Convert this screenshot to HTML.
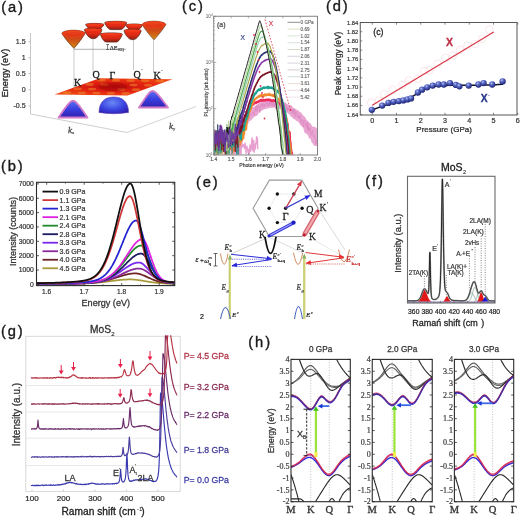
<!DOCTYPE html>
<html><head><meta charset="utf-8"><title>MoS2 figure</title>
<style>html,body{margin:0;padding:0;background:#fff;width:520px;height:519px;overflow:hidden}
svg{display:block}</style></head><body>
<svg width="520" height="519" viewBox="0 0 520 519"><defs>
<linearGradient id="coneG" x1="0" y1="0" x2="0" y2="1">
 <stop offset="0" stop-color="#e03818"/><stop offset="0.5" stop-color="#d04a18"/><stop offset="1" stop-color="#d08a10"/></linearGradient>
<linearGradient id="bowlG" x1="0" y1="0" x2="0" y2="1">
 <stop offset="0" stop-color="#f03418"/><stop offset="0.55" stop-color="#e02a14"/><stop offset="1" stop-color="#902014"/></linearGradient>
<radialGradient id="topG" cx="0.5" cy="0.5" r="0.6">
 <stop offset="0" stop-color="#f85a28"/><stop offset="1" stop-color="#e83414"/></radialGradient>
<radialGradient id="planeG" cx="0.5" cy="0.5" r="0.55">
 <stop offset="0" stop-color="#b0080c"/><stop offset="0.35" stop-color="#d81a10"/><stop offset="0.7" stop-color="#e82e12"/><stop offset="1" stop-color="#ee4a16"/></radialGradient>
<linearGradient id="domeG" x1="0" y1="0" x2="0" y2="1">
 <stop offset="0" stop-color="#5a70f0"/><stop offset="0.5" stop-color="#3a3ee0"/><stop offset="1" stop-color="#3020b0"/></linearGradient>
<radialGradient id="domeG2" cx="0.45" cy="0.35" r="0.7">
 <stop offset="0" stop-color="#6a88f4"/><stop offset="0.6" stop-color="#3a44e0"/><stop offset="1" stop-color="#3020b0"/></radialGradient>
<radialGradient id="ball" cx="0.38" cy="0.32" r="0.7">
<stop offset="0" stop-color="#b8c4f0"/><stop offset="0.35" stop-color="#5a6ac8"/><stop offset="1" stop-color="#1a2070"/></radialGradient><marker id="ahR" markerWidth="6" markerHeight="6" refX="5" refY="3" orient="auto" markerUnits="userSpaceOnUse">
<path d="M0,0.6 L5.5,3 L0,5.4 Z" fill="#d83a48"/></marker>
<marker id="ahB" markerWidth="6" markerHeight="6" refX="5" refY="3" orient="auto" markerUnits="userSpaceOnUse">
<path d="M0,0.6 L5.5,3 L0,5.4 Z" fill="#2828d8"/></marker>
<marker id="ahRr" markerWidth="6" markerHeight="6" refX="5" refY="3" orient="auto" markerUnits="userSpaceOnUse">
<path d="M0,0.6 L5.5,3 L0,5.4 Z" fill="#e83030"/></marker>
<marker id="ahG" markerWidth="6" markerHeight="6" refX="5" refY="3" orient="auto" markerUnits="userSpaceOnUse">
<path d="M0,0.8 L5,3 L0,5.2 Z" fill="#98c060"/></marker>
<linearGradient id="yel" x1="0" y1="0" x2="0" y2="1"><stop offset="0" stop-color="#c8d870"/><stop offset="1" stop-color="#e0d860"/></linearGradient></defs><text x="1.2" y="11.6" font-size="14.7" fill="#1a1a1a" text-anchor="start" font-family="'Liberation Sans', Arial, sans-serif" stroke="#1a1a1a" stroke-width="0.37" letter-spacing="1.9">(a)</text>
<text x="1" y="170.5" font-size="14.7" fill="#1a1a1a" text-anchor="start" font-family="'Liberation Sans', Arial, sans-serif" stroke="#1a1a1a" stroke-width="0.37" letter-spacing="1.9">(b)</text>
<text x="182" y="10.5" font-size="14.7" fill="#1a1a1a" text-anchor="start" font-family="'Liberation Sans', Arial, sans-serif" stroke="#1a1a1a" stroke-width="0.37" letter-spacing="1.9">(c)</text>
<text x="326" y="10.5" font-size="14.7" fill="#1a1a1a" text-anchor="start" font-family="'Liberation Sans', Arial, sans-serif" stroke="#1a1a1a" stroke-width="0.37" letter-spacing="1.9">(d)</text>
<text x="196" y="186.8" font-size="14.7" fill="#1a1a1a" text-anchor="start" font-family="'Liberation Sans', Arial, sans-serif" stroke="#1a1a1a" stroke-width="0.37" letter-spacing="1.9">(e)</text>
<text x="365.3" y="186.2" font-size="14.7" fill="#1a1a1a" text-anchor="start" font-family="'Liberation Sans', Arial, sans-serif" stroke="#1a1a1a" stroke-width="0.37" letter-spacing="1.9">(f)</text>
<text x="1" y="336.1" font-size="14.7" fill="#1a1a1a" text-anchor="start" font-family="'Liberation Sans', Arial, sans-serif" stroke="#1a1a1a" stroke-width="0.37" letter-spacing="1.9">(g)</text>
<text x="248.3" y="347.3" font-size="14.7" fill="#1a1a1a" text-anchor="start" font-family="'Liberation Sans', Arial, sans-serif" stroke="#1a1a1a" stroke-width="0.37" letter-spacing="1.9">(h)</text>
<line x1="30.5" y1="33" x2="30.5" y2="114" stroke="#c8c8c8" stroke-width="1"/>
<line x1="30.5" y1="114" x2="127" y2="132.5" stroke="#cfcfcf" stroke-width="1"/>
<line x1="127" y1="132.5" x2="196" y2="106.5" stroke="#d4d4d4" stroke-width="1"/>
<line x1="28.5" y1="41.8" x2="31" y2="41.8" stroke="#b0b0b0" stroke-width="0.8"/>
<text x="25.6" y="44.1" font-size="7" fill="#333" text-anchor="end" font-family="'Liberation Sans', Arial, sans-serif" stroke="#333" stroke-width="0.21">1.5</text>
<line x1="28.5" y1="57.8" x2="31" y2="57.8" stroke="#b0b0b0" stroke-width="0.8"/>
<text x="25.6" y="60.1" font-size="7" fill="#333" text-anchor="end" font-family="'Liberation Sans', Arial, sans-serif" stroke="#333" stroke-width="0.21">1</text>
<line x1="28.5" y1="73.7" x2="31" y2="73.7" stroke="#b0b0b0" stroke-width="0.8"/>
<text x="25.6" y="76" font-size="7" fill="#333" text-anchor="end" font-family="'Liberation Sans', Arial, sans-serif" stroke="#333" stroke-width="0.21">0.5</text>
<line x1="28.5" y1="89.8" x2="31" y2="89.8" stroke="#b0b0b0" stroke-width="0.8"/>
<text x="25.6" y="92.1" font-size="7" fill="#333" text-anchor="end" font-family="'Liberation Sans', Arial, sans-serif" stroke="#333" stroke-width="0.21">0</text>
<line x1="28.5" y1="106" x2="31" y2="106" stroke="#b0b0b0" stroke-width="0.8"/>
<text x="25.6" y="108.3" font-size="7" fill="#333" text-anchor="end" font-family="'Liberation Sans', Arial, sans-serif" stroke="#333" stroke-width="0.21">-0.5</text>
<text x="7.6" y="73" font-size="9.1" fill="#222" text-anchor="middle" font-family="'Liberation Sans', Arial, sans-serif" stroke="#222" stroke-width="0.27" transform="rotate(-90 7.6 73)">Energy (eV)</text>
<line x1="74" y1="48" x2="74" y2="88" stroke="#bdbdbd" stroke-width="0.8"/>
<line x1="93" y1="39" x2="93" y2="73" stroke="#bdbdbd" stroke-width="0.8"/>
<line x1="133.5" y1="40" x2="133.5" y2="70" stroke="#bdbdbd" stroke-width="0.8"/>
<line x1="153.5" y1="40" x2="153.5" y2="72" stroke="#bdbdbd" stroke-width="0.8"/>
<line x1="74" y1="49.3" x2="126" y2="49.3" stroke="#9a9a9a" stroke-width="0.8"/>
<line x1="107.6" y1="44.5" x2="107.6" y2="49.5" stroke="#444" stroke-width="0.7"/>
<line x1="106.2" y1="44.5" x2="109" y2="44.5" stroke="#444" stroke-width="0.7"/>
<line x1="106.2" y1="49.5" x2="109" y2="49.5" stroke="#444" stroke-width="0.7"/>
<text x="109.8" y="49.5" font-size="6.3" fill="#333" text-anchor="start" font-family="'Liberation Serif', 'Times New Roman', serif" stroke="#333" stroke-width="0.19">ΔE</text>
<text x="118.2" y="51" font-size="4" fill="#333" text-anchor="start" font-family="'Liberation Serif', 'Times New Roman', serif" stroke="#333" stroke-width="0.12">KQ</text>
<path d="M104.7,22.6 C106.35,26.45 108.33,29.6 111.08,29.6 L120.32,29.6 C123.07,29.6 125.05,26.45 126.7,22.6 A11,1.3 0 0 0 104.7,22.6 Z" fill="url(#bowlG)" stroke="#5a2010" stroke-width="0.8"/>
<ellipse cx="115.7" cy="22.6" rx="11" ry="1.3" fill="#f03c1c"/>
<path d="M85.6,24.6 C86.98,27.35 89.74,29.6 92.04,29.6 L97.56,29.6 C99.86,29.6 102.62,27.35 104,24.6 A9.2,1.2 0 0 0 85.6,24.6 Z" fill="url(#bowlG)" stroke="#5a2010" stroke-width="0.8"/>
<ellipse cx="94.8" cy="24.6" rx="9.2" ry="1.2" fill="#f03c1c"/>
<path d="M125.9,25.2 C127.13,27.95 129.59,30.2 131.64,30.2 L136.56,30.2 C138.61,30.2 141.07,27.95 142.3,25.2 A8.2,1.2 0 0 0 125.9,25.2 Z" fill="url(#bowlG)" stroke="#5a2010" stroke-width="0.8"/>
<ellipse cx="134.1" cy="25.2" rx="8.2" ry="1.2" fill="#f03c1c"/>
<path d="M84.4,29.6 C85.72,34.55 89.94,38.6 92.14,38.6 L94.26,38.6 C96.46,38.6 100.68,34.55 102,29.6 A8.8,1.3 0 0 0 84.4,29.6 Z" fill="url(#bowlG)" stroke="#5a2010" stroke-width="0.8"/>
<ellipse cx="93.2" cy="29.6" rx="8.8" ry="1.3" fill="#f03c1c"/>
<path d="M124,30.6 C125.29,35.55 129.42,39.6 131.57,39.6 L133.63,39.6 C135.78,39.6 139.91,35.55 141.2,30.6 A8.6,1.3 0 0 0 124,30.6 Z" fill="url(#bowlG)" stroke="#5a2010" stroke-width="0.8"/>
<ellipse cx="132.6" cy="30.6" rx="8.6" ry="1.3" fill="#f03c1c"/>
<path d="M100.3,34.2 C101.95,38.49 103.93,42 106.68,42 L115.92,42 C118.67,42 120.65,38.49 122.3,34.2 A11,1.3 0 0 0 100.3,34.2 Z" fill="url(#bowlG)" stroke="#5a2010" stroke-width="0.8"/>
<ellipse cx="111.3" cy="34.2" rx="11" ry="1.3" fill="#f03c1c"/>
<path d="M61.9,33.4 C65.15,39.06 72.16,46.51 73.9,48.3 C75.64,46.51 81.85,39.06 85.1,33.4 A11.6,3.2 0 0 0 61.9,33.4 Z" fill="url(#coneG)" stroke="#6a3010" stroke-width="0.7"/>
<ellipse cx="73.5" cy="33.4" rx="11.6" ry="3.2" fill="url(#topG)"/>
<ellipse cx="73.5" cy="34.04" rx="8.7" ry="1.92" fill="#d82a10" opacity="0.55"/>
<path d="M142.2,24.6 C145.5,30.38 152.23,37.98 154,39.8 C155.77,37.98 162.5,30.38 165.8,24.6 A11.8,3.4 0 0 0 142.2,24.6 Z" fill="url(#coneG)" stroke="#6a3010" stroke-width="0.7"/>
<ellipse cx="154" cy="24.6" rx="11.8" ry="3.4" fill="url(#topG)"/>
<ellipse cx="154" cy="25.28" rx="8.85" ry="2.04" fill="#d82a10" opacity="0.55"/>
<polygon points="54.5,94.5 99.5,78.2 172.5,79.2 127.5,95.5" fill="url(#planeG)" stroke="none" stroke-width="0"/>
<ellipse cx="67.2" cy="92.64" rx="4.2" ry="1.4" fill="#f0a030" opacity="0.45"/>
<ellipse cx="81.8" cy="92.84" rx="4.2" ry="1.4" fill="#f0a030" opacity="0.45"/>
<ellipse cx="96.4" cy="93.04" rx="4.2" ry="1.4" fill="#f0a030" opacity="0.45"/>
<ellipse cx="111" cy="93.24" rx="4.2" ry="1.4" fill="#f0a030" opacity="0.45"/>
<ellipse cx="125.6" cy="93.44" rx="4.2" ry="1.4" fill="#f0a030" opacity="0.45"/>
<ellipse cx="77.55" cy="88.89" rx="4.2" ry="1.4" fill="#f0a030" opacity="0.45"/>
<ellipse cx="92.15" cy="89.09" rx="4.2" ry="1.4" fill="#f0a030" opacity="0.45"/>
<ellipse cx="121.35" cy="89.5" rx="4.2" ry="1.4" fill="#f0a030" opacity="0.45"/>
<ellipse cx="135.95" cy="89.7" rx="4.2" ry="1.4" fill="#f0a030" opacity="0.45"/>
<ellipse cx="89.7" cy="84.49" rx="4.2" ry="1.4" fill="#f0a030" opacity="0.45"/>
<ellipse cx="104.3" cy="84.69" rx="4.2" ry="1.4" fill="#f0a030" opacity="0.45"/>
<ellipse cx="133.5" cy="85.09" rx="4.2" ry="1.4" fill="#f0a030" opacity="0.45"/>
<ellipse cx="148.1" cy="85.29" rx="4.2" ry="1.4" fill="#f0a030" opacity="0.45"/>
<ellipse cx="101.4" cy="80.26" rx="4.2" ry="1.4" fill="#f0a030" opacity="0.45"/>
<ellipse cx="116" cy="80.46" rx="4.2" ry="1.4" fill="#f0a030" opacity="0.45"/>
<ellipse cx="130.6" cy="80.66" rx="4.2" ry="1.4" fill="#f0a030" opacity="0.45"/>
<ellipse cx="145.2" cy="80.86" rx="4.2" ry="1.4" fill="#f0a030" opacity="0.45"/>
<ellipse cx="159.8" cy="81.06" rx="4.2" ry="1.4" fill="#f0a030" opacity="0.45"/>
<ellipse cx="113" cy="86.8" rx="14" ry="4.5" fill="#a80808" opacity="0.5"/>
<polygon points="58.5,117.5 59.09,116.64 59.68,115.77 60.28,114.92 60.87,114.06 61.46,113.21 62.05,112.37 62.64,111.53 63.23,110.69 63.83,109.87 64.42,109.05 65.01,108.24 65.6,107.45 66.19,106.67 66.79,105.91 67.38,105.17 67.97,104.45 68.56,103.77 69.15,103.13 69.74,102.54 70.34,102.01 70.93,101.56 71.52,101.2 72.11,100.95 72.7,100.82 73.3,100.82 73.89,100.95 74.48,101.2 75.07,101.56 75.66,102.01 76.26,102.54 76.85,103.13 77.44,103.77 78.03,104.45 78.62,105.17 79.21,105.91 79.81,106.67 80.4,107.45 80.99,108.24 81.58,109.05 82.17,109.87 82.77,110.69 83.36,111.53 83.95,112.37 84.54,113.21 85.13,114.06 85.72,114.92 86.32,115.77 86.91,116.64 87.5,117.5" fill="url(#domeG)" stroke="#d27ac6" stroke-width="1.8" stroke-linejoin="round"/>
<polygon points="139,107.5 139.59,106.58 140.18,105.67 140.78,104.76 141.37,103.85 141.96,102.95 142.55,102.06 143.14,101.17 143.73,100.29 144.33,99.42 144.92,98.56 145.51,97.71 146.1,96.88 146.69,96.07 147.29,95.29 147.88,94.53 148.47,93.81 149.06,93.14 149.65,92.53 150.24,92 150.84,91.56 151.43,91.24 152.02,91.05 152.61,91 153.2,91.08 153.8,91.27 154.39,91.55 154.98,91.92 155.57,92.37 156.16,92.88 156.76,93.44 157.35,94.04 157.94,94.67 158.53,95.34 159.12,96.02 159.71,96.73 160.31,97.44 160.9,98.18 161.49,98.92 162.08,99.67 162.67,100.43 163.27,101.2 163.86,101.97 164.45,102.75 165.04,103.53 165.63,104.32 166.22,105.11 166.82,105.9 167.41,106.7 168,107.5" fill="url(#domeG)" stroke="#d27ac6" stroke-width="1.8" stroke-linejoin="round"/>
<path d="M99,112.5 C99,101 106,97 113.7,97 C121.5,97 128.5,101 128.5,112.5 Q113.7,115 99,112.5 Z" fill="url(#domeG2)" stroke="#5a3ab0" stroke-width="0.6"/>
<text x="77.5" y="86.3" font-size="10" fill="#1a1a1a" text-anchor="middle" font-family="'Liberation Serif', 'Times New Roman', serif" stroke="#1a1a1a" stroke-width="0.3">K</text>
<text x="96" y="78.3" font-size="10" fill="#1a1a1a" text-anchor="middle" font-family="'Liberation Serif', 'Times New Roman', serif" stroke="#1a1a1a" stroke-width="0.3">Q</text>
<text x="112.5" y="79.3" font-size="10" fill="#1a1a1a" text-anchor="middle" font-family="'Liberation Serif', 'Times New Roman', serif" stroke="#1a1a1a" stroke-width="0.3">Γ</text>
<text x="137" y="78.3" font-size="10" fill="#1a1a1a" text-anchor="middle" font-family="'Liberation Serif', 'Times New Roman', serif" stroke="#1a1a1a" stroke-width="0.3">Q</text>
<text x="141.5" y="72" font-size="5" fill="#1a1a1a" text-anchor="start" font-family="'Liberation Serif', 'Times New Roman', serif" stroke="#1a1a1a" stroke-width="0.15">'</text>
<text x="157" y="79.3" font-size="10" fill="#1a1a1a" text-anchor="middle" font-family="'Liberation Serif', 'Times New Roman', serif" stroke="#1a1a1a" stroke-width="0.3">K</text>
<text x="161.5" y="73" font-size="5" fill="#1a1a1a" text-anchor="start" font-family="'Liberation Serif', 'Times New Roman', serif" stroke="#1a1a1a" stroke-width="0.15">'</text>
<text x="68" y="132.5" font-size="9" fill="#444" text-anchor="start" font-family="'Liberation Serif', 'Times New Roman', serif" font-style="italic" stroke="#444" stroke-width="0.27">k</text>
<text x="72" y="134" font-size="4.5" fill="#444" text-anchor="start" font-family="'Liberation Serif', 'Times New Roman', serif" stroke="#444" stroke-width="0.14">x</text>
<text x="169" y="128.5" font-size="9" fill="#444" text-anchor="start" font-family="'Liberation Serif', 'Times New Roman', serif" font-style="italic" stroke="#444" stroke-width="0.27">k</text>
<text x="173" y="130" font-size="4.5" fill="#444" text-anchor="start" font-family="'Liberation Serif', 'Times New Roman', serif" stroke="#444" stroke-width="0.14">y</text>
<polyline points="36.2,283.96 36.73,283.96 37.27,283.96 37.8,283.96 38.34,283.96 38.87,283.95 39.41,283.95 39.94,283.95 40.47,283.95 41.01,283.95 41.54,283.95 42.08,283.95 42.61,283.95 43.15,283.95 43.68,283.95 44.21,283.94 44.75,283.94 45.28,283.94 45.82,283.94 46.35,283.94 46.89,283.94 47.42,283.94 47.95,283.94 48.49,283.93 49.02,283.93 49.56,283.93 50.09,283.93 50.63,283.93 51.16,283.93 51.69,283.92 52.23,283.92 52.76,283.92 53.3,283.92 53.83,283.92 54.37,283.92 54.9,283.91 55.43,283.91 55.97,283.91 56.5,283.91 57.04,283.9 57.57,283.9 58.1,283.9 58.64,283.9 59.17,283.89 59.71,283.89 60.24,283.89 60.78,283.89 61.31,283.88 61.84,283.88 62.38,283.88 62.91,283.87 63.45,283.87 63.98,283.87 64.52,283.86 65.05,283.86 65.58,283.85 66.12,283.85 66.65,283.84 67.19,283.84 67.72,283.83 68.26,283.83 68.79,283.82 69.32,283.82 69.86,283.81 70.39,283.8 70.93,283.8 71.46,283.79 72,283.78 72.53,283.77 73.06,283.77 73.6,283.76 74.13,283.75 74.67,283.74 75.2,283.73 75.74,283.72 76.27,283.71 76.8,283.69 77.34,283.68 77.87,283.67 78.41,283.66 78.94,283.64 79.48,283.63 80.01,283.61 80.54,283.6 81.08,283.58 81.61,283.56 82.15,283.55 82.68,283.53 83.22,283.51 83.75,283.49 84.28,283.47 84.82,283.44 85.35,283.42 85.89,283.4 86.42,283.37 86.96,283.35 87.49,283.32 88.02,283.29 88.56,283.26 89.09,283.23 89.63,283.2 90.16,283.17 90.7,283.13 91.23,283.1 91.76,283.06 92.3,283.03 92.83,282.99 93.37,282.95 93.9,282.91 94.44,282.87 94.97,282.83 95.5,282.78 96.04,282.74 96.57,282.69 97.11,282.64 97.64,282.6 98.17,282.55 98.71,282.49 99.24,282.44 99.78,282.39 100.31,282.33 100.85,282.28 101.38,282.22 101.91,282.16 102.45,282.11 102.98,282.05 103.52,281.99 104.05,281.92 104.59,281.86 105.12,281.8 105.65,281.73 106.19,281.67 106.72,281.6 107.26,281.54 107.79,281.47 108.33,281.4 108.86,281.34 109.39,281.27 109.93,281.2 110.46,281.13 111,281.06 111.53,280.99 112.07,280.93 112.6,280.86 113.13,280.79 113.67,280.72 114.2,280.66 114.74,280.59 115.27,280.52 115.81,280.46 116.34,280.39 116.87,280.33 117.41,280.27 117.94,280.21 118.48,280.15 119.01,280.09 119.55,280.04 120.08,279.98 120.61,279.93 121.15,279.88 121.68,279.83 122.22,279.79 122.75,279.74 123.29,279.7 123.82,279.66 124.35,279.63 124.89,279.6 125.42,279.57 125.96,279.54 126.49,279.52 127.03,279.5 127.56,279.48 128.09,279.47 128.63,279.46 129.16,279.45 129.7,279.45 130.23,279.45 130.77,279.45 131.3,279.46 131.83,279.48 132.37,279.5 132.9,279.53 133.44,279.57 133.97,279.61 134.51,279.65 135.04,279.7 135.57,279.75 136.11,279.81 136.64,279.87 137.18,279.94 137.71,280 138.24,280.08 138.78,280.15 139.31,280.23 139.85,280.31 140.38,280.39 140.92,280.47 141.45,280.56 141.98,280.64 142.52,280.73 143.05,280.82 143.59,280.91 144.12,281 144.66,281.08 145.19,281.17 145.72,281.26 146.26,281.35 146.79,281.44 147.33,281.52 147.86,281.61 148.4,281.7 148.93,281.78 149.46,281.86 150,281.94 150.53,282.02 151.07,282.1 151.6,282.18 152.14,282.25 152.67,282.32 153.2,282.39 153.74,282.46 154.27,282.53 154.81,282.6 155.34,282.66 155.88,282.72 156.41,282.78 156.94,282.84 157.48,282.89 158.01,282.94 158.55,282.99 159.08,283.04 159.62,283.09 160.15,283.14 160.68,283.18 161.22,283.22 161.75,283.26 162.29,283.3 162.82,283.33 163.36,283.37 163.89,283.4 164.42,283.43 164.96,283.46 165.49,283.49 166.03,283.51 166.56,283.54 167.1,283.56 167.63,283.58 168.16,283.61 168.7,283.63 169.23,283.64 169.77,283.66 170.3,283.68 170.84,283.69 171.37,283.71 171.9,283.72 172.44,283.74 172.97,283.75 173.51,283.76 174.04,283.77 174.57,283.78" fill="none" stroke="#a89a38" stroke-width="1.75" stroke-linejoin="round"/>
<polyline points="36.2,283.89 36.73,283.89 37.27,283.89 37.8,283.89 38.34,283.89 38.87,283.89 39.41,283.89 39.94,283.88 40.47,283.88 41.01,283.88 41.54,283.88 42.08,283.88 42.61,283.88 43.15,283.87 43.68,283.87 44.21,283.87 44.75,283.87 45.28,283.87 45.82,283.86 46.35,283.86 46.89,283.86 47.42,283.86 47.95,283.86 48.49,283.85 49.02,283.85 49.56,283.85 50.09,283.85 50.63,283.84 51.16,283.84 51.69,283.84 52.23,283.84 52.76,283.83 53.3,283.83 53.83,283.83 54.37,283.83 54.9,283.82 55.43,283.82 55.97,283.82 56.5,283.81 57.04,283.81 57.57,283.81 58.1,283.81 58.64,283.8 59.17,283.8 59.71,283.8 60.24,283.79 60.78,283.79 61.31,283.78 61.84,283.78 62.38,283.78 62.91,283.77 63.45,283.77 63.98,283.76 64.52,283.76 65.05,283.75 65.58,283.75 66.12,283.74 66.65,283.74 67.19,283.73 67.72,283.73 68.26,283.72 68.79,283.72 69.32,283.71 69.86,283.7 70.39,283.7 70.93,283.69 71.46,283.68 72,283.67 72.53,283.67 73.06,283.66 73.6,283.65 74.13,283.64 74.67,283.63 75.2,283.62 75.74,283.61 76.27,283.6 76.8,283.58 77.34,283.57 77.87,283.56 78.41,283.54 78.94,283.53 79.48,283.51 80.01,283.5 80.54,283.48 81.08,283.46 81.61,283.45 82.15,283.43 82.68,283.4 83.22,283.38 83.75,283.36 84.28,283.34 84.82,283.31 85.35,283.28 85.89,283.25 86.42,283.22 86.96,283.19 87.49,283.16 88.02,283.13 88.56,283.09 89.09,283.05 89.63,283.01 90.16,282.97 90.7,282.93 91.23,282.88 91.76,282.83 92.3,282.78 92.83,282.73 93.37,282.68 93.9,282.62 94.44,282.56 94.97,282.5 95.5,282.43 96.04,282.37 96.57,282.3 97.11,282.22 97.64,282.15 98.17,282.07 98.71,281.99 99.24,281.9 99.78,281.81 100.31,281.72 100.85,281.63 101.38,281.53 101.91,281.43 102.45,281.33 102.98,281.22 103.52,281.11 104.05,280.99 104.59,280.88 105.12,280.76 105.65,280.63 106.19,280.51 106.72,280.38 107.26,280.24 107.79,280.11 108.33,279.97 108.86,279.83 109.39,279.68 109.93,279.53 110.46,279.38 111,279.23 111.53,279.08 112.07,278.92 112.6,278.76 113.13,278.6 113.67,278.43 114.2,278.27 114.74,278.1 115.27,277.93 115.81,277.76 116.34,277.59 116.87,277.42 117.41,277.25 117.94,277.08 118.48,276.91 119.01,276.74 119.55,276.57 120.08,276.4 120.61,276.23 121.15,276.06 121.68,275.9 122.22,275.73 122.75,275.57 123.29,275.42 123.82,275.26 124.35,275.11 124.89,274.97 125.42,274.83 125.96,274.69 126.49,274.56 127.03,274.43 127.56,274.31 128.09,274.2 128.63,274.09 129.16,273.99 129.7,273.89 130.23,273.81 130.77,273.73 131.3,273.66 131.83,273.6 132.37,273.54 132.9,273.5 133.44,273.47 133.97,273.44 134.51,273.42 135.04,273.42 135.57,273.42 136.11,273.44 136.64,273.48 137.18,273.54 137.71,273.62 138.24,273.72 138.78,273.83 139.31,273.96 139.85,274.1 140.38,274.26 140.92,274.43 141.45,274.61 141.98,274.8 142.52,275.01 143.05,275.22 143.59,275.44 144.12,275.66 144.66,275.89 145.19,276.13 145.72,276.37 146.26,276.61 146.79,276.86 147.33,277.1 147.86,277.35 148.4,277.59 148.93,277.83 149.46,278.07 150,278.31 150.53,278.55 151.07,278.78 151.6,279.01 152.14,279.23 152.67,279.45 153.2,279.66 153.74,279.87 154.27,280.07 154.81,280.26 155.34,280.45 155.88,280.63 156.41,280.81 156.94,280.98 157.48,281.14 158.01,281.29 158.55,281.44 159.08,281.58 159.62,281.72 160.15,281.85 160.68,281.97 161.22,282.09 161.75,282.2 162.29,282.3 162.82,282.4 163.36,282.5 163.89,282.58 164.42,282.67 164.96,282.75 165.49,282.82 166.03,282.89 166.56,282.95 167.1,283.01 167.63,283.07 168.16,283.12 168.7,283.17 169.23,283.22 169.77,283.26 170.3,283.3 170.84,283.33 171.37,283.37 171.9,283.4 172.44,283.43 172.97,283.46 173.51,283.48 174.04,283.51 174.57,283.53" fill="none" stroke="#6e2424" stroke-width="1.75" stroke-linejoin="round"/>
<polyline points="36.2,283.85 36.73,283.85 37.27,283.85 37.8,283.85 38.34,283.85 38.87,283.85 39.41,283.84 39.94,283.84 40.47,283.84 41.01,283.84 41.54,283.83 42.08,283.83 42.61,283.83 43.15,283.83 43.68,283.83 44.21,283.82 44.75,283.82 45.28,283.82 45.82,283.82 46.35,283.81 46.89,283.81 47.42,283.81 47.95,283.81 48.49,283.8 49.02,283.8 49.56,283.8 50.09,283.8 50.63,283.79 51.16,283.79 51.69,283.79 52.23,283.78 52.76,283.78 53.3,283.78 53.83,283.77 54.37,283.77 54.9,283.77 55.43,283.76 55.97,283.76 56.5,283.76 57.04,283.75 57.57,283.75 58.1,283.75 58.64,283.74 59.17,283.74 59.71,283.74 60.24,283.73 60.78,283.73 61.31,283.72 61.84,283.72 62.38,283.71 62.91,283.71 63.45,283.71 63.98,283.7 64.52,283.7 65.05,283.69 65.58,283.69 66.12,283.68 66.65,283.68 67.19,283.67 67.72,283.66 68.26,283.66 68.79,283.65 69.32,283.65 69.86,283.64 70.39,283.63 70.93,283.63 71.46,283.62 72,283.61 72.53,283.6 73.06,283.59 73.6,283.59 74.13,283.58 74.67,283.57 75.2,283.56 75.74,283.55 76.27,283.54 76.8,283.53 77.34,283.52 77.87,283.51 78.41,283.49 78.94,283.48 79.48,283.47 80.01,283.45 80.54,283.44 81.08,283.42 81.61,283.4 82.15,283.39 82.68,283.37 83.22,283.35 83.75,283.33 84.28,283.31 84.82,283.28 85.35,283.26 85.89,283.24 86.42,283.21 86.96,283.18 87.49,283.15 88.02,283.12 88.56,283.09 89.09,283.05 89.63,283.02 90.16,282.98 90.7,282.94 91.23,282.9 91.76,282.85 92.3,282.81 92.83,282.76 93.37,282.7 93.9,282.65 94.44,282.59 94.97,282.53 95.5,282.47 96.04,282.4 96.57,282.33 97.11,282.26 97.64,282.18 98.17,282.1 98.71,282.02 99.24,281.93 99.78,281.84 100.31,281.74 100.85,281.64 101.38,281.54 101.91,281.43 102.45,281.32 102.98,281.2 103.52,281.08 104.05,280.95 104.59,280.82 105.12,280.68 105.65,280.54 106.19,280.4 106.72,280.24 107.26,280.09 107.79,279.93 108.33,279.76 108.86,279.59 109.39,279.41 109.93,279.23 110.46,279.04 111,278.85 111.53,278.65 112.07,278.45 112.6,278.24 113.13,278.03 113.67,277.82 114.2,277.6 114.74,277.37 115.27,277.14 115.81,276.91 116.34,276.67 116.87,276.43 117.41,276.19 117.94,275.95 118.48,275.7 119.01,275.45 119.55,275.19 120.08,274.94 120.61,274.68 121.15,274.42 121.68,274.16 122.22,273.9 122.75,273.65 123.29,273.39 123.82,273.13 124.35,272.87 124.89,272.62 125.42,272.37 125.96,272.12 126.49,271.88 127.03,271.64 127.56,271.4 128.09,271.17 128.63,270.94 129.16,270.73 129.7,270.51 130.23,270.31 130.77,270.11 131.3,269.93 131.83,269.75 132.37,269.58 132.9,269.43 133.44,269.28 133.97,269.15 134.51,269.02 135.04,268.92 135.57,268.82 136.11,268.74 136.64,268.67 137.18,268.61 137.71,268.57 138.24,268.54 138.78,268.53 139.31,268.54 139.85,268.58 140.38,268.65 140.92,268.76 141.45,268.9 141.98,269.07 142.52,269.26 143.05,269.49 143.59,269.74 144.12,270.01 144.66,270.31 145.19,270.62 145.72,270.95 146.26,271.3 146.79,271.66 147.33,272.03 147.86,272.4 148.4,272.79 148.93,273.18 149.46,273.57 150,273.97 150.53,274.36 151.07,274.76 151.6,275.15 152.14,275.53 152.67,275.91 153.2,276.29 153.74,276.66 154.27,277.02 154.81,277.37 155.34,277.71 155.88,278.04 156.41,278.36 156.94,278.67 157.48,278.97 158.01,279.25 158.55,279.53 159.08,279.79 159.62,280.04 160.15,280.28 160.68,280.51 161.22,280.72 161.75,280.93 162.29,281.12 162.82,281.3 163.36,281.48 163.89,281.64 164.42,281.79 164.96,281.93 165.49,282.06 166.03,282.18 166.56,282.3 167.1,282.41 167.63,282.51 168.16,282.6 168.7,282.69 169.23,282.77 169.77,282.84 170.3,282.91 170.84,282.97 171.37,283.03 171.9,283.08 172.44,283.13 172.97,283.18 173.51,283.22 174.04,283.26 174.57,283.3" fill="none" stroke="#8a2a9a" stroke-width="1.75" stroke-linejoin="round"/>
<polyline points="36.2,283.8 36.73,283.8 37.27,283.79 37.8,283.79 38.34,283.79 38.87,283.79 39.41,283.78 39.94,283.78 40.47,283.78 41.01,283.78 41.54,283.77 42.08,283.77 42.61,283.77 43.15,283.76 43.68,283.76 44.21,283.76 44.75,283.76 45.28,283.75 45.82,283.75 46.35,283.75 46.89,283.74 47.42,283.74 47.95,283.74 48.49,283.73 49.02,283.73 49.56,283.73 50.09,283.72 50.63,283.72 51.16,283.71 51.69,283.71 52.23,283.71 52.76,283.7 53.3,283.7 53.83,283.69 54.37,283.69 54.9,283.69 55.43,283.68 55.97,283.68 56.5,283.67 57.04,283.67 57.57,283.66 58.1,283.66 58.64,283.65 59.17,283.65 59.71,283.64 60.24,283.64 60.78,283.63 61.31,283.63 61.84,283.62 62.38,283.62 62.91,283.61 63.45,283.61 63.98,283.6 64.52,283.59 65.05,283.59 65.58,283.58 66.12,283.57 66.65,283.57 67.19,283.56 67.72,283.55 68.26,283.55 68.79,283.54 69.32,283.53 69.86,283.52 70.39,283.51 70.93,283.51 71.46,283.5 72,283.49 72.53,283.48 73.06,283.47 73.6,283.46 74.13,283.45 74.67,283.44 75.2,283.42 75.74,283.41 76.27,283.4 76.8,283.39 77.34,283.37 77.87,283.36 78.41,283.34 78.94,283.33 79.48,283.31 80.01,283.3 80.54,283.28 81.08,283.26 81.61,283.24 82.15,283.22 82.68,283.2 83.22,283.17 83.75,283.15 84.28,283.12 84.82,283.1 85.35,283.07 85.89,283.04 86.42,283.01 86.96,282.97 87.49,282.94 88.02,282.9 88.56,282.86 89.09,282.82 89.63,282.78 90.16,282.73 90.7,282.68 91.23,282.63 91.76,282.58 92.3,282.52 92.83,282.46 93.37,282.39 93.9,282.33 94.44,282.25 94.97,282.18 95.5,282.1 96.04,282.02 96.57,281.93 97.11,281.84 97.64,281.74 98.17,281.64 98.71,281.53 99.24,281.42 99.78,281.3 100.31,281.18 100.85,281.05 101.38,280.92 101.91,280.78 102.45,280.63 102.98,280.48 103.52,280.32 104.05,280.15 104.59,279.98 105.12,279.8 105.65,279.61 106.19,279.41 106.72,279.21 107.26,279 107.79,278.79 108.33,278.56 108.86,278.33 109.39,278.09 109.93,277.84 110.46,277.59 111,277.32 111.53,277.05 112.07,276.78 112.6,276.49 113.13,276.2 113.67,275.9 114.2,275.59 114.74,275.28 115.27,274.96 115.81,274.64 116.34,274.3 116.87,273.97 117.41,273.62 117.94,273.28 118.48,272.92 119.01,272.57 119.55,272.21 120.08,271.84 120.61,271.48 121.15,271.11 121.68,270.74 122.22,270.36 122.75,269.99 123.29,269.62 123.82,269.25 124.35,268.88 124.89,268.51 125.42,268.15 125.96,267.79 126.49,267.43 127.03,267.08 127.56,266.73 128.09,266.4 128.63,266.07 129.16,265.75 129.7,265.43 130.23,265.13 130.77,264.85 131.3,264.57 131.83,264.31 132.37,264.06 132.9,263.83 133.44,263.61 133.97,263.41 134.51,263.23 135.04,263.07 135.57,262.93 136.11,262.81 136.64,262.7 137.18,262.62 137.71,262.56 138.24,262.52 138.78,262.5 139.31,262.51 139.85,262.58 140.38,262.71 140.92,262.89 141.45,263.13 141.98,263.42 142.52,263.76 143.05,264.14 143.59,264.56 144.12,265.02 144.66,265.52 145.19,266.04 145.72,266.59 146.26,267.15 146.79,267.73 147.33,268.33 147.86,268.94 148.4,269.55 148.93,270.16 149.46,270.77 150,271.38 150.53,271.98 151.07,272.58 151.6,273.16 152.14,273.74 152.67,274.3 153.2,274.84 153.74,275.37 154.27,275.87 154.81,276.36 155.34,276.84 155.88,277.29 156.41,277.72 156.94,278.13 157.48,278.51 158.01,278.88 158.55,279.23 159.08,279.56 159.62,279.87 160.15,280.16 160.68,280.43 161.22,280.68 161.75,280.92 162.29,281.13 162.82,281.34 163.36,281.52 163.89,281.7 164.42,281.86 164.96,282.01 165.49,282.14 166.03,282.27 166.56,282.38 167.1,282.48 167.63,282.58 168.16,282.67 168.7,282.75 169.23,282.82 169.77,282.89 170.3,282.95 170.84,283.01 171.37,283.06 171.9,283.1 172.44,283.15 172.97,283.19 173.51,283.22 174.04,283.26 174.57,283.29" fill="none" stroke="#7a28f0" stroke-width="1.75" stroke-linejoin="round"/>
<polyline points="36.2,283.74 36.73,283.73 37.27,283.73 37.8,283.73 38.34,283.72 38.87,283.72 39.41,283.72 39.94,283.71 40.47,283.71 41.01,283.71 41.54,283.7 42.08,283.7 42.61,283.7 43.15,283.69 43.68,283.69 44.21,283.68 44.75,283.68 45.28,283.68 45.82,283.67 46.35,283.67 46.89,283.67 47.42,283.66 47.95,283.66 48.49,283.65 49.02,283.65 49.56,283.64 50.09,283.64 50.63,283.64 51.16,283.63 51.69,283.63 52.23,283.62 52.76,283.62 53.3,283.61 53.83,283.61 54.37,283.6 54.9,283.6 55.43,283.59 55.97,283.59 56.5,283.58 57.04,283.57 57.57,283.57 58.1,283.56 58.64,283.56 59.17,283.55 59.71,283.54 60.24,283.54 60.78,283.53 61.31,283.53 61.84,283.52 62.38,283.51 62.91,283.51 63.45,283.5 63.98,283.49 64.52,283.48 65.05,283.48 65.58,283.47 66.12,283.46 66.65,283.45 67.19,283.45 67.72,283.44 68.26,283.43 68.79,283.42 69.32,283.41 69.86,283.4 70.39,283.39 70.93,283.38 71.46,283.37 72,283.36 72.53,283.35 73.06,283.34 73.6,283.33 74.13,283.32 74.67,283.31 75.2,283.29 75.74,283.28 76.27,283.27 76.8,283.25 77.34,283.24 77.87,283.23 78.41,283.21 78.94,283.19 79.48,283.18 80.01,283.16 80.54,283.14 81.08,283.12 81.61,283.1 82.15,283.08 82.68,283.06 83.22,283.04 83.75,283.02 84.28,282.99 84.82,282.97 85.35,282.94 85.89,282.91 86.42,282.88 86.96,282.85 87.49,282.81 88.02,282.78 88.56,282.74 89.09,282.7 89.63,282.66 90.16,282.61 90.7,282.57 91.23,282.52 91.76,282.46 92.3,282.41 92.83,282.35 93.37,282.29 93.9,282.22 94.44,282.15 94.97,282.08 95.5,282 96.04,281.92 96.57,281.83 97.11,281.74 97.64,281.64 98.17,281.54 98.71,281.43 99.24,281.31 99.78,281.19 100.31,281.06 100.85,280.93 101.38,280.79 101.91,280.64 102.45,280.48 102.98,280.32 103.52,280.14 104.05,279.96 104.59,279.77 105.12,279.57 105.65,279.36 106.19,279.14 106.72,278.92 107.26,278.68 107.79,278.43 108.33,278.17 108.86,277.9 109.39,277.62 109.93,277.33 110.46,277.02 111,276.71 111.53,276.38 112.07,276.04 112.6,275.69 113.13,275.33 113.67,274.96 114.2,274.58 114.74,274.18 115.27,273.78 115.81,273.36 116.34,272.93 116.87,272.49 117.41,272.04 117.94,271.58 118.48,271.11 119.01,270.63 119.55,270.14 120.08,269.65 120.61,269.14 121.15,268.63 121.68,268.11 122.22,267.58 122.75,267.05 123.29,266.52 123.82,265.98 124.35,265.44 124.89,264.89 125.42,264.35 125.96,263.8 126.49,263.26 127.03,262.71 127.56,262.17 128.09,261.64 128.63,261.11 129.16,260.59 129.7,260.07 130.23,259.57 130.77,259.07 131.3,258.59 131.83,258.12 132.37,257.67 132.9,257.23 133.44,256.81 133.97,256.41 134.51,256.04 135.04,255.68 135.57,255.35 136.11,255.04 136.64,254.77 137.18,254.51 137.71,254.29 138.24,254.1 138.78,253.93 139.31,253.8 139.85,253.7 140.38,253.64 140.92,253.6 141.45,253.61 141.98,253.71 142.52,253.92 143.05,254.23 143.59,254.64 144.12,255.14 144.66,255.72 145.19,256.38 145.72,257.11 146.26,257.9 146.79,258.74 147.33,259.62 147.86,260.54 148.4,261.49 148.93,262.45 149.46,263.43 150,264.41 150.53,265.39 151.07,266.36 151.6,267.33 152.14,268.27 152.67,269.2 153.2,270.1 153.74,270.97 154.27,271.82 154.81,272.63 155.34,273.41 155.88,274.15 156.41,274.85 156.94,275.52 157.48,276.15 158.01,276.74 158.55,277.3 159.08,277.82 159.62,278.3 160.15,278.75 160.68,279.17 161.22,279.55 161.75,279.91 162.29,280.23 162.82,280.53 163.36,280.8 163.89,281.05 164.42,281.28 164.96,281.48 165.49,281.67 166.03,281.84 166.56,281.99 167.1,282.13 167.63,282.26 168.16,282.37 168.7,282.47 169.23,282.56 169.77,282.65 170.3,282.72 170.84,282.79 171.37,282.85 171.9,282.91 172.44,282.96 172.97,283 173.51,283.05 174.04,283.09 174.57,283.12" fill="none" stroke="#1a1a60" stroke-width="1.75" stroke-linejoin="round"/>
<polyline points="36.2,283.68 36.73,283.68 37.27,283.67 37.8,283.67 38.34,283.67 38.87,283.66 39.41,283.66 39.94,283.66 40.47,283.65 41.01,283.65 41.54,283.64 42.08,283.64 42.61,283.64 43.15,283.63 43.68,283.63 44.21,283.62 44.75,283.62 45.28,283.61 45.82,283.61 46.35,283.6 46.89,283.6 47.42,283.59 47.95,283.59 48.49,283.58 49.02,283.58 49.56,283.57 50.09,283.57 50.63,283.56 51.16,283.56 51.69,283.55 52.23,283.55 52.76,283.54 53.3,283.54 53.83,283.53 54.37,283.52 54.9,283.52 55.43,283.51 55.97,283.5 56.5,283.5 57.04,283.49 57.57,283.49 58.1,283.48 58.64,283.47 59.17,283.46 59.71,283.46 60.24,283.45 60.78,283.44 61.31,283.43 61.84,283.43 62.38,283.42 62.91,283.41 63.45,283.4 63.98,283.39 64.52,283.39 65.05,283.38 65.58,283.37 66.12,283.36 66.65,283.35 67.19,283.34 67.72,283.33 68.26,283.32 68.79,283.31 69.32,283.3 69.86,283.29 70.39,283.28 70.93,283.27 71.46,283.26 72,283.24 72.53,283.23 73.06,283.22 73.6,283.21 74.13,283.19 74.67,283.18 75.2,283.17 75.74,283.15 76.27,283.14 76.8,283.12 77.34,283.11 77.87,283.09 78.41,283.07 78.94,283.05 79.48,283.04 80.01,283.02 80.54,283 81.08,282.98 81.61,282.96 82.15,282.93 82.68,282.91 83.22,282.89 83.75,282.86 84.28,282.83 84.82,282.81 85.35,282.78 85.89,282.74 86.42,282.71 86.96,282.68 87.49,282.64 88.02,282.6 88.56,282.56 89.09,282.52 89.63,282.48 90.16,282.43 90.7,282.38 91.23,282.32 91.76,282.27 92.3,282.21 92.83,282.14 93.37,282.08 93.9,282.01 94.44,281.93 94.97,281.85 95.5,281.77 96.04,281.67 96.57,281.58 97.11,281.48 97.64,281.37 98.17,281.26 98.71,281.14 99.24,281.01 99.78,280.87 100.31,280.73 100.85,280.58 101.38,280.42 101.91,280.25 102.45,280.07 102.98,279.88 103.52,279.68 104.05,279.47 104.59,279.25 105.12,279.02 105.65,278.78 106.19,278.52 106.72,278.26 107.26,277.97 107.79,277.68 108.33,277.37 108.86,277.05 109.39,276.71 109.93,276.36 110.46,276 111,275.62 111.53,275.22 112.07,274.81 112.6,274.38 113.13,273.94 113.67,273.48 114.2,273.01 114.74,272.52 115.27,272.01 115.81,271.49 116.34,270.95 116.87,270.4 117.41,269.84 117.94,269.26 118.48,268.66 119.01,268.05 119.55,267.43 120.08,266.79 120.61,266.15 121.15,265.49 121.68,264.82 122.22,264.14 122.75,263.46 123.29,262.76 123.82,262.06 124.35,261.35 124.89,260.64 125.42,259.93 125.96,259.21 126.49,258.49 127.03,257.78 127.56,257.07 128.09,256.36 128.63,255.66 129.16,254.96 129.7,254.28 130.23,253.6 130.77,252.94 131.3,252.3 131.83,251.67 132.37,251.06 132.9,250.48 133.44,249.91 133.97,249.38 134.51,248.87 135.04,248.39 135.57,247.94 136.11,247.52 136.64,247.14 137.18,246.8 137.71,246.5 138.24,246.24 138.78,246.01 139.31,245.84 139.85,245.7 140.38,245.61 140.92,245.56 141.45,245.57 141.98,245.72 142.52,246.03 143.05,246.47 143.59,247.06 144.12,247.78 144.66,248.61 145.19,249.56 145.72,250.59 146.26,251.7 146.79,252.89 147.33,254.12 147.86,255.4 148.4,256.7 148.93,258.02 149.46,259.35 150,260.68 150.53,262 151.07,263.29 151.6,264.57 152.14,265.81 152.67,267.01 153.2,268.17 153.74,269.29 154.27,270.35 154.81,271.37 155.34,272.33 155.88,273.24 156.41,274.09 156.94,274.89 157.48,275.64 158.01,276.33 158.55,276.97 159.08,277.57 159.62,278.11 160.15,278.61 160.68,279.07 161.22,279.49 161.75,279.86 162.29,280.21 162.82,280.52 163.36,280.8 163.89,281.05 164.42,281.28 164.96,281.48 165.49,281.67 166.03,281.83 166.56,281.98 167.1,282.11 167.63,282.23 168.16,282.34 168.7,282.43 169.23,282.52 169.77,282.59 170.3,282.66 170.84,282.73 171.37,282.79 171.9,282.84 172.44,282.89 172.97,282.93 173.51,282.97 174.04,283.01 174.57,283.05" fill="none" stroke="#1e8a2a" stroke-width="1.75" stroke-linejoin="round"/>
<polyline points="36.2,283.63 36.73,283.63 37.27,283.62 37.8,283.62 38.34,283.61 38.87,283.61 39.41,283.61 39.94,283.6 40.47,283.6 41.01,283.59 41.54,283.59 42.08,283.58 42.61,283.58 43.15,283.57 43.68,283.57 44.21,283.56 44.75,283.56 45.28,283.55 45.82,283.55 46.35,283.54 46.89,283.54 47.42,283.53 47.95,283.53 48.49,283.52 49.02,283.52 49.56,283.51 50.09,283.5 50.63,283.5 51.16,283.49 51.69,283.49 52.23,283.48 52.76,283.47 53.3,283.47 53.83,283.46 54.37,283.45 54.9,283.45 55.43,283.44 55.97,283.43 56.5,283.43 57.04,283.42 57.57,283.41 58.1,283.4 58.64,283.39 59.17,283.39 59.71,283.38 60.24,283.37 60.78,283.36 61.31,283.35 61.84,283.35 62.38,283.34 62.91,283.33 63.45,283.32 63.98,283.31 64.52,283.3 65.05,283.29 65.58,283.28 66.12,283.27 66.65,283.26 67.19,283.25 67.72,283.24 68.26,283.23 68.79,283.22 69.32,283.2 69.86,283.19 70.39,283.18 70.93,283.17 71.46,283.15 72,283.14 72.53,283.13 73.06,283.11 73.6,283.1 74.13,283.09 74.67,283.07 75.2,283.06 75.74,283.04 76.27,283.02 76.8,283.01 77.34,282.99 77.87,282.97 78.41,282.95 78.94,282.94 79.48,282.92 80.01,282.89 80.54,282.87 81.08,282.85 81.61,282.83 82.15,282.81 82.68,282.78 83.22,282.75 83.75,282.73 84.28,282.7 84.82,282.67 85.35,282.64 85.89,282.61 86.42,282.57 86.96,282.54 87.49,282.5 88.02,282.46 88.56,282.42 89.09,282.37 89.63,282.33 90.16,282.28 90.7,282.22 91.23,282.17 91.76,282.11 92.3,282.05 92.83,281.98 93.37,281.91 93.9,281.84 94.44,281.76 94.97,281.68 95.5,281.59 96.04,281.5 96.57,281.4 97.11,281.3 97.64,281.19 98.17,281.07 98.71,280.95 99.24,280.81 99.78,280.67 100.31,280.53 100.85,280.37 101.38,280.2 101.91,280.03 102.45,279.84 102.98,279.65 103.52,279.44 104.05,279.22 104.59,278.99 105.12,278.75 105.65,278.5 106.19,278.23 106.72,277.95 107.26,277.65 107.79,277.34 108.33,277.01 108.86,276.67 109.39,276.32 109.93,275.94 110.46,275.55 111,275.15 111.53,274.72 112.07,274.28 112.6,273.82 113.13,273.35 113.67,272.85 114.2,272.34 114.74,271.81 115.27,271.26 115.81,270.69 116.34,270.1 116.87,269.5 117.41,268.87 117.94,268.23 118.48,267.57 119.01,266.9 119.55,266.21 120.08,265.5 120.61,264.78 121.15,264.04 121.68,263.29 122.22,262.52 122.75,261.75 123.29,260.96 123.82,260.16 124.35,259.35 124.89,258.54 125.42,257.71 125.96,256.89 126.49,256.06 127.03,255.22 127.56,254.39 128.09,253.56 128.63,252.73 129.16,251.9 129.7,251.08 130.23,250.27 130.77,249.47 131.3,248.69 131.83,247.92 132.37,247.17 132.9,246.43 133.44,245.72 133.97,245.04 134.51,244.38 135.04,243.75 135.57,243.15 136.11,242.59 136.64,242.06 137.18,241.58 137.71,241.13 138.24,240.73 138.78,240.37 139.31,240.06 139.85,239.8 140.38,239.58 140.92,239.42 141.45,239.31 141.98,239.25 142.52,239.25 143.05,239.42 143.59,239.78 144.12,240.32 144.66,241.03 145.19,241.91 145.72,242.93 146.26,244.09 146.79,245.36 147.33,246.72 147.86,248.16 148.4,249.67 148.93,251.22 149.46,252.81 150,254.41 150.53,256.02 151.07,257.61 151.6,259.19 152.14,260.74 152.67,262.26 153.2,263.73 153.74,265.15 154.27,266.51 154.81,267.81 155.34,269.05 155.88,270.23 156.41,271.33 156.94,272.37 157.48,273.34 158.01,274.24 158.55,275.08 159.08,275.85 159.62,276.56 160.15,277.22 160.68,277.81 161.22,278.35 161.75,278.85 162.29,279.29 162.82,279.7 163.36,280.06 163.89,280.38 164.42,280.68 164.96,280.94 165.49,281.17 166.03,281.38 166.56,281.57 167.1,281.74 167.63,281.88 168.16,282.02 168.7,282.14 169.23,282.24 169.77,282.34 170.3,282.43 170.84,282.5 171.37,282.57 171.9,282.64 172.44,282.7 172.97,282.75 173.51,282.8 174.04,282.84 174.57,282.89" fill="none" stroke="#e020e0" stroke-width="1.75" stroke-linejoin="round"/>
<polyline points="36.2,283.52 36.73,283.52 37.27,283.51 37.8,283.51 38.34,283.5 38.87,283.5 39.41,283.49 39.94,283.49 40.47,283.48 41.01,283.47 41.54,283.47 42.08,283.46 42.61,283.45 43.15,283.45 43.68,283.44 44.21,283.43 44.75,283.43 45.28,283.42 45.82,283.41 46.35,283.41 46.89,283.4 47.42,283.39 47.95,283.38 48.49,283.38 49.02,283.37 49.56,283.36 50.09,283.35 50.63,283.34 51.16,283.33 51.69,283.33 52.23,283.32 52.76,283.31 53.3,283.3 53.83,283.29 54.37,283.28 54.9,283.27 55.43,283.26 55.97,283.25 56.5,283.24 57.04,283.23 57.57,283.22 58.1,283.21 58.64,283.2 59.17,283.19 59.71,283.18 60.24,283.16 60.78,283.15 61.31,283.14 61.84,283.13 62.38,283.11 62.91,283.1 63.45,283.09 63.98,283.08 64.52,283.06 65.05,283.05 65.58,283.03 66.12,283.02 66.65,283 67.19,282.99 67.72,282.97 68.26,282.96 68.79,282.94 69.32,282.92 69.86,282.91 70.39,282.89 70.93,282.87 71.46,282.85 72,282.83 72.53,282.81 73.06,282.79 73.6,282.77 74.13,282.75 74.67,282.73 75.2,282.71 75.74,282.68 76.27,282.66 76.8,282.63 77.34,282.61 77.87,282.58 78.41,282.56 78.94,282.53 79.48,282.5 80.01,282.47 80.54,282.43 81.08,282.4 81.61,282.37 82.15,282.33 82.68,282.29 83.22,282.25 83.75,282.21 84.28,282.17 84.82,282.12 85.35,282.07 85.89,282.02 86.42,281.97 86.96,281.91 87.49,281.85 88.02,281.79 88.56,281.72 89.09,281.65 89.63,281.57 90.16,281.49 90.7,281.4 91.23,281.31 91.76,281.21 92.3,281.1 92.83,280.99 93.37,280.87 93.9,280.74 94.44,280.6 94.97,280.45 95.5,280.29 96.04,280.13 96.57,279.95 97.11,279.75 97.64,279.55 98.17,279.33 98.71,279.09 99.24,278.85 99.78,278.58 100.31,278.3 100.85,277.99 101.38,277.67 101.91,277.33 102.45,276.97 102.98,276.59 103.52,276.18 104.05,275.75 104.59,275.29 105.12,274.81 105.65,274.3 106.19,273.77 106.72,273.2 107.26,272.61 107.79,271.98 108.33,271.33 108.86,270.64 109.39,269.93 109.93,269.18 110.46,268.39 111,267.58 111.53,266.73 112.07,265.85 112.6,264.93 113.13,263.98 113.67,263 114.2,261.99 114.74,260.95 115.27,259.87 115.81,258.76 116.34,257.63 116.87,256.47 117.41,255.28 117.94,254.06 118.48,252.83 119.01,251.57 119.55,250.29 120.08,249 120.61,247.69 121.15,246.37 121.68,245.04 122.22,243.71 122.75,242.38 123.29,241.04 123.82,239.71 124.35,238.39 124.89,237.08 125.42,235.79 125.96,234.52 126.49,233.28 127.03,232.06 127.56,230.88 128.09,229.74 128.63,228.65 129.16,227.6 129.7,226.61 130.23,225.68 130.77,224.82 131.3,224.02 131.83,223.3 132.37,222.65 132.9,222.09 133.44,221.61 133.97,221.22 134.51,220.92 135.04,220.71 135.57,220.59 136.11,220.58 136.64,220.76 137.18,221.15 137.71,221.76 138.24,222.58 138.78,223.59 139.31,224.77 139.85,226.12 140.38,227.62 140.92,229.24 141.45,230.98 141.98,232.8 142.52,234.71 143.05,236.67 143.59,238.67 144.12,240.71 144.66,242.75 145.19,244.8 145.72,246.83 146.26,248.85 146.79,250.83 147.33,252.76 147.86,254.65 148.4,256.48 148.93,258.26 149.46,259.96 150,261.59 150.53,263.15 151.07,264.63 151.6,266.04 152.14,267.37 152.67,268.62 153.2,269.79 153.74,270.89 154.27,271.91 154.81,272.86 155.34,273.74 155.88,274.55 156.41,275.3 156.94,275.99 157.48,276.62 158.01,277.2 158.55,277.72 159.08,278.2 159.62,278.64 160.15,279.03 160.68,279.39 161.22,279.72 161.75,280.01 162.29,280.28 162.82,280.51 163.36,280.73 163.89,280.93 164.42,281.1 164.96,281.26 165.49,281.41 166.03,281.54 166.56,281.66 167.1,281.76 167.63,281.86 168.16,281.95 168.7,282.04 169.23,282.11 169.77,282.18 170.3,282.25 170.84,282.31 171.37,282.36 171.9,282.42 172.44,282.47 172.97,282.51 173.51,282.56 174.04,282.6 174.57,282.64" fill="none" stroke="#2424d0" stroke-width="1.75" stroke-linejoin="round"/>
<polyline points="36.2,283.3 36.73,283.29 37.27,283.29 37.8,283.28 38.34,283.27 38.87,283.26 39.41,283.25 39.94,283.24 40.47,283.23 41.01,283.22 41.54,283.21 42.08,283.2 42.61,283.19 43.15,283.18 43.68,283.17 44.21,283.16 44.75,283.15 45.28,283.14 45.82,283.13 46.35,283.12 46.89,283.11 47.42,283.1 47.95,283.08 48.49,283.07 49.02,283.06 49.56,283.05 50.09,283.03 50.63,283.02 51.16,283.01 51.69,282.99 52.23,282.98 52.76,282.97 53.3,282.95 53.83,282.94 54.37,282.92 54.9,282.91 55.43,282.89 55.97,282.87 56.5,282.86 57.04,282.84 57.57,282.83 58.1,282.81 58.64,282.79 59.17,282.77 59.71,282.75 60.24,282.74 60.78,282.72 61.31,282.7 61.84,282.68 62.38,282.66 62.91,282.63 63.45,282.61 63.98,282.59 64.52,282.57 65.05,282.55 65.58,282.52 66.12,282.5 66.65,282.47 67.19,282.45 67.72,282.42 68.26,282.39 68.79,282.37 69.32,282.34 69.86,282.31 70.39,282.28 70.93,282.25 71.46,282.22 72,282.18 72.53,282.15 73.06,282.11 73.6,282.08 74.13,282.04 74.67,282 75.2,281.96 75.74,281.92 76.27,281.88 76.8,281.83 77.34,281.78 77.87,281.73 78.41,281.68 78.94,281.63 79.48,281.57 80.01,281.51 80.54,281.45 81.08,281.38 81.61,281.31 82.15,281.23 82.68,281.15 83.22,281.07 83.75,280.98 84.28,280.89 84.82,280.79 85.35,280.68 85.89,280.56 86.42,280.44 86.96,280.31 87.49,280.17 88.02,280.02 88.56,279.86 89.09,279.69 89.63,279.5 90.16,279.31 90.7,279.09 91.23,278.87 91.76,278.62 92.3,278.36 92.83,278.08 93.37,277.79 93.9,277.47 94.44,277.12 94.97,276.76 95.5,276.36 96.04,275.95 96.57,275.5 97.11,275.02 97.64,274.51 98.17,273.97 98.71,273.4 99.24,272.79 99.78,272.14 100.31,271.46 100.85,270.73 101.38,269.97 101.91,269.16 102.45,268.3 102.98,267.4 103.52,266.46 104.05,265.46 104.59,264.42 105.12,263.33 105.65,262.19 106.19,261.01 106.72,259.77 107.26,258.48 107.79,257.14 108.33,255.75 108.86,254.31 109.39,252.82 109.93,251.28 110.46,249.7 111,248.08 111.53,246.41 112.07,244.7 112.6,242.95 113.13,241.17 113.67,239.35 114.2,237.51 114.74,235.64 115.27,233.75 115.81,231.84 116.34,229.91 116.87,227.98 117.41,226.05 117.94,224.12 118.48,222.2 119.01,220.29 119.55,218.4 120.08,216.54 120.61,214.72 121.15,212.94 121.68,211.2 122.22,209.53 122.75,207.91 123.29,206.38 123.82,204.92 124.35,203.55 124.89,202.27 125.42,201.1 125.96,200.04 126.49,199.09 127.03,198.27 127.56,197.58 128.09,197.02 128.63,196.6 129.16,196.31 129.7,196.17 130.23,196.2 130.77,196.49 131.3,197.07 131.83,197.93 132.37,199.05 132.9,200.41 133.44,202.01 133.97,203.82 134.51,205.82 135.04,207.99 135.57,210.3 136.11,212.73 136.64,215.27 137.18,217.88 137.71,220.56 138.24,223.28 138.78,226.01 139.31,228.76 139.85,231.49 140.38,234.2 140.92,236.87 141.45,239.5 141.98,242.06 142.52,244.56 143.05,246.97 143.59,249.31 144.12,251.56 144.66,253.71 145.19,255.77 145.72,257.72 146.26,259.58 146.79,261.33 147.33,262.99 147.86,264.54 148.4,266 148.93,267.36 149.46,268.62 150,269.8 150.53,270.89 151.07,271.89 151.6,272.82 152.14,273.67 152.67,274.45 153.2,275.17 153.74,275.82 154.27,276.42 154.81,276.96 155.34,277.46 155.88,277.91 156.41,278.32 156.94,278.68 157.48,279.02 158.01,279.32 158.55,279.6 159.08,279.85 159.62,280.07 160.15,280.28 160.68,280.46 161.22,280.63 161.75,280.79 162.29,280.93 162.82,281.06 163.36,281.18 163.89,281.29 164.42,281.39 164.96,281.48 165.49,281.57 166.03,281.65 166.56,281.72 167.1,281.79 167.63,281.86 168.16,281.92 168.7,281.98 169.23,282.04 169.77,282.09 170.3,282.14 170.84,282.19 171.37,282.23 171.9,282.28 172.44,282.32 172.97,282.36 173.51,282.4 174.04,282.44 174.57,282.47" fill="none" stroke="#d03838" stroke-width="1.75" stroke-linejoin="round"/>
<polyline points="36.2,283.2 36.73,283.19 37.27,283.18 37.8,283.17 38.34,283.16 38.87,283.15 39.41,283.14 39.94,283.13 40.47,283.12 41.01,283.11 41.54,283.1 42.08,283.09 42.61,283.08 43.15,283.07 43.68,283.06 44.21,283.04 44.75,283.03 45.28,283.02 45.82,283.01 46.35,282.99 46.89,282.98 47.42,282.97 47.95,282.96 48.49,282.94 49.02,282.93 49.56,282.91 50.09,282.9 50.63,282.88 51.16,282.87 51.69,282.85 52.23,282.84 52.76,282.82 53.3,282.81 53.83,282.79 54.37,282.77 54.9,282.76 55.43,282.74 55.97,282.72 56.5,282.7 57.04,282.68 57.57,282.66 58.1,282.64 58.64,282.62 59.17,282.6 59.71,282.58 60.24,282.56 60.78,282.54 61.31,282.52 61.84,282.5 62.38,282.47 62.91,282.45 63.45,282.43 63.98,282.4 64.52,282.38 65.05,282.35 65.58,282.32 66.12,282.3 66.65,282.27 67.19,282.24 67.72,282.21 68.26,282.18 68.79,282.15 69.32,282.12 69.86,282.08 70.39,282.05 70.93,282.02 71.46,281.98 72,281.94 72.53,281.91 73.06,281.87 73.6,281.83 74.13,281.78 74.67,281.74 75.2,281.69 75.74,281.65 76.27,281.6 76.8,281.55 77.34,281.5 77.87,281.44 78.41,281.38 78.94,281.32 79.48,281.26 80.01,281.19 80.54,281.12 81.08,281.05 81.61,280.97 82.15,280.89 82.68,280.8 83.22,280.71 83.75,280.61 84.28,280.51 84.82,280.4 85.35,280.28 85.89,280.16 86.42,280.02 86.96,279.88 87.49,279.73 88.02,279.56 88.56,279.39 89.09,279.2 89.63,279 90.16,278.79 90.7,278.56 91.23,278.31 91.76,278.04 92.3,277.76 92.83,277.45 93.37,277.13 93.9,276.78 94.44,276.41 94.97,276.01 95.5,275.58 96.04,275.12 96.57,274.63 97.11,274.11 97.64,273.56 98.17,272.96 98.71,272.34 99.24,271.67 99.78,270.96 100.31,270.2 100.85,269.41 101.38,268.56 101.91,267.67 102.45,266.73 102.98,265.74 103.52,264.69 104.05,263.6 104.59,262.44 105.12,261.24 105.65,259.97 106.19,258.65 106.72,257.28 107.26,255.84 107.79,254.35 108.33,252.8 108.86,251.19 109.39,249.53 109.93,247.81 110.46,246.04 111,244.22 111.53,242.34 112.07,240.42 112.6,238.45 113.13,236.44 113.67,234.39 114.2,232.3 114.74,230.18 115.27,228.03 115.81,225.86 116.34,223.67 116.87,221.47 117.41,219.26 117.94,217.05 118.48,214.84 119.01,212.65 119.55,210.47 120.08,208.33 120.61,206.21 121.15,204.14 121.68,202.11 122.22,200.15 122.75,198.25 123.29,196.43 123.82,194.7 124.35,193.06 124.89,191.52 125.42,190.1 125.96,188.8 126.49,187.62 127.03,186.58 127.56,185.69 128.09,184.94 128.63,184.34 129.16,183.91 129.7,183.63 130.23,183.52 130.77,183.64 131.3,184.11 131.83,184.91 132.37,186.06 132.9,187.51 133.44,189.26 133.97,191.28 134.51,193.54 135.04,196.02 135.57,198.69 136.11,201.52 136.64,204.48 137.18,207.54 137.71,210.69 138.24,213.89 138.78,217.12 139.31,220.37 139.85,223.6 140.38,226.8 140.92,229.97 141.45,233.07 141.98,236.1 142.52,239.04 143.05,241.89 143.59,244.64 144.12,247.28 144.66,249.81 145.19,252.21 145.72,254.5 146.26,256.66 146.79,258.7 147.33,260.61 147.86,262.4 148.4,264.08 148.93,265.63 149.46,267.08 150,268.42 150.53,269.65 151.07,270.78 151.6,271.83 152.14,272.78 152.67,273.65 153.2,274.44 153.74,275.17 154.27,275.82 154.81,276.42 155.34,276.96 155.88,277.44 156.41,277.88 156.94,278.28 157.48,278.64 158.01,278.97 158.55,279.26 159.08,279.52 159.62,279.76 160.15,279.98 160.68,280.18 161.22,280.36 161.75,280.52 162.29,280.67 162.82,280.81 163.36,280.93 163.89,281.05 164.42,281.15 164.96,281.25 165.49,281.35 166.03,281.43 166.56,281.51 167.1,281.59 167.63,281.66 168.16,281.73 168.7,281.79 169.23,281.85 169.77,281.91 170.3,281.96 170.84,282.02 171.37,282.07 171.9,282.12 172.44,282.16 172.97,282.21 173.51,282.25 174.04,282.29 174.57,282.33" fill="none" stroke="#101010" stroke-width="1.75" stroke-linejoin="round"/>
<rect x="36.5" y="182.3" width="138.25" height="103.3" fill="none" stroke="#2a2a2a" stroke-width="1.1"/>
<line x1="36.5" y1="284.4" x2="39" y2="284.4" stroke="#333" stroke-width="0.8"/>
<line x1="174.75" y1="284.4" x2="172.25" y2="284.4" stroke="#333" stroke-width="0.8"/>
<text x="33.9" y="286.8" font-size="6.8" fill="#333" text-anchor="end" font-family="'Liberation Sans', Arial, sans-serif" stroke="#333" stroke-width="0.2">0</text>
<line x1="36.5" y1="270.04" x2="39" y2="270.04" stroke="#333" stroke-width="0.8"/>
<line x1="174.75" y1="270.04" x2="172.25" y2="270.04" stroke="#333" stroke-width="0.8"/>
<text x="33.9" y="272.44" font-size="6.8" fill="#333" text-anchor="end" font-family="'Liberation Sans', Arial, sans-serif" stroke="#333" stroke-width="0.2">1000</text>
<line x1="36.5" y1="255.68" x2="39" y2="255.68" stroke="#333" stroke-width="0.8"/>
<line x1="174.75" y1="255.68" x2="172.25" y2="255.68" stroke="#333" stroke-width="0.8"/>
<text x="33.9" y="258.08" font-size="6.8" fill="#333" text-anchor="end" font-family="'Liberation Sans', Arial, sans-serif" stroke="#333" stroke-width="0.2">2000</text>
<line x1="36.5" y1="241.32" x2="39" y2="241.32" stroke="#333" stroke-width="0.8"/>
<line x1="174.75" y1="241.32" x2="172.25" y2="241.32" stroke="#333" stroke-width="0.8"/>
<text x="33.9" y="243.72" font-size="6.8" fill="#333" text-anchor="end" font-family="'Liberation Sans', Arial, sans-serif" stroke="#333" stroke-width="0.2">3000</text>
<line x1="36.5" y1="226.96" x2="39" y2="226.96" stroke="#333" stroke-width="0.8"/>
<line x1="174.75" y1="226.96" x2="172.25" y2="226.96" stroke="#333" stroke-width="0.8"/>
<text x="33.9" y="229.36" font-size="6.8" fill="#333" text-anchor="end" font-family="'Liberation Sans', Arial, sans-serif" stroke="#333" stroke-width="0.2">4000</text>
<line x1="36.5" y1="212.6" x2="39" y2="212.6" stroke="#333" stroke-width="0.8"/>
<line x1="174.75" y1="212.6" x2="172.25" y2="212.6" stroke="#333" stroke-width="0.8"/>
<text x="33.9" y="215" font-size="6.8" fill="#333" text-anchor="end" font-family="'Liberation Sans', Arial, sans-serif" stroke="#333" stroke-width="0.2">5000</text>
<line x1="36.5" y1="198.24" x2="39" y2="198.24" stroke="#333" stroke-width="0.8"/>
<line x1="174.75" y1="198.24" x2="172.25" y2="198.24" stroke="#333" stroke-width="0.8"/>
<text x="33.9" y="200.64" font-size="6.8" fill="#333" text-anchor="end" font-family="'Liberation Sans', Arial, sans-serif" stroke="#333" stroke-width="0.2">6000</text>
<line x1="36.5" y1="183.88" x2="39" y2="183.88" stroke="#333" stroke-width="0.8"/>
<line x1="174.75" y1="183.88" x2="172.25" y2="183.88" stroke="#333" stroke-width="0.8"/>
<text x="33.9" y="186.28" font-size="6.8" fill="#333" text-anchor="end" font-family="'Liberation Sans', Arial, sans-serif" stroke="#333" stroke-width="0.2">7000</text>
<line x1="46.7" y1="285.6" x2="46.7" y2="283.1" stroke="#333" stroke-width="0.8"/>
<line x1="46.7" y1="182.3" x2="46.7" y2="184.8" stroke="#333" stroke-width="0.8"/>
<text x="46.7" y="293.8" font-size="6.6" fill="#333" text-anchor="middle" font-family="'Liberation Sans', Arial, sans-serif" stroke="#333" stroke-width="0.2">1.6</text>
<line x1="84.2" y1="285.6" x2="84.2" y2="283.1" stroke="#333" stroke-width="0.8"/>
<line x1="84.2" y1="182.3" x2="84.2" y2="184.8" stroke="#333" stroke-width="0.8"/>
<text x="84.2" y="293.8" font-size="6.6" fill="#333" text-anchor="middle" font-family="'Liberation Sans', Arial, sans-serif" stroke="#333" stroke-width="0.2">1.7</text>
<line x1="121.7" y1="285.6" x2="121.7" y2="283.1" stroke="#333" stroke-width="0.8"/>
<line x1="121.7" y1="182.3" x2="121.7" y2="184.8" stroke="#333" stroke-width="0.8"/>
<text x="121.7" y="293.8" font-size="6.6" fill="#333" text-anchor="middle" font-family="'Liberation Sans', Arial, sans-serif" stroke="#333" stroke-width="0.2">1.8</text>
<line x1="159.2" y1="285.6" x2="159.2" y2="283.1" stroke="#333" stroke-width="0.8"/>
<line x1="159.2" y1="182.3" x2="159.2" y2="184.8" stroke="#333" stroke-width="0.8"/>
<text x="159.2" y="293.8" font-size="6.6" fill="#333" text-anchor="middle" font-family="'Liberation Sans', Arial, sans-serif" stroke="#333" stroke-width="0.2">1.9</text>
<line x1="65.45" y1="285.6" x2="65.45" y2="284.1" stroke="#333" stroke-width="0.6"/>
<line x1="65.45" y1="182.3" x2="65.45" y2="183.8" stroke="#333" stroke-width="0.6"/>
<line x1="102.95" y1="285.6" x2="102.95" y2="284.1" stroke="#333" stroke-width="0.6"/>
<line x1="102.95" y1="182.3" x2="102.95" y2="183.8" stroke="#333" stroke-width="0.6"/>
<line x1="140.45" y1="285.6" x2="140.45" y2="284.1" stroke="#333" stroke-width="0.6"/>
<line x1="140.45" y1="182.3" x2="140.45" y2="183.8" stroke="#333" stroke-width="0.6"/>
<text x="105.8" y="306.2" font-size="9.1" fill="#333" text-anchor="middle" font-family="'Liberation Sans', Arial, sans-serif" stroke="#333" stroke-width="0.27">Energy (eV)</text>
<text x="16" y="231.5" font-size="9.05" fill="#333" text-anchor="middle" font-family="'Liberation Sans', Arial, sans-serif" stroke="#333" stroke-width="0.27" transform="rotate(-90 16 231.5)">Intensity (counts)</text>
<line x1="42.5" y1="191.6" x2="58" y2="191.6" stroke="#101010" stroke-width="1.8"/>
<text x="59.5" y="194.1" font-size="7.1" fill="#333" text-anchor="start" font-family="'Liberation Sans', Arial, sans-serif" stroke="#333" stroke-width="0.21">0.9 GPa</text>
<line x1="42.5" y1="200.12" x2="58" y2="200.12" stroke="#d03838" stroke-width="1.8"/>
<text x="59.5" y="202.62" font-size="7.1" fill="#333" text-anchor="start" font-family="'Liberation Sans', Arial, sans-serif" stroke="#333" stroke-width="0.21">1.1 GPa</text>
<line x1="42.5" y1="208.64" x2="58" y2="208.64" stroke="#2424d0" stroke-width="1.8"/>
<text x="59.5" y="211.14" font-size="7.1" fill="#333" text-anchor="start" font-family="'Liberation Sans', Arial, sans-serif" stroke="#333" stroke-width="0.21">1.3 GPa</text>
<line x1="42.5" y1="217.16" x2="58" y2="217.16" stroke="#e020e0" stroke-width="1.8"/>
<text x="59.5" y="219.66" font-size="7.1" fill="#333" text-anchor="start" font-family="'Liberation Sans', Arial, sans-serif" stroke="#333" stroke-width="0.21">2.1 GPa</text>
<line x1="42.5" y1="225.68" x2="58" y2="225.68" stroke="#1e8a2a" stroke-width="1.8"/>
<text x="59.5" y="228.18" font-size="7.1" fill="#333" text-anchor="start" font-family="'Liberation Sans', Arial, sans-serif" stroke="#333" stroke-width="0.21">2.4 GPa</text>
<line x1="42.5" y1="234.2" x2="58" y2="234.2" stroke="#1a1a60" stroke-width="1.8"/>
<text x="59.5" y="236.7" font-size="7.1" fill="#333" text-anchor="start" font-family="'Liberation Sans', Arial, sans-serif" stroke="#333" stroke-width="0.21">2.8 GPa</text>
<line x1="42.5" y1="242.72" x2="58" y2="242.72" stroke="#7a28f0" stroke-width="1.8"/>
<text x="59.5" y="245.22" font-size="7.1" fill="#333" text-anchor="start" font-family="'Liberation Sans', Arial, sans-serif" stroke="#333" stroke-width="0.21">3.3 GPa</text>
<line x1="42.5" y1="251.24" x2="58" y2="251.24" stroke="#8a2a9a" stroke-width="1.8"/>
<text x="59.5" y="253.74" font-size="7.1" fill="#333" text-anchor="start" font-family="'Liberation Sans', Arial, sans-serif" stroke="#333" stroke-width="0.21">3.6 GPa</text>
<line x1="42.5" y1="259.76" x2="58" y2="259.76" stroke="#6e2424" stroke-width="1.8"/>
<text x="59.5" y="262.26" font-size="7.1" fill="#333" text-anchor="start" font-family="'Liberation Sans', Arial, sans-serif" stroke="#333" stroke-width="0.21">4.0 GPa</text>
<line x1="42.5" y1="268.28" x2="58" y2="268.28" stroke="#a89a38" stroke-width="1.8"/>
<text x="59.5" y="270.78" font-size="7.1" fill="#333" text-anchor="start" font-family="'Liberation Sans', Arial, sans-serif" stroke="#333" stroke-width="0.21">4.5 GPa</text>
<clipPath id="clipC"><rect x="214.25" y="16.75" width="102.75" height="137.75"/></clipPath>
<g clip-path="url(#clipC)"><polyline points="213.75,152.56 214.15,152.91 214.55,151 214.95,149.01 215.35,149.72 215.75,147.95 216.15,150.19 216.55,152.95 216.95,147.98 217.35,147.25 217.75,149.55 218.15,148.8 218.55,147.77 218.95,144.88 219.35,146.61 219.75,147.89 220.15,142.72 220.55,144.37 220.95,140.66 221.35,141.66 221.75,140.02 222.15,143.23 222.55,140.53 222.95,143.51 223.35,142.84 223.75,141.68 224.15,136.27 224.55,140.1 224.95,140.72 225.35,140.65 225.75,136.83 226.15,138.6 226.55,137.17 226.95,137.12 227.35,140.44 227.75,136.32 228.15,137.43 228.55,138.79 228.95,135.54 229.35,136.03 229.75,136.04 230.15,135.54 230.55,132.74 230.95,134.73 231.35,136.63 231.75,130.99 232.15,134.87 232.55,133.14 232.95,131.4 233.35,135.54 233.75,132.99 234.15,129.26 234.55,130.99 234.95,131.4 235.35,129.74 235.75,130.73 236.15,129.12 236.55,129.86 236.95,130.64 237.35,126.95 237.75,127.89 238.15,126.48 238.55,126.95 238.95,124.62 239.35,125.11 239.75,125.26 240.15,126.4 240.55,126.33 240.95,122.51 241.35,122.84 241.75,124.38 242.15,120.48 242.55,122.11 242.95,122.19 243.35,123.5 243.75,122.37 244.15,120.71 244.55,120.27 244.95,120.02 245.35,121.72 245.75,119.03 246.15,118.79 246.55,119.14 246.95,118.22 247.35,117.75 247.75,116.38 248.15,117.18 248.55,116.35 248.95,117.62 249.35,116.7 249.75,115.64 250.15,115.94 250.55,114.59 250.95,115.54 251.35,114.17 251.75,114.34 252.15,112.3 252.55,113.4 252.95,111.28 253.35,110.66 253.75,111.78 254.15,110.96 254.55,111.48 254.95,112.78 255.35,110.05 255.75,109.89 256.15,110.2 256.55,110.09 256.95,109.3 257.35,108.98 257.75,109.32 258.15,108.9 258.55,107.58 258.95,107.95 259.35,107.76 259.75,106.82 260.15,107.4 260.55,106.48 260.95,107.35 261.35,106.67 261.75,106.4 262.15,105.81 262.55,105.88 262.95,104.66 263.35,104.98 263.75,105.62 264.15,104.14 264.55,105.56 264.95,104.07 265.35,105.23 265.75,104.29 266.15,104.99 266.55,104.55 266.95,103.62 267.35,104.88 267.75,104.87 268.15,104.05 268.55,103.86 268.95,103.84 269.35,103.39 269.75,104.29 270.15,103.47 270.55,103.66 270.95,103.28 271.35,103.33 271.75,103.01 272.15,104.15 272.55,103.5 272.95,104.02 273.35,103.59 273.75,103.28 274.15,103.48 274.55,103.4 274.95,103.7 275.35,103.57 275.75,103.66 276.15,103.22 276.55,103.55 276.95,104.79 277.35,103.77 277.75,103.67 278.15,104.44 278.55,105.07 278.95,103.76 279.35,104.49 279.75,104.4 280.15,103.94 280.55,105.36 280.95,105.11 281.35,105.31 281.75,105.02 282.15,105.83 282.55,105.45 282.95,105.84 283.35,105.47 283.75,105.58 284.15,107.25 284.55,106.37 284.95,107.05 285.35,107.06 285.75,107.02 286.15,107.19 286.55,108.14 286.95,107.77 287.35,108.11 287.75,108.47 288.15,109.51 288.55,109.43 288.95,109.49 289.35,109.08 289.75,108.75 290.15,110.74 290.55,111.05 290.95,110.5 291.35,111.33 291.75,111.83 292.15,112.19 292.55,112.59 292.95,111.77 293.35,113.76 293.75,111.72 294.15,113.9 294.55,113.92 294.95,114.62 295.35,115.92 295.75,115.93 296.15,113.81 296.55,113.63 296.95,116.45 297.35,115 297.75,116.4 298.15,117.68 298.55,115.46 298.95,115.33 299.35,118.3 299.75,118.48 300.15,118.57 300.55,119.32 300.95,118.7 301.35,118.34 301.75,120.38 302.15,119.84 302.55,119.44 302.95,122.59 303.35,122.33 303.75,123.41 304.15,122.04 304.55,122.95 304.95,122.95 305.35,123.58 305.75,125.59 306.15,124.69 306.55,126.85 306.95,127.35 307.35,130.42 307.75,125.75 308.15,129.8 308.55,128.81 308.95,129.47 309.35,127.69 309.75,129.84 310.15,132.4 310.55,131.58 310.95,132.43 311.35,132.36 311.75,135.5 312.15,133.99 312.55,130.6 312.95,133.94 313.35,132.12 313.75,130.22 314.15,136.02 314.55,140.28 314.95,138.38 315.35,136.55 315.75,137.63 316.15,142.54 316.55,141.17 316.95,141.6 317.35,142.04" fill="none" stroke="#eaa6d2" stroke-width="7" stroke-linejoin="round"/><polyline points="213.75,152.64 214.15,153.9 214.55,152.93 214.95,151.77 215.35,148.58 215.75,151.58 216.15,148.53 216.55,152.02 216.95,146.4 217.35,148.47 217.75,148.34 218.15,145.02 218.55,151.31 218.95,150.31 219.35,145.66 219.75,147.96 220.15,146.68 220.55,139.67 220.95,145.56 221.35,144.45 221.75,144.35 222.15,141.38 222.55,142.74 222.95,142.52 223.35,145.11 223.75,142.81 224.15,141.65 224.55,144.61 224.95,139.61 225.35,139.55 225.75,136 226.15,143.03 226.55,141.28 226.95,140.76 227.35,139.8 227.75,138.15 228.15,137.97 228.55,136.52 228.95,136.21 229.35,136.37 229.75,139.16 230.15,136.64 230.55,134.87 230.95,133.31 231.35,132.78 231.75,137.28 232.15,134.46 232.55,133.08 232.95,131.76 233.35,129.66 233.75,131.54 234.15,133.2 234.55,130 234.95,129.95 235.35,129.56 235.75,129.87 236.15,125.72 236.55,128.29 236.95,126.52 237.35,129.94 237.75,125.89 238.15,128.44 238.55,130.12 238.95,125.67 239.35,124.63 239.75,125.96 240.15,125.13 240.55,122.55 240.95,125.34 241.35,128.36 241.75,122.95 242.15,122.67 242.55,120.41 242.95,123.01 243.35,119.17 243.75,119.08 244.15,123.93 244.55,118.72 244.95,122.7 245.35,123.28 245.75,120.1 246.15,120.35 246.55,123.04 246.95,117.92 247.35,116.66 247.75,114.6 248.15,117.28 248.55,120.06 248.95,118.54 249.35,113.97 249.75,113.79 250.15,114.18 250.55,115.56 250.95,114.1 251.35,114.65 251.75,114.47 252.15,112.79 252.55,113 252.95,113.19 253.35,112.2 253.75,113.14 254.15,115.81 254.55,112.65 254.95,111.14 255.35,106.98 255.75,111.22 256.15,105.76 256.55,106.63 256.95,111.31 257.35,110.68 257.75,108.5 258.15,104.78 258.55,107.45 258.95,106.5 259.35,109.14 259.75,112.45 260.15,107.71 260.55,105.29 260.95,104.2 261.35,106.43 261.75,105.96 262.15,103.61 262.55,106.21 262.95,103.24 263.35,108.04 263.75,107.77 264.15,107.66 264.55,104.08 264.95,106.11 265.35,104.55 265.75,103.86 266.15,103.85 266.55,101.62 266.95,101.2 267.35,106.02 267.75,103.75 268.15,104.56 268.55,106.2 268.95,100.1 269.35,102.12 269.75,104.17 270.15,104.59 270.55,102.85 270.95,105.91 271.35,104.07 271.75,100.92 272.15,101.53 272.55,105.34 272.95,104.59 273.35,99.41 273.75,106.57 274.15,104.94 274.55,106.62 274.95,102.86 275.35,103.1 275.75,101.32 276.15,109.44 276.55,103.54 276.95,107.5 277.35,102.66 277.75,104.54 278.15,100.59 278.55,103.53 278.95,106.65 279.35,101.84 279.75,107.08 280.15,105.59 280.55,102.68 280.95,104.02 281.35,104.26 281.75,105.31 282.15,104.4 282.55,103.93 282.95,105.25 283.35,103.84 283.75,103.44 284.15,106.37 284.55,108.61 284.95,103.51 285.35,107.09 285.75,105.86 286.15,105.36 286.55,109.62 286.95,106.83 287.35,111.5 287.75,106.74 288.15,109.55 288.55,108.46 288.95,107.56 289.35,110.78 289.75,109.42 290.15,111.36 290.55,110.22 290.95,108.22 291.35,110.68 291.75,111.32 292.15,113.62 292.55,109.83 292.95,112.06 293.35,108.68 293.75,114.24 294.15,110.76 294.55,109.51 294.95,113.7 295.35,116.61 295.75,111.18 296.15,112.51 296.55,113.64 296.95,113.16 297.35,116.86 297.75,114.64 298.15,115.22 298.55,118.49 298.95,115.94 299.35,118.97 299.75,116.29 300.15,116.18 300.55,115.24 300.95,123.8 301.35,119.44 301.75,121.12 302.15,120.97 302.55,121.84 302.95,122.06 303.35,126.61 303.75,120.6 304.15,119.93 304.55,121.61 304.95,121.39 305.35,126.46 305.75,127.12 306.15,123.7 306.55,123.27 306.95,126.06 307.35,130.42 307.75,121.68 308.15,129.58 308.55,126.59 308.95,131.79 309.35,127.67 309.75,129.97 310.15,127.84 310.55,129.57 310.95,135.34 311.35,134.67 311.75,132.56 312.15,132.12 312.55,130.46 312.95,134.35 313.35,135.76 313.75,136.25 314.15,136.84 314.55,135.2 314.95,138.14 315.35,138.83 315.75,142.39 316.15,144.3 316.55,140.54 316.95,139.81 317.35,142.01" fill="none" stroke="#dc88c0" stroke-width="0.8" stroke-linejoin="round" opacity="0.8"/><polyline points="213.75,142 214.15,150.38 214.55,143.43 214.95,149.67 215.35,147.65 215.75,152.47 216.15,146.92 216.55,152.12 216.95,142.39 217.35,150.05 217.75,145.88 218.15,147.97 218.55,147.36 218.95,151.68 219.35,136.9 219.75,148.62 220.15,139.53 220.55,153.03 220.95,137.14 221.35,141.98 221.75,138.63 222.15,155.2 222.55,140.56 222.95,147.57 223.35,144.32 223.75,138 224.15,145.31 224.55,150.31 224.95,146.08 225.35,151.71 225.75,145.19 226.15,147.03 226.55,145.08 226.95,148.72 227.35,156.49 227.75,148.81 228.15,147.97 228.55,143.91 228.95,143.22 229.35,154.32 229.75,141.44 230.15,142.43 230.55,146.51 230.95,144.87 231.35,156.78 231.75,135.17 232.15,148.81 232.55,150.56 232.95,141.4 233.35,143.78 233.75,149.16 234.15,155.15 234.55,142.4 234.95,139.1 235.35,151.86 235.75,154.62 236.15,145.32 236.55,135.93 236.95,154.26 237.35,146.01 237.75,152.62 238.15,146.78 238.55,145.12 238.95,144.74 239.35,154.37 239.75,154.17 240.15,136.31 240.55,142.32 240.95,155.89 241.35,145.16 241.75,140.2 242.15,147.02 242.55,146.46 242.95,146.51 243.35,144.6 243.75,145.45 244.15,144.72 244.55,148.67 244.95,142.94 245.35,145.55 245.75,146.28 246.15,153.53 246.55,148.87 246.95,146.45 247.35,149.68 247.75,149.03 248.15,152.44 248.55,149.53 248.95,155.97 249.35,153.72 249.75,146.79 250.15,144.93 250.55,151.41 250.95,149.58 251.35,146.53 251.75,139.62 252.15,137.84 252.55,148.74 252.95,150.85 253.35,151.02 253.75,140.56 254.15,152.19 254.55,144.33 254.95,148.94 255.35,149.08 255.75,142.99 256.15,144.04 256.55,136.63 256.95,142.42 257.35,137.99 257.75,149.19" fill="none" stroke="#e8a0d0" stroke-width="1.4" stroke-linejoin="round"/><polyline points="213.75,137.62 214.15,151.12 214.55,155.33 214.95,138.97 215.35,142.86 215.75,151.15 216.15,146.74 216.55,156.95 216.95,141.16 217.35,147.98 217.75,136.96 218.15,157.5 218.55,140.13 218.95,131.05 219.35,143.82 219.75,143.72 220.15,156.32 220.55,142.46 220.95,144.44 221.35,148.15 221.75,154.22 222.15,144.07 222.55,150.81 222.95,147.58 223.35,142.55 223.75,144.81 224.15,144.47 224.55,138.62 224.95,151.65 225.35,135.63 225.75,151.26 226.15,149.85 226.55,143.33 226.95,139.1 227.35,142.28 227.75,146.42 228.15,147.89 228.55,144.86 228.95,148.9 229.35,139.03 229.75,143.44 230.15,131.81 230.55,145.46 230.95,140.91 231.35,136.52 231.75,145.2 232.15,141.03" fill="none" stroke="#b0a848" stroke-width="0.75" stroke-linejoin="round"/><polyline points="213.75,149.41 214.15,149.58 214.55,138.09 214.95,143.64 215.35,146.48 215.75,150.53 216.15,141.61 216.55,138.4 216.95,151.72 217.35,152.34 217.75,147.79 218.15,141.74 218.55,147.97 218.95,146.12 219.35,150.57 219.75,137.69 220.15,146.07 220.55,144.33 220.95,138.44 221.35,146.55 221.75,145.38 222.15,142.58 222.55,147.47 222.95,136.22 223.35,144.52 223.75,147.4 224.15,146.35 224.55,151.06 224.95,136.83 225.35,134.68 225.75,145.11 226.15,146.04 226.55,155.78 226.95,145.91 227.35,135.99 227.75,145.48 228.15,134.34 228.55,129.35 228.95,152.99" fill="none" stroke="#50a850" stroke-width="0.75" stroke-linejoin="round"/><polyline points="213.75,141.88 214.15,141.01 214.55,145.42 214.95,139.06 215.35,149.71 215.75,145.12 216.15,147.4 216.55,144.6 216.95,141.08 217.35,139.66 217.75,144.24 218.15,142.22 218.55,147.27 218.95,145.73 219.35,136.96 219.75,146.18 220.15,137.07 220.55,141.76 220.95,143.83 221.35,132.33 221.75,146.31 222.15,146.68 222.55,144.68 222.95,142.96 223.35,143.28 223.75,139.38 224.15,143.93 224.55,142.09 224.95,146.24 225.35,137.87 225.75,147.15 226.15,146.54 226.55,144.69 226.95,142.76 227.35,149.14 227.75,134.82 228.15,148.52 228.55,147.1 228.95,147.34 229.35,147.97 229.75,141.25 230.15,143.77 230.55,149.53 230.95,148.17 231.35,146.7 231.75,135.55 232.15,148.76 232.55,152.8 232.95,151.72 233.35,146.65 233.75,135.03 234.15,151.1 234.55,143.98 234.95,128.49 235.35,147.16 235.75,134.96 236.15,136.06 236.55,140.14 236.95,152.21 237.35,141.31 237.75,145.09 238.15,154.17 238.55,152.63 238.95,141.03 239.35,139.37 239.75,131.94 240.15,134.65 240.55,140.86 240.95,139.49" fill="none" stroke="#ec2a5c" stroke-width="0.75" stroke-linejoin="round"/><polyline points="213.75,152.65 214.15,145.91 214.55,143.5 214.95,151.28 215.35,141.85 215.75,134.38 216.15,145.4 216.55,138.11 216.95,143.59 217.35,150.17 217.75,149.78 218.15,158.01 218.55,146.47 218.95,137.86 219.35,142.87 219.75,141.81 220.15,139.88 220.55,150.54 220.95,143.56 221.35,134.96 221.75,152.21 222.15,146.99 222.55,150 222.95,148.38 223.35,151.76 223.75,147.92 224.15,155.65 224.55,150.4 224.95,150.18 225.35,150.28 225.75,138.22 226.15,146.55 226.55,145.93 226.95,148.93 227.35,138.81 227.75,158.11 228.15,148.22 228.55,139.71 228.95,136.48 229.35,145.67 229.75,146.89 230.15,142.8 230.55,148.01 230.95,143.25 231.35,150.91 231.75,142.64 232.15,147.03 232.55,153.55 232.95,163.79 233.35,140.63 233.75,144.07 234.15,141.57 234.55,151.97 234.95,139.4 235.35,143.56 235.75,146.36 236.15,140.07 236.55,140 236.95,142.86 237.35,132.06 237.75,135.9 238.15,142.09 238.55,145.14 238.95,142.3 239.35,131.26 239.75,138.84 240.15,146.02 240.55,143.42" fill="none" stroke="#f08a2c" stroke-width="0.75" stroke-linejoin="round"/><polyline points="213.75,152.14 214.15,146.51 214.55,157.97 214.95,134.06 215.35,144.88 215.75,152.44 216.15,144.52 216.55,141.69 216.95,145.06 217.35,137.9 217.75,147.52 218.15,162.42 218.55,154.1 218.95,139.62 219.35,141.13 219.75,144.13 220.15,153.17 220.55,141.45 220.95,142.28 221.35,152.39 221.75,152.25 222.15,144.29 222.55,139.51 222.95,136.73 223.35,142.18 223.75,132.34 224.15,151.46 224.55,142.59 224.95,149.71 225.35,158.61 225.75,154.13 226.15,139.2 226.55,152.15 226.95,153.99 227.35,141.75 227.75,140.4 228.15,145.8 228.55,136.2 228.95,155.9 229.35,130.99 229.75,139.3 230.15,144.65 230.55,144.89 230.95,147.38 231.35,148.01 231.75,144.85 232.15,153.47 232.55,132.38 232.95,146.05 233.35,141.39 233.75,146.74 234.15,147.2 234.55,139.81 234.95,141.4 235.35,150.43 235.75,147.37 236.15,140.5 236.55,157.63 236.95,158.96 237.35,134.25 237.75,144.98 238.15,158.44 238.55,146.55 238.95,142.04 239.35,138.3 239.75,135.11" fill="none" stroke="#18a090" stroke-width="0.75" stroke-linejoin="round"/><polyline points="213.75,141.34 214.15,141.89 214.55,137.53 214.95,140.6 215.35,150.73 215.75,130.28 216.15,142.38 216.55,135.18 216.95,141.94 217.35,145.96 217.75,140.42 218.15,145.54 218.55,130.95 218.95,147.59 219.35,137.03 219.75,144.59 220.15,141.87 220.55,124.77 220.95,136.06 221.35,142.08 221.75,150.31 222.15,142.48 222.55,142.29 222.95,131.97 223.35,149.52 223.75,151.83 224.15,140.84 224.55,139.3 224.95,130.65 225.35,146.09 225.75,157.31 226.15,145.04 226.55,148.4 226.95,143.93 227.35,134.49 227.75,148.81 228.15,132.91 228.55,139.21 228.95,142.22 229.35,145.92 229.75,143.01 230.15,142.81 230.55,135.69 230.95,132.39 231.35,140.7 231.75,135.89 232.15,132.16 232.55,132.36 232.95,137.09 233.35,128.61 233.75,131.65 234.15,129.78 234.55,140.9 234.95,142.16 235.35,151.88 235.75,130.05 236.15,134.86 236.55,144.41 236.95,137.07 237.35,135.94 237.75,147.67 238.15,134.77 238.55,129.47 238.95,128 239.35,135.81 239.75,134.52" fill="none" stroke="#7c1424" stroke-width="0.75" stroke-linejoin="round"/><polyline points="213.75,139.86 214.15,129.23 214.55,142.03 214.95,142.46 215.35,132.59 215.75,132.28 216.15,136.74 216.55,135.83 216.95,130.33 217.35,138.89 217.75,124.44 218.15,133.34 218.55,133.49 218.95,134.21 219.35,137.41 219.75,128.92 220.15,138.94 220.55,134.69 220.95,132.09 221.35,128.13 221.75,129.14 222.15,137.63 222.55,130.33 222.95,135.98 223.35,141.45 223.75,141.27 224.15,144.16 224.55,133.94 224.95,129.6 225.35,141.13 225.75,137.21 226.15,141.64 226.55,135.53 226.95,141.97 227.35,140.03 227.75,139.29 228.15,138.09 228.55,137.47 228.95,136.54 229.35,136.45 229.75,140.51 230.15,132.37 230.55,144.33 230.95,134.4 231.35,140.1 231.75,134.29 232.15,133.34 232.55,145.02 232.95,132.68 233.35,127.55 233.75,130.16 234.15,131.79 234.55,143.16 234.95,133.24 235.35,135.74 235.75,126.53 236.15,131.26 236.55,131.35 236.95,134.04" fill="none" stroke="#283070" stroke-width="0.75" stroke-linejoin="round"/><polyline points="213.75,137.49 214.15,146.02 214.55,138.73 214.95,131.51 215.35,136.39 215.75,144.13 216.15,142.4 216.55,136.77 216.95,137.06 217.35,136.09 217.75,133.3 218.15,148.29 218.55,136.79 218.95,129.98 219.35,133.88 219.75,141.06 220.15,140.54 220.55,135.89 220.95,132.72 221.35,136.84 221.75,126.72 222.15,128.93 222.55,141.42 222.95,133.81 223.35,138.88 223.75,143.88 224.15,140.49 224.55,136.74 224.95,149.23 225.35,140.55 225.75,134.47 226.15,140.89 226.55,138.95 226.95,131.46 227.35,136.93 227.75,135.5 228.15,124.87 228.55,135.41 228.95,134.73 229.35,133.79 229.75,126.7 230.15,134.21 230.55,136.01 230.95,136.78 231.35,129.55 231.75,139.72 232.15,128.99 232.55,134.61 232.95,143.23 233.35,131.74 233.75,132.64 234.15,141.3 234.55,132.98 234.95,133.19 235.35,135.63 235.75,139.47 236.15,122.3 236.55,128.74 236.95,127.29 237.35,126.29 237.75,126.54 238.15,125.77" fill="none" stroke="#8a34aa" stroke-width="0.75" stroke-linejoin="round"/><polyline points="240.95,139.49 241.35,136.58 241.75,140.32 242.15,129.54 242.55,132.12 242.95,134.58 243.35,132.49 243.75,133.03 244.15,128.95 244.55,125.15 244.95,126.1 245.35,120.81 245.75,118.16 246.15,122.53 246.55,119.79 246.95,119.21 247.35,114.61 247.75,115.6 248.15,114.14 248.55,112.74 248.95,110.46 249.35,110.97 249.75,110.58 250.15,109.12 250.55,107.62 250.95,106.96 251.35,106.53 251.75,104.28 252.15,104.96 252.55,104.83 252.95,104.53 253.35,104.67 253.75,104.12 254.15,103.48 254.55,103.23 254.95,103.22 255.35,102.4 255.75,102.42 256.15,102.66 256.55,102.95 256.95,101.81 257.35,101.69 257.75,101.64 258.15,102 258.55,101.23 258.95,101.77 259.35,100.52 259.75,100.75 260.15,100.62 260.55,100.95 260.95,100.96 261.35,99.69 261.75,99.87 262.15,100.69 262.55,100.16 262.95,99.68 263.35,100.77 263.75,100.46 264.15,100.4 264.55,99.9 264.95,100.53 265.35,99.91 265.75,100.48 266.15,99.54 266.55,99.54 266.95,100 267.35,99.57 267.75,100.19 268.15,100 268.55,99.46 268.95,99.93 269.35,99.75 269.75,100.35 270.15,99.67 270.55,99.8 270.95,100.59 271.35,101.11 271.75,101.06 272.15,100.24 272.55,100.39 272.95,101.06 273.35,100.4 273.75,100.11 274.15,100.71 274.55,100.99 274.95,100.53 275.35,100.3 275.75,100.56 276.15,101.68 276.55,101.22 276.95,101.71 277.35,102.09 277.75,102.52 278.15,102.36 278.55,103.03 278.95,102.72 279.35,103.31 279.75,103.39 280.15,104.79 280.55,104.72 280.95,104.9 281.35,105.62 281.75,106.27 282.15,107.34 282.55,107 282.95,108.01 283.35,109.14 283.75,111.5 284.15,111.71 284.55,112.2 284.95,113.85 285.35,116.04 285.75,115.83 286.15,117.15 286.55,120.1 286.95,121.19 287.35,123.25 287.75,123.83 288.15,129.19 288.55,131.42 288.95,132.17 289.35,135.09 289.75,132.22 290.15,140.93 290.55,142.21 290.95,146.99 291.35,151.14 291.75,152.65 292.15,153.68 292.55,162.64 292.95,164.74 293.35,170.55 293.75,175.11 294.15,181.2 294.55,182.59" fill="none" stroke="#ec2a5c" stroke-width="2.1" stroke-linejoin="round"/><polyline points="240.55,143.42 240.95,138.24 241.35,131.99 241.75,140.27 242.15,131.97 242.55,127.77 242.95,128.78 243.35,138.49 243.75,131.34 244.15,133.9 244.55,126.02 244.95,129.9 245.35,123.38 245.75,123.59 246.15,129.45 246.55,123.36 246.95,119.14 247.35,118.79 247.75,118.22 248.15,118.17 248.55,114.51 248.95,112 249.35,112.33 249.75,111.33 250.15,110.14 250.55,109.49 250.95,107.76 251.35,106.79 251.75,104.76 252.15,104.56 252.55,104.1 252.95,102.58 253.35,101.56 253.75,100.85 254.15,101.03 254.55,99.31 254.95,99.26 255.35,99.14 255.75,98.92 256.15,98.06 256.55,98.1 256.95,97.55 257.35,97.47 257.75,97.1 258.15,96.41 258.55,96.69 258.95,96.89 259.35,95.85 259.75,95.98 260.15,96.22 260.55,95.26 260.95,95.66 261.35,94.95 261.75,95.81 262.15,96.51 262.55,96.26 262.95,95.13 263.35,95.46 263.75,95.08 264.15,94.99 264.55,95.57 264.95,94.2 265.35,95.22 265.75,94.67 266.15,95.3 266.55,94.71 266.95,94.3 267.35,94.72 267.75,94.93 268.15,94.62 268.55,94.84 268.95,94.41 269.35,93.71 269.75,95.13 270.15,95.09 270.55,94.91 270.95,94.94 271.35,95.46 271.75,94.88 272.15,94.87 272.55,95.22 272.95,95.97 273.35,94.94 273.75,96.26 274.15,95.59 274.55,95.56 274.95,96.83 275.35,96.43 275.75,96.11 276.15,96.8 276.55,97.66 276.95,98.08 277.35,97.67 277.75,98.4 278.15,98.93 278.55,98.73 278.95,99.64 279.35,99.96 279.75,100.27 280.15,100.87 280.55,101.76 280.95,102.44 281.35,102.92 281.75,103.79 282.15,105.37 282.55,105.92 282.95,107.26 283.35,108.52 283.75,109.46 284.15,111.65 284.55,111.44 284.95,113.92 285.35,114.83 285.75,118.26 286.15,120.21 286.55,118.8 286.95,121.84 287.35,126.14 287.75,128.96 288.15,131.72 288.55,133.25 288.95,137.44 289.35,141.24 289.75,143.11 290.15,149.36 290.55,145.95 290.95,156.73 291.35,157.5 291.75,166.82 292.15,169.26 292.55,173.21 292.95,181.83" fill="none" stroke="#f08a2c" stroke-width="2.1" stroke-linejoin="round"/><polyline points="239.75,135.11 240.15,136.16 240.55,133.07 240.95,139.39 241.35,131.87 241.75,130.57 242.15,125.91 242.55,130.1 242.95,125.42 243.35,127.13 243.75,130.18 244.15,126.45 244.55,125.48 244.95,123.68 245.35,121.6 245.75,119.91 246.15,118.32 246.55,118.86 246.95,114.79 247.35,116.66 247.75,113.79 248.15,111.85 248.55,110.86 248.95,109.54 249.35,108.71 249.75,107.06 250.15,106.58 250.55,104.51 250.95,102.63 251.35,102.04 251.75,100.29 252.15,99.93 252.55,99.24 252.95,97.97 253.35,96.12 253.75,95.43 254.15,95.68 254.55,94.36 254.95,93.61 255.35,93.51 255.75,93.61 256.15,92.68 256.55,91.79 256.95,91.5 257.35,91.26 257.75,90.42 258.15,89.92 258.55,90.1 258.95,89.41 259.35,89.52 259.75,89.35 260.15,90.06 260.55,88.51 260.95,88.62 261.35,88.42 261.75,88.51 262.15,88.88 262.55,88.09 262.95,87.82 263.35,87.36 263.75,87.56 264.15,88.09 264.55,87.81 264.95,87.3 265.35,87.52 265.75,87.66 266.15,87.83 266.55,87.36 266.95,87.51 267.35,86.85 267.75,87.15 268.15,88.33 268.55,86.76 268.95,87.57 269.35,87.84 269.75,87.64 270.15,87.52 270.55,87.89 270.95,87.99 271.35,88.04 271.75,87.37 272.15,88.2 272.55,88.01 272.95,88.27 273.35,88.73 273.75,89.05 274.15,89.33 274.55,88.93 274.95,89.74 275.35,90.08 275.75,90.32 276.15,90.71 276.55,90.38 276.95,90.71 277.35,91.52 277.75,91.02 278.15,92.16 278.55,92.37 278.95,93.01 279.35,93.06 279.75,94.11 280.15,95.24 280.55,96.46 280.95,97.43 281.35,97.98 281.75,99.04 282.15,99.98 282.55,101.81 282.95,102.96 283.35,104.88 283.75,107.05 284.15,108.14 284.55,109.45 284.95,111.84 285.35,113.7 285.75,116.24 286.15,121.05 286.55,123.03 286.95,123.97 287.35,130.32 287.75,135.24 288.15,136.09 288.55,139.53 288.95,144.76 289.35,150.92 289.75,156.82 290.15,163.48 290.55,169.37 290.95,175.5 291.35,182.49" fill="none" stroke="#18a090" stroke-width="2.1" stroke-linejoin="round"/><polyline points="239.75,134.52 240.15,125.7 240.55,126.59 240.95,131.71 241.35,130.5 241.75,124.98 242.15,127.82 242.55,126.24 242.95,118.86 243.35,121.39 243.75,121.65 244.15,118.53 244.55,115.02 244.95,116.61 245.35,116.49 245.75,115.77 246.15,111.63 246.55,113.19 246.95,110.16 247.35,109.54 247.75,108.25 248.15,106.95 248.55,105.55 248.95,104.07 249.35,103.14 249.75,101.68 250.15,100.14 250.55,99.87 250.95,98.3 251.35,97.31 251.75,95.66 252.15,94.92 252.55,93.81 252.95,92.68 253.35,91.31 253.75,90.03 254.15,89.16 254.55,87.78 254.95,86.88 255.35,86.23 255.75,85.11 256.15,84.36 256.55,83.51 256.95,83.04 257.35,82.15 257.75,81.17 258.15,80.69 258.55,79.68 258.95,79.13 259.35,78.77 259.75,77.85 260.15,77.51 260.55,76.86 260.95,76.67 261.35,76.53 261.75,75.74 262.15,75.8 262.55,75.28 262.95,74.94 263.35,74.64 263.75,74.85 264.15,74.77 264.55,74.22 264.95,73.8 265.35,73.85 265.75,73.49 266.15,73.52 266.55,73.27 266.95,73.12 267.35,73.03 267.75,72.7 268.15,72.6 268.55,72.26 268.95,72.37 269.35,72.09 269.75,72.22 270.15,71.98 270.55,72.08 270.95,72.06 271.35,71.75 271.75,71.96 272.15,72.12 272.55,72.68 272.95,73.2 273.35,73.48 273.75,73.78 274.15,74.69 274.55,74.84 274.95,76.13 275.35,76.59 275.75,77.14 276.15,79.09 276.55,79.99 276.95,80.7 277.35,82.16 277.75,83.43 278.15,84.9 278.55,86.11 278.95,87.83 279.35,89.69 279.75,91.39 280.15,93.39 280.55,95.1 280.95,97.48 281.35,99.01 281.75,101.33 282.15,103.18 282.55,105.61 282.95,108.46 283.35,110.48 283.75,113.44 284.15,115.87 284.55,118 284.95,121.16 285.35,123.82 285.75,126.71 286.15,131.34 286.55,134.48 286.95,135.57 287.35,138.14 287.75,143.86 288.15,146.55 288.55,152.31 288.95,159.13 289.35,159.24 289.75,161.28 290.15,164.86 290.55,167.44 290.95,171.36 291.35,175.26 291.75,180.63 292.15,184.83" fill="none" stroke="#7c1424" stroke-width="1.7" stroke-linejoin="round"/><polyline points="238.15,125.77 238.55,129.02 238.95,123.78 239.35,125.92 239.75,125.43 240.15,121.23 240.55,122.07 240.95,123.71 241.35,119.75 241.75,116.96 242.15,116.5 242.55,114.35 242.95,114.17 243.35,113.16 243.75,110.95 244.15,109.92 244.55,108.87 244.95,107.25 245.35,106.04 245.75,104.52 246.15,103.23 246.55,101.96 246.95,101.07 247.35,99.34 247.75,98.01 248.15,96.7 248.55,95.45 248.95,94.28 249.35,92.91 249.75,91.92 250.15,90.34 250.55,89.26 250.95,87.81 251.35,86.6 251.75,85.03 252.15,84 252.55,82.78 252.95,81.54 253.35,80.04 253.75,79.34 254.15,77.98 254.55,76.83 254.95,75.74 255.35,74.65 255.75,73.69 256.15,72.39 256.55,71.45 256.95,70.68 257.35,69.74 257.75,68.78 258.15,67.92 258.55,67.09 258.95,66.48 259.35,65.99 259.75,64.99 260.15,64.81 260.55,64.16 260.95,63.45 261.35,63.19 261.75,62.41 262.15,62.2 262.55,61.92 262.95,61.73 263.35,61.45 263.75,61.16 264.15,61.01 264.55,60.43 264.95,60.64 265.35,60.15 265.75,60.09 266.15,59.97 266.55,59.7 266.95,59.53 267.35,59.46 267.75,59.49 268.15,59.48 268.55,59.37 268.95,59.03 269.35,58.97 269.75,58.86 270.15,59 270.55,58.56 270.95,59.29 271.35,59.33 271.75,59.69 272.15,60.38 272.55,61.09 272.95,61.69 273.35,62.6 273.75,63.36 274.15,64.53 274.55,65.63 274.95,66.62 275.35,68.16 275.75,69.35 276.15,70.83 276.55,72.26 276.95,74.05 277.35,76.01 277.75,77.57 278.15,79.86 278.55,81.9 278.95,84.06 279.35,85.95 279.75,88.66 280.15,91.25 280.55,93.6 280.95,96.4 281.35,98.78 281.75,102.13 282.15,104.88 282.55,108.18 282.95,110.76 283.35,114.7 283.75,117.67 284.15,121.83 284.55,123.9 284.95,127.68 285.35,135.5 285.75,134.51 286.15,138.55 286.55,143.41 286.95,146.08 287.35,154.63 287.75,159.99 288.15,159.65 288.55,162.16 288.95,172.44 289.35,177.02 289.75,181.26" fill="none" stroke="#8a34aa" stroke-width="1.6" stroke-linejoin="round"/><polyline points="236.95,134.04 237.35,124.35 237.75,127.19 238.15,124.99 238.55,120.46 238.95,121.62 239.35,119.87 239.75,115.25 240.15,118.6 240.55,117.08 240.95,114.7 241.35,112.78 241.75,113.31 242.15,111.23 242.55,110.06 242.95,108.69 243.35,107.02 243.75,105.89 244.15,104.38 244.55,103.06 244.95,101.72 245.35,100.39 245.75,99.22 246.15,97.73 246.55,96.34 246.95,94.99 247.35,93.75 247.75,92.22 248.15,90.95 248.55,89.69 248.95,88.29 249.35,87.04 249.75,85.65 250.15,84.75 250.55,83.33 250.95,81.9 251.35,80.52 251.75,79.59 252.15,78.02 252.55,76.69 252.95,75.49 253.35,74.25 253.75,73.19 254.15,71.75 254.55,70.88 254.95,69.23 255.35,68.31 255.75,66.91 256.15,66.25 256.55,64.83 256.95,63.82 257.35,62.97 257.75,62.05 258.15,60.76 258.55,60 258.95,59.01 259.35,58.48 259.75,57.72 260.15,57.01 260.55,56.35 260.95,55.83 261.35,55.27 261.75,55 262.15,54.93 262.55,54.01 262.95,53.95 263.35,53.59 263.75,53.46 264.15,52.97 264.55,52.87 264.95,52.52 265.35,52.6 265.75,52.33 266.15,52.13 266.55,52.07 266.95,51.83 267.35,51.5 267.75,51.73 268.15,51.57 268.55,51.4 268.95,51.49 269.35,51.44 269.75,51 270.15,51.11 270.55,51.83 270.95,52.28 271.35,52.51 271.75,53.11 272.15,53.98 272.55,54.89 272.95,55.71 273.35,57.06 273.75,58.06 274.15,59.38 274.55,61.13 274.95,62.4 275.35,64.12 275.75,65.96 276.15,67.83 276.55,69.59 276.95,71.69 277.35,73.71 277.75,76.37 278.15,78.55 278.55,80.74 278.95,83.48 279.35,86.27 279.75,89.01 280.15,92.1 280.55,95.01 280.95,97.8 281.35,101.06 281.75,104.16 282.15,107.8 282.55,111.3 282.95,115.91 283.35,118.63 283.75,120.71 284.15,125.59 284.55,130.47 284.95,132.35 285.35,136.97 285.75,142.28 286.15,148.09 286.55,151.63 286.95,154.85 287.35,162.87 287.75,165.11 288.15,170.14 288.55,173.46 288.95,179.77" fill="none" stroke="#283070" stroke-width="1.6" stroke-linejoin="round"/><polyline points="232.15,141.03 232.55,120.23 232.95,134.86 233.35,126.29 233.75,137.04 234.15,141.45 234.55,127.55 234.95,128.55 235.35,126.13 235.75,126.67 236.15,126.02 236.55,126.04 236.95,119.5 237.35,123.16 237.75,117.41 238.15,117.9 238.55,117.46 238.95,115.45 239.35,112.8 239.75,111.72 240.15,110.55 240.55,109.33 240.95,108.14 241.35,106.43 241.75,105.3 242.15,103.95 242.55,102.58 242.95,101.19 243.35,99.97 243.75,98.46 244.15,97.14 244.55,95.73 244.95,94.53 245.35,92.65 245.75,91.73 246.15,90.15 246.55,88.78 246.95,87.32 247.35,85.83 247.75,84.68 248.15,83.28 248.55,82.09 248.95,80.46 249.35,79.52 249.75,78.01 250.15,76.59 250.55,75.19 250.95,73.84 251.35,72.46 251.75,71.21 252.15,69.97 252.55,68.63 252.95,67.15 253.35,66.01 253.75,64.64 254.15,63.51 254.55,62.49 254.95,61.06 255.35,59.7 255.75,58.31 256.15,57.15 256.55,55.95 256.95,55.16 257.35,53.87 257.75,52.93 258.15,51.84 258.55,50.99 258.95,50.29 259.35,49.18 259.75,48.48 260.15,47.73 260.55,47.35 260.95,46.54 261.35,46.04 261.75,45.58 262.15,45.36 262.55,45.29 262.95,45.3 263.35,44.54 263.75,44.59 264.15,44.29 264.55,43.92 264.95,43.88 265.35,43.75 265.75,43.55 266.15,43.81 266.55,43.17 266.95,43.39 267.35,43.3 267.75,43.09 268.15,43.33 268.55,43.97 268.95,44.5 269.35,45.27 269.75,46.13 270.15,46.66 270.55,48.15 270.95,49.36 271.35,50.36 271.75,51.64 272.15,52.66 272.55,54.3 272.95,55.75 273.35,57.41 273.75,59.35 274.15,60.91 274.55,62.91 274.95,64.65 275.35,66.97 275.75,69.17 276.15,71.31 276.55,73.65 276.95,76.44 277.35,78.52 277.75,81.15 278.15,83.87 278.55,86.93 278.95,89.92 279.35,92.63 279.75,95.52 280.15,98.69 280.55,102.11 280.95,105.14 281.35,108.87 281.75,112.49 282.15,115.72 282.55,119.73 282.95,123.7 283.35,128.58 283.75,129.37 284.15,136.79 284.55,138.16 284.95,141.57 285.35,147.52 285.75,151.25 286.15,154.18 286.55,157.51 286.95,163.38 287.35,172.72 287.75,178.49 288.15,180.8" fill="none" stroke="#b0a848" stroke-width="1.2" stroke-linejoin="round"/><polyline points="229.35,140.15 229.75,143.31 230.15,136.48 230.55,142.81 230.95,137.74 231.35,133.51 231.75,133.21 232.15,130.39 232.55,134.61 232.95,128.69 233.35,129.49 233.75,125.76 234.15,121.24 234.55,126.79 234.95,120.43 235.35,123.05 235.75,121.01 236.15,116.23 236.55,116.22 236.95,115.54 237.35,114 237.75,112.55 238.15,112.33 238.55,110.5 238.95,109.28 239.35,107.76 239.75,106.47 240.15,104.94 240.55,103.66 240.95,102.36 241.35,100.89 241.75,99.44 242.15,97.96 242.55,96.75 242.95,95.39 243.35,93.91 243.75,92.45 244.15,91.25 244.55,90.13 244.95,88.36 245.35,87.06 245.75,85.67 246.15,83.88 246.55,82.86 246.95,81.36 247.35,80.27 247.75,78.65 248.15,77.19 248.55,75.88 248.95,74.55 249.35,73.07 249.75,71.75 250.15,70.19 250.55,68.96 250.95,67.72 251.35,66.51 251.75,64.96 252.15,63.52 252.55,62.27 252.95,60.88 253.35,59.6 253.75,58.16 254.15,56.63 254.55,55.32 254.95,53.96 255.35,52.63 255.75,51.29 256.15,49.82 256.55,48.33 256.95,47.24 257.35,45.79 257.75,44.85 258.15,43.65 258.55,42.28 258.95,41.56 259.35,40.63 259.75,39.69 260.15,39.22 260.55,38.7 260.95,37.83 261.35,37.81 261.75,37.47 262.15,37.4 262.55,37.31 262.95,36.95 263.35,36.86 263.75,36.74 264.15,36.97 264.55,37.83 264.95,38.48 265.35,39.46 265.75,40.68 266.15,41.66 266.55,42.86 266.95,43.75 267.35,45.18 267.75,46.56 268.15,48.05 268.55,49.44 268.95,51.19 269.35,52.66 269.75,54.35 270.15,56.09 270.55,57.99 270.95,59.69 271.35,61.85 271.75,63.75 272.15,65.77 272.55,67.89 272.95,70.15 273.35,72.47 273.75,74.79 274.15,77.09 274.55,79.61 274.95,82.02 275.35,84.76 275.75,87.22 276.15,89.64 276.55,92.89 276.95,95.56 277.35,98.28 277.75,101.38 278.15,104.31 278.55,107.82 278.95,110.79 279.35,113.4 279.75,117.46 280.15,120.28 280.55,125.65 280.95,126.26 281.35,127.88 281.75,134.69 282.15,137.58 282.55,141.18 282.95,141.63 283.35,150.48 283.75,156.82 284.15,153.86 284.55,163.89 284.95,164.63 285.35,174.48 285.75,175.01 286.15,178.11 286.55,185" fill="none" stroke="#98d0b0" stroke-width="1.2" stroke-linejoin="round"/><polyline points="228.95,152.99 229.35,138.04 229.75,138.79 230.15,136.55 230.55,140.91 230.95,132.39 231.35,134.73 231.75,124.74 232.15,122.5 232.55,130.21 232.95,128.56 233.35,124.4 233.75,122.27 234.15,120.73 234.55,117.92 234.95,119.82 235.35,117.07 235.75,115.4 236.15,113.83 236.55,112.74 236.95,110.99 237.35,109.6 237.75,107.85 238.15,106.73 238.55,105.61 238.95,103.8 239.35,102.47 239.75,101.25 240.15,99.87 240.55,98.43 240.95,96.69 241.35,95.63 241.75,93.98 242.15,92.64 242.55,91.47 242.95,89.95 243.35,88.73 243.75,87.71 244.15,85.94 244.55,84.54 244.95,82.9 245.35,81.55 245.75,80.09 246.15,78.78 246.55,77.3 246.95,75.98 247.35,74.66 247.75,73.14 248.15,71.69 248.55,70.3 248.95,69.2 249.35,67.75 249.75,66.51 250.15,65.12 250.55,63.52 250.95,62.29 251.35,60.57 251.75,59.76 252.15,58.21 252.55,56.6 252.95,55.07 253.35,53.93 253.75,52.19 254.15,50.98 254.55,49.85 254.95,48.37 255.35,46.91 255.75,45.77 256.15,44.1 256.55,42.96 256.95,41.5 257.35,40.12 257.75,39.03 258.15,37.52 258.55,36.75 258.95,35.2 259.35,34.55 259.75,33.16 260.15,32.71 260.55,31.89 260.95,31.49 261.35,31.46 261.75,31.36 262.15,31.05 262.55,31.45 262.95,31.97 263.35,33.04 263.75,34.09 264.15,35.21 264.55,35.98 264.95,37.73 265.35,38.84 265.75,40.02 266.15,41.32 266.55,42.68 266.95,44.25 267.35,46.13 267.75,47.62 268.15,49.19 268.55,51.04 268.95,53.19 269.35,54.76 269.75,56.65 270.15,58.94 270.55,60.85 270.95,62.88 271.35,64.94 271.75,67.01 272.15,69.35 272.55,71.79 272.95,74.23 273.35,76.77 273.75,79.31 274.15,81.82 274.55,84.45 274.95,86.93 275.35,89.49 275.75,92.55 276.15,95.33 276.55,98.29 276.95,101.32 277.35,104.2 277.75,107.31 278.15,110.6 278.55,113.86 278.95,116.76 279.35,120.74 279.75,123.58 280.15,126.06 280.55,130.75 280.95,137.35 281.35,136.53 281.75,143.79 282.15,147.93 282.55,151.94 282.95,151.23 283.35,160.68 283.75,160.91 284.15,164.2 284.55,168.31 284.95,174.06 285.35,177.16 285.75,180.96" fill="none" stroke="#50a850" stroke-width="1.2" stroke-linejoin="round"/><polyline points="226.15,151.33 226.55,124.01 226.95,135.18 227.35,142.41 227.75,127.28 228.15,149.89 228.55,121.03 228.95,139.88 229.35,138.6 229.75,134.1 230.15,128.15 230.55,128.87 230.95,123.46 231.35,127.2 231.75,120.71 232.15,121.56 232.55,122.75 232.95,117.54 233.35,117.52 233.75,116.87 234.15,113.99 234.55,114.79 234.95,112.72 235.35,110.54 235.75,109.74 236.15,108.25 236.55,106.89 236.95,105.6 237.35,104.1 237.75,102.95 238.15,101.33 238.55,100.17 238.95,98.64 239.35,97.37 239.75,95.79 240.15,94.4 240.55,92.92 240.95,91.77 241.35,90.42 241.75,89.19 242.15,87.69 242.55,86.15 242.95,84.69 243.35,83.38 243.75,81.93 244.15,80.74 244.55,79.27 244.95,77.63 245.35,76.26 245.75,75.15 246.15,73.6 246.55,72.13 246.95,70.94 247.35,69.32 247.75,67.94 248.15,66.52 248.55,64.92 248.95,63.92 249.35,62.23 249.75,60.93 250.15,59.51 250.55,58.32 250.95,56.81 251.35,55.43 251.75,53.8 252.15,52.63 252.55,51.04 252.95,49.9 253.35,48.51 253.75,47.07 254.15,45.97 254.55,44.36 254.95,42.98 255.35,41.53 255.75,40.1 256.15,38.88 256.55,37.52 256.95,35.8 257.35,34.76 257.75,33.33 258.15,32.04 258.55,30.65 258.95,29.13 259.35,27.93 259.75,27.29 260.15,26.27 260.55,25.55 260.95,25.53 261.35,26.14 261.75,26.92 262.15,28.08 262.55,29.34 262.95,30.82 263.35,32.05 263.75,33.36 264.15,34.81 264.55,36.29 264.95,37.39 265.35,39.18 265.75,40.68 266.15,42.25 266.55,44.03 266.95,45.81 267.35,47.57 267.75,49.22 268.15,51.23 268.55,53.5 268.95,55.04 269.35,56.97 269.75,59.31 270.15,61.46 270.55,63.61 270.95,65.59 271.35,68.15 271.75,70.2 272.15,72.5 272.55,74.98 272.95,77.5 273.35,80.11 273.75,82.64 274.15,85.15 274.55,87.92 274.95,90.49 275.35,93.34 275.75,95.81 276.15,98.62 276.55,101.83 276.95,104.45 277.35,107.58 277.75,110.63 278.15,113.57 278.55,116.63 278.95,120.91 279.35,121.11 279.75,127.43 280.15,132.78 280.55,133.21 280.95,136.55 281.35,141.45 281.75,147.09 282.15,144.79 282.55,150.87 282.95,153.99 283.35,159.13 283.75,162.1 284.15,166.87 284.55,168.61 284.95,173.41 285.35,175.96 285.75,179.95" fill="none" stroke="#b8dca0" stroke-width="1.2" stroke-linejoin="round"/><polyline points="223.75,146.3 224.15,143.32 224.55,140.39 224.95,144.04 225.35,145.02 225.75,138.47 226.15,139.39 226.55,133.71 226.95,127 227.35,128.08 227.75,134.77 228.15,131.87 228.55,134.57 228.95,127.54 229.35,128.61 229.75,128.22 230.15,125.66 230.55,120.56 230.95,120.14 231.35,119.31 231.75,116.4 232.15,116.87 232.55,115.86 232.95,113.25 233.35,113.15 233.75,110.71 234.15,109.37 234.55,108 234.95,106.56 235.35,105.29 235.75,103.86 236.15,102.64 236.55,101.14 236.95,99.74 237.35,98.26 237.75,96.75 238.15,95.49 238.55,94.02 238.95,92.81 239.35,91.32 239.75,90.1 240.15,88.61 240.55,87.23 240.95,85.77 241.35,84.37 241.75,83.02 242.15,81.65 242.55,80.09 242.95,78.82 243.35,77.64 243.75,75.96 244.15,74.55 244.55,73.11 244.95,71.63 245.35,70.51 245.75,69 246.15,67.63 246.55,66.39 246.95,65.06 247.35,63.31 247.75,62.12 248.15,60.68 248.55,59.26 248.95,57.87 249.35,56.42 249.75,55.19 250.15,53.69 250.55,52.26 250.95,50.96 251.35,49.53 251.75,48.08 252.15,46.67 252.55,45.42 252.95,43.9 253.35,42.44 253.75,40.96 254.15,39.62 254.55,38.14 254.95,36.87 255.35,35.49 255.75,33.85 256.15,32.67 256.55,31.34 256.95,29.89 257.35,28.38 257.75,27.22 258.15,25.63 258.55,24.19 258.95,22.82 259.35,21.58 259.75,20.73 260.15,21.46 260.55,22.55 260.95,23.67 261.35,25.05 261.75,26.39 262.15,28.01 262.55,29.3 262.95,31 263.35,32.6 263.75,34.1 264.15,35.79 264.55,37.31 264.95,38.97 265.35,40.8 265.75,42.79 266.15,44.61 266.55,46.33 266.95,48.42 267.35,50.22 267.75,52.41 268.15,54.35 268.55,56.34 268.95,58.59 269.35,60.6 269.75,62.79 270.15,64.99 270.55,67.46 270.95,69.76 271.35,72.14 271.75,74.52 272.15,77.17 272.55,79.48 272.95,81.99 273.35,84.78 273.75,87.42 274.15,89.98 274.55,92.47 274.95,95.34 275.35,98.26 275.75,101.03 276.15,104.07 276.55,106.68 276.95,109.87 277.35,112.63 277.75,116.32 278.15,118.86 278.55,122.78 278.95,124.59 279.35,126.78 279.75,130.11 280.15,133.94 280.55,136.33 280.95,143.94 281.35,147.62 281.75,149.05 282.15,150.06 282.55,155.34 282.95,157.85 283.35,165.55 283.75,167.04 284.15,171.08 284.55,173.14 284.95,173.86 285.35,180.05 285.75,183.27" fill="none" stroke="#101010" stroke-width="0.95" stroke-linejoin="round"/><polyline points="213.75,140.2 214.15,145.73 214.55,142.11 214.95,135.66 215.35,142.03 215.75,137.24 216.15,143.73 216.55,141.82 216.95,133.34 217.35,139.77 217.75,140.11 218.15,137.75 218.55,145.56 218.95,150.87 219.35,137.34 219.75,137.44 220.15,125.1 220.55,138.87 220.95,136.87 221.35,125.65 221.75,141.56 222.15,143.52 222.55,134.9 222.95,137.24 223.35,133.37 223.75,144.59 224.15,129.76 224.55,137.58 224.95,152.28 225.35,139.92 225.75,142.61 226.15,138.6 226.55,131.9 226.95,139.3 227.35,142.13 227.75,132.82 228.15,141.66 228.55,147.51 228.95,146.34 229.35,129.06 229.75,132.97 230.15,128.78 230.55,146.19 230.95,143.14 231.35,143.68 231.75,133.33 232.15,131.37 232.55,139.35 232.95,139.4 233.35,133.05 233.75,139.35 234.15,142.41 234.55,139.44 234.95,130.99 235.35,123.95 235.75,135.14 236.15,137.09 236.55,133.87 236.95,132.13 237.35,129.89 237.75,136.08 238.15,131.12 238.55,130.74 238.95,124.96 239.35,125.34 239.75,127.02 240.15,121.89 240.55,120.12 240.95,121.63 241.35,124.05 241.75,120.24 242.15,121.22 242.55,116.91 242.95,115.33 243.35,112.74 243.75,112.46 244.15,112.83 244.55,110.5 244.95,109.31 245.35,107.88 245.75,106.15 246.15,104.67 246.55,103.45 246.95,102.34 247.35,100.85" fill="none" stroke="#6a3aa0" stroke-width="1" stroke-linejoin="round"/></g>
<line x1="265" y1="19.5" x2="290.5" y2="110" stroke="#e04858" stroke-width="0.9" stroke-dasharray="1.6,1.6"/>
<circle cx="254" cy="35" r="0.9" fill="#e83050"/>
<circle cx="256" cy="44" r="0.9" fill="#e83050"/>
<circle cx="257.5" cy="52" r="0.9" fill="#e83050"/>
<circle cx="258.5" cy="60" r="0.9" fill="#e83050"/>
<circle cx="259.5" cy="72" r="0.9" fill="#e83050"/>
<circle cx="260.5" cy="86" r="0.9" fill="#e83050"/>
<circle cx="262" cy="93" r="0.9" fill="#e83050"/>
<circle cx="263" cy="97" r="0.9" fill="#e83050"/>
<circle cx="264.5" cy="118.5" r="0.9" fill="#e83050"/>
<circle cx="290.5" cy="110" r="0.9" fill="#e83050"/>
<rect x="213.75" y="16.25" width="103.75" height="138.75" fill="none" stroke="#777" stroke-width="0.9"/>
<line x1="213.75" y1="155" x2="213.75" y2="153" stroke="#777" stroke-width="0.6"/>
<line x1="213.75" y1="16.25" x2="213.75" y2="18.25" stroke="#777" stroke-width="0.6"/>
<text x="213.75" y="161" font-size="4.9" fill="#555" text-anchor="middle" font-family="'Liberation Sans', Arial, sans-serif" stroke="#555" stroke-width="0.15">1.4</text>
<line x1="231.04" y1="155" x2="231.04" y2="153" stroke="#777" stroke-width="0.6"/>
<line x1="231.04" y1="16.25" x2="231.04" y2="18.25" stroke="#777" stroke-width="0.6"/>
<text x="231.04" y="161" font-size="4.9" fill="#555" text-anchor="middle" font-family="'Liberation Sans', Arial, sans-serif" stroke="#555" stroke-width="0.15">1.5</text>
<line x1="248.33" y1="155" x2="248.33" y2="153" stroke="#777" stroke-width="0.6"/>
<line x1="248.33" y1="16.25" x2="248.33" y2="18.25" stroke="#777" stroke-width="0.6"/>
<text x="248.33" y="161" font-size="4.9" fill="#555" text-anchor="middle" font-family="'Liberation Sans', Arial, sans-serif" stroke="#555" stroke-width="0.15">1.6</text>
<line x1="265.62" y1="155" x2="265.62" y2="153" stroke="#777" stroke-width="0.6"/>
<line x1="265.62" y1="16.25" x2="265.62" y2="18.25" stroke="#777" stroke-width="0.6"/>
<text x="265.62" y="161" font-size="4.9" fill="#555" text-anchor="middle" font-family="'Liberation Sans', Arial, sans-serif" stroke="#555" stroke-width="0.15">1.7</text>
<line x1="282.91" y1="155" x2="282.91" y2="153" stroke="#777" stroke-width="0.6"/>
<line x1="282.91" y1="16.25" x2="282.91" y2="18.25" stroke="#777" stroke-width="0.6"/>
<text x="282.91" y="161" font-size="4.9" fill="#555" text-anchor="middle" font-family="'Liberation Sans', Arial, sans-serif" stroke="#555" stroke-width="0.15">1.8</text>
<line x1="300.2" y1="155" x2="300.2" y2="153" stroke="#777" stroke-width="0.6"/>
<line x1="300.2" y1="16.25" x2="300.2" y2="18.25" stroke="#777" stroke-width="0.6"/>
<text x="300.2" y="161" font-size="4.9" fill="#555" text-anchor="middle" font-family="'Liberation Sans', Arial, sans-serif" stroke="#555" stroke-width="0.15">1.9</text>
<line x1="317.49" y1="155" x2="317.49" y2="153" stroke="#777" stroke-width="0.6"/>
<line x1="317.49" y1="16.25" x2="317.49" y2="18.25" stroke="#777" stroke-width="0.6"/>
<text x="317.49" y="161" font-size="4.9" fill="#555" text-anchor="middle" font-family="'Liberation Sans', Arial, sans-serif" stroke="#555" stroke-width="0.15">2.0</text>
<line x1="213.75" y1="16.25" x2="216.25" y2="16.25" stroke="#777" stroke-width="0.6"/>
<text x="212.55" y="18.05" font-size="4.6" fill="#555" text-anchor="end" font-family="'Liberation Sans', Arial, sans-serif">10<tspan dy="-1.8" font-size="3">4</tspan></text>
<line x1="213.75" y1="48.58" x2="215.05" y2="48.58" stroke="#888" stroke-width="0.5"/>
<line x1="213.75" y1="40.43" x2="215.05" y2="40.43" stroke="#888" stroke-width="0.5"/>
<line x1="213.75" y1="34.65" x2="215.05" y2="34.65" stroke="#888" stroke-width="0.5"/>
<line x1="213.75" y1="30.17" x2="215.05" y2="30.17" stroke="#888" stroke-width="0.5"/>
<line x1="213.75" y1="26.51" x2="215.05" y2="26.51" stroke="#888" stroke-width="0.5"/>
<line x1="213.75" y1="23.41" x2="215.05" y2="23.41" stroke="#888" stroke-width="0.5"/>
<line x1="213.75" y1="20.73" x2="215.05" y2="20.73" stroke="#888" stroke-width="0.5"/>
<line x1="213.75" y1="18.37" x2="215.05" y2="18.37" stroke="#888" stroke-width="0.5"/>
<line x1="213.75" y1="62.5" x2="216.25" y2="62.5" stroke="#777" stroke-width="0.6"/>
<text x="212.55" y="64.3" font-size="4.6" fill="#555" text-anchor="end" font-family="'Liberation Sans', Arial, sans-serif">10<tspan dy="-1.8" font-size="3">3</tspan></text>
<line x1="213.75" y1="94.83" x2="215.05" y2="94.83" stroke="#888" stroke-width="0.5"/>
<line x1="213.75" y1="86.68" x2="215.05" y2="86.68" stroke="#888" stroke-width="0.5"/>
<line x1="213.75" y1="80.9" x2="215.05" y2="80.9" stroke="#888" stroke-width="0.5"/>
<line x1="213.75" y1="76.42" x2="215.05" y2="76.42" stroke="#888" stroke-width="0.5"/>
<line x1="213.75" y1="72.76" x2="215.05" y2="72.76" stroke="#888" stroke-width="0.5"/>
<line x1="213.75" y1="69.66" x2="215.05" y2="69.66" stroke="#888" stroke-width="0.5"/>
<line x1="213.75" y1="66.98" x2="215.05" y2="66.98" stroke="#888" stroke-width="0.5"/>
<line x1="213.75" y1="64.62" x2="215.05" y2="64.62" stroke="#888" stroke-width="0.5"/>
<line x1="213.75" y1="108.7" x2="216.25" y2="108.7" stroke="#777" stroke-width="0.6"/>
<text x="212.55" y="110.5" font-size="4.6" fill="#555" text-anchor="end" font-family="'Liberation Sans', Arial, sans-serif">10<tspan dy="-1.8" font-size="3">2</tspan></text>
<line x1="213.75" y1="141.03" x2="215.05" y2="141.03" stroke="#888" stroke-width="0.5"/>
<line x1="213.75" y1="132.88" x2="215.05" y2="132.88" stroke="#888" stroke-width="0.5"/>
<line x1="213.75" y1="127.1" x2="215.05" y2="127.1" stroke="#888" stroke-width="0.5"/>
<line x1="213.75" y1="122.62" x2="215.05" y2="122.62" stroke="#888" stroke-width="0.5"/>
<line x1="213.75" y1="118.96" x2="215.05" y2="118.96" stroke="#888" stroke-width="0.5"/>
<line x1="213.75" y1="115.86" x2="215.05" y2="115.86" stroke="#888" stroke-width="0.5"/>
<line x1="213.75" y1="113.18" x2="215.05" y2="113.18" stroke="#888" stroke-width="0.5"/>
<line x1="213.75" y1="110.82" x2="215.05" y2="110.82" stroke="#888" stroke-width="0.5"/>
<line x1="213.75" y1="155" x2="216.25" y2="155" stroke="#777" stroke-width="0.6"/>
<text x="212.55" y="156.8" font-size="4.6" fill="#555" text-anchor="end" font-family="'Liberation Sans', Arial, sans-serif">10<tspan dy="-1.8" font-size="3">1</tspan></text>
<text x="261.5" y="167.3" font-size="5.15" fill="#333" text-anchor="middle" font-family="'Liberation Sans', Arial, sans-serif" stroke="#333" stroke-width="0.15">Photon energy (eV)</text>
<text x="208.2" y="92.4" font-size="4.85" fill="#444" text-anchor="middle" font-family="'Liberation Sans', Arial, sans-serif" stroke="#444" stroke-width="0.15" transform="rotate(-90 208.2 92.4)">PL intensity (arb.units)</text>
<text x="217" y="27" font-size="7" fill="#444" text-anchor="start" font-family="'Liberation Sans', Arial, sans-serif" stroke="#444" stroke-width="0.21">(a)</text>
<text x="242.8" y="40.1" font-size="6.7" fill="#3a4a90" text-anchor="middle" font-family="'Liberation Sans', Arial, sans-serif" stroke="#3a4a90" stroke-width="0.2">X</text>
<text x="271.1" y="26" font-size="6.7" fill="#d04050" text-anchor="middle" font-family="'Liberation Sans', Arial, sans-serif" stroke="#d04050" stroke-width="0.2">X</text>
<line x1="287.5" y1="22.3" x2="300" y2="22.3" stroke="#606060" stroke-width="0.7"/>
<text x="300.6" y="24" font-size="4.6" fill="#666" text-anchor="start" font-family="'Liberation Sans', Arial, sans-serif" stroke="#666" stroke-width="0.14">0 GPa</text>
<line x1="287.5" y1="29.1" x2="300" y2="29.1" stroke="#d0d8a8" stroke-width="0.7"/>
<text x="300.6" y="30.8" font-size="4.6" fill="#666" text-anchor="start" font-family="'Liberation Sans', Arial, sans-serif" stroke="#666" stroke-width="0.14">0.69</text>
<line x1="287.5" y1="35.9" x2="300" y2="35.9" stroke="#c8dcc8" stroke-width="0.7"/>
<text x="300.6" y="37.6" font-size="4.6" fill="#666" text-anchor="start" font-family="'Liberation Sans', Arial, sans-serif" stroke="#666" stroke-width="0.14">1.02</text>
<line x1="287.5" y1="42.7" x2="300" y2="42.7" stroke="#c8d4d0" stroke-width="0.7"/>
<text x="300.6" y="44.4" font-size="4.6" fill="#666" text-anchor="start" font-family="'Liberation Sans', Arial, sans-serif" stroke="#666" stroke-width="0.14">1.54</text>
<line x1="287.5" y1="49.5" x2="300" y2="49.5" stroke="#c8c8b0" stroke-width="0.7"/>
<text x="300.6" y="51.2" font-size="4.6" fill="#666" text-anchor="start" font-family="'Liberation Sans', Arial, sans-serif" stroke="#666" stroke-width="0.14">1.87</text>
<line x1="287.5" y1="56.3" x2="300" y2="56.3" stroke="#c8c0c8" stroke-width="0.7"/>
<text x="300.6" y="58" font-size="4.6" fill="#666" text-anchor="start" font-family="'Liberation Sans', Arial, sans-serif" stroke="#666" stroke-width="0.14">2.06</text>
<line x1="287.5" y1="63.1" x2="300" y2="63.1" stroke="#c8c0d0" stroke-width="0.7"/>
<text x="300.6" y="64.8" font-size="4.6" fill="#666" text-anchor="start" font-family="'Liberation Sans', Arial, sans-serif" stroke="#666" stroke-width="0.14">2.31</text>
<line x1="287.5" y1="69.9" x2="300" y2="69.9" stroke="#c8b8b8" stroke-width="0.7"/>
<text x="300.6" y="71.6" font-size="4.6" fill="#666" text-anchor="start" font-family="'Liberation Sans', Arial, sans-serif" stroke="#666" stroke-width="0.14">2.75</text>
<line x1="287.5" y1="76.7" x2="300" y2="76.7" stroke="#c0d0cc" stroke-width="0.7"/>
<text x="300.6" y="78.4" font-size="4.6" fill="#666" text-anchor="start" font-family="'Liberation Sans', Arial, sans-serif" stroke="#666" stroke-width="0.14">3.17</text>
<line x1="287.5" y1="83.5" x2="300" y2="83.5" stroke="#e8d0c0" stroke-width="0.7"/>
<text x="300.6" y="85.2" font-size="4.6" fill="#666" text-anchor="start" font-family="'Liberation Sans', Arial, sans-serif" stroke="#666" stroke-width="0.14">3.61</text>
<line x1="287.5" y1="90.3" x2="300" y2="90.3" stroke="#e8c8d0" stroke-width="0.7"/>
<text x="300.6" y="92" font-size="4.6" fill="#666" text-anchor="start" font-family="'Liberation Sans', Arial, sans-serif" stroke="#666" stroke-width="0.14">4.64</text>
<line x1="287.5" y1="97.1" x2="300" y2="97.1" stroke="#ecd8e4" stroke-width="0.7"/>
<text x="300.6" y="98.8" font-size="4.6" fill="#666" text-anchor="start" font-family="'Liberation Sans', Arial, sans-serif" stroke="#666" stroke-width="0.14">5.42</text>
<circle cx="371.13" cy="102.56" r="3.8" fill="none" stroke="#fae0e3" stroke-width="0.8"/>
<circle cx="378.67" cy="100.5" r="3.8" fill="none" stroke="#fae0e3" stroke-width="0.8"/>
<circle cx="384.27" cy="94.26" r="3.8" fill="none" stroke="#fae0e3" stroke-width="0.8"/>
<circle cx="392.41" cy="89.76" r="3.8" fill="none" stroke="#fae0e3" stroke-width="0.8"/>
<circle cx="402.2" cy="85.09" r="3.8" fill="none" stroke="#fae0e3" stroke-width="0.8"/>
<circle cx="408.76" cy="80.41" r="3.8" fill="none" stroke="#fae0e3" stroke-width="0.8"/>
<circle cx="417.84" cy="78.68" r="3.8" fill="none" stroke="#fae0e3" stroke-width="0.8"/>
<circle cx="424.3" cy="70.95" r="3.8" fill="none" stroke="#fae0e3" stroke-width="0.8"/>
<circle cx="429.35" cy="70.2" r="3.8" fill="none" stroke="#fae0e3" stroke-width="0.8"/>
<circle cx="437.53" cy="63.83" r="3.8" fill="none" stroke="#fae0e3" stroke-width="0.8"/>
<circle cx="445.33" cy="57.97" r="3.8" fill="none" stroke="#fae0e3" stroke-width="0.8"/>
<circle cx="453.05" cy="55.51" r="3.8" fill="none" stroke="#fae0e3" stroke-width="0.8"/>
<circle cx="460.03" cy="50.11" r="3.8" fill="none" stroke="#fae0e3" stroke-width="0.8"/>
<circle cx="467.34" cy="45.7" r="3.8" fill="none" stroke="#fae0e3" stroke-width="0.8"/>
<circle cx="475.05" cy="44.08" r="3.8" fill="none" stroke="#fae0e3" stroke-width="0.8"/>
<circle cx="482.29" cy="38.8" r="3.8" fill="none" stroke="#fae0e3" stroke-width="0.8"/>
<circle cx="489.28" cy="29.6" r="3.8" fill="none" stroke="#fae0e3" stroke-width="0.8"/>
<line x1="372.25" y1="105.2" x2="493.75" y2="31.9" stroke="#d83848" stroke-width="1.2"/>
<polyline points="372,110 373.66,109.36 375.32,108.74 376.97,108.14 378.63,107.55 380.29,106.98 381.95,106.43 383.61,105.89 385.27,105.37 386.92,104.87 388.58,104.39 390.24,103.94 391.9,103.52 393.56,103.15 395.22,102.82 396.87,102.49 398.53,102.16 400.19,101.81 401.85,101.42 403.51,100.97 405.16,100.44 406.82,99.76 408.48,98.92 410.14,97.96 411.8,96.95 413.46,95.92 415.11,94.93 416.77,93.91 418.43,92.81 420.09,91.7 421.75,90.65 423.41,89.72 425.06,88.98 426.72,88.35 428.38,87.77 430.04,87.24 431.7,86.79 433.35,86.43 435.01,86.2 436.67,86.03 438.33,85.88 439.99,85.75 441.65,85.63 443.3,85.53 444.96,85.44 446.62,85.38 448.28,85.33 449.94,85.3 451.59,85.29 453.25,85.27 454.91,85.26 456.57,85.26 458.23,85.25 459.89,85.25 461.54,85.24 463.2,85.23 464.86,85.23 466.52,85.22 468.18,85.21 469.84,85.2 471.49,85.19 473.15,85.17 474.81,85.16 476.47,85.14 478.13,85.12 479.78,85.1 481.44,85.07 483.1,85.04 484.76,85.01 486.42,84.98 488.08,84.94 489.73,84.91 491.39,84.86 493.05,84.8 494.71,84.72 496.37,84.63 498.03,84.53 499.68,84.43 501.34,84.31 503,84.2" fill="none" stroke="#101530" stroke-width="1.5" stroke-linejoin="round"/>
<circle cx="371.8" cy="109.8" r="3.15" fill="url(#ball)"/>
<circle cx="382.2" cy="105.6" r="3.15" fill="url(#ball)"/>
<circle cx="388.4" cy="102.9" r="3.15" fill="url(#ball)"/>
<circle cx="393.6" cy="101.8" r="3.15" fill="url(#ball)"/>
<circle cx="398.8" cy="101.1" r="3.15" fill="url(#ball)"/>
<circle cx="403.3" cy="100.4" r="3.15" fill="url(#ball)"/>
<circle cx="407.5" cy="99.4" r="3.15" fill="url(#ball)"/>
<circle cx="411" cy="98.4" r="3.15" fill="url(#ball)"/>
<circle cx="417.9" cy="92.5" r="3.15" fill="url(#ball)"/>
<circle cx="422" cy="89.7" r="3.15" fill="url(#ball)"/>
<circle cx="427.2" cy="87.3" r="3.15" fill="url(#ball)"/>
<circle cx="432.7" cy="85.6" r="3.15" fill="url(#ball)"/>
<circle cx="438.6" cy="84.5" r="3.15" fill="url(#ball)"/>
<circle cx="443.8" cy="84.5" r="3.15" fill="url(#ball)"/>
<circle cx="450" cy="83.1" r="3.15" fill="url(#ball)"/>
<circle cx="455.9" cy="84.9" r="3.15" fill="url(#ball)"/>
<circle cx="459.4" cy="86.3" r="3.15" fill="url(#ball)"/>
<circle cx="468.7" cy="85.6" r="3.15" fill="url(#ball)"/>
<circle cx="478.4" cy="84.5" r="3.15" fill="url(#ball)"/>
<circle cx="483.6" cy="83.1" r="3.15" fill="url(#ball)"/>
<circle cx="492.2" cy="84.5" r="3.15" fill="url(#ball)"/>
<circle cx="502.6" cy="81.4" r="3.15" fill="url(#ball)"/>
<rect x="360.25" y="22.5" width="156.75" height="92.5" fill="none" stroke="#555" stroke-width="1"/>
<line x1="360.25" y1="22.5" x2="362.25" y2="22.5" stroke="#555" stroke-width="0.7"/>
<text x="358.3" y="24.5" font-size="5.8" fill="#333" text-anchor="end" font-family="'Liberation Sans', Arial, sans-serif" stroke="#333" stroke-width="0.17">1.84</text>
<line x1="360.25" y1="31.72" x2="362.25" y2="31.72" stroke="#555" stroke-width="0.7"/>
<text x="358.3" y="33.72" font-size="5.8" fill="#333" text-anchor="end" font-family="'Liberation Sans', Arial, sans-serif" stroke="#333" stroke-width="0.17">1.82</text>
<line x1="360.25" y1="40.94" x2="362.25" y2="40.94" stroke="#555" stroke-width="0.7"/>
<text x="358.3" y="42.94" font-size="5.8" fill="#333" text-anchor="end" font-family="'Liberation Sans', Arial, sans-serif" stroke="#333" stroke-width="0.17">1.80</text>
<line x1="360.25" y1="50.16" x2="362.25" y2="50.16" stroke="#555" stroke-width="0.7"/>
<text x="358.3" y="52.16" font-size="5.8" fill="#333" text-anchor="end" font-family="'Liberation Sans', Arial, sans-serif" stroke="#333" stroke-width="0.17">1.78</text>
<line x1="360.25" y1="59.38" x2="362.25" y2="59.38" stroke="#555" stroke-width="0.7"/>
<text x="358.3" y="61.38" font-size="5.8" fill="#333" text-anchor="end" font-family="'Liberation Sans', Arial, sans-serif" stroke="#333" stroke-width="0.17">1.76</text>
<line x1="360.25" y1="68.6" x2="362.25" y2="68.6" stroke="#555" stroke-width="0.7"/>
<text x="358.3" y="70.6" font-size="5.8" fill="#333" text-anchor="end" font-family="'Liberation Sans', Arial, sans-serif" stroke="#333" stroke-width="0.17">1.74</text>
<line x1="360.25" y1="77.82" x2="362.25" y2="77.82" stroke="#555" stroke-width="0.7"/>
<text x="358.3" y="79.82" font-size="5.8" fill="#333" text-anchor="end" font-family="'Liberation Sans', Arial, sans-serif" stroke="#333" stroke-width="0.17">1.72</text>
<line x1="360.25" y1="87.04" x2="362.25" y2="87.04" stroke="#555" stroke-width="0.7"/>
<text x="358.3" y="89.04" font-size="5.8" fill="#333" text-anchor="end" font-family="'Liberation Sans', Arial, sans-serif" stroke="#333" stroke-width="0.17">1.70</text>
<line x1="360.25" y1="96.26" x2="362.25" y2="96.26" stroke="#555" stroke-width="0.7"/>
<text x="358.3" y="98.26" font-size="5.8" fill="#333" text-anchor="end" font-family="'Liberation Sans', Arial, sans-serif" stroke="#333" stroke-width="0.17">1.68</text>
<line x1="360.25" y1="105.48" x2="362.25" y2="105.48" stroke="#555" stroke-width="0.7"/>
<text x="358.3" y="107.48" font-size="5.8" fill="#333" text-anchor="end" font-family="'Liberation Sans', Arial, sans-serif" stroke="#333" stroke-width="0.17">1.66</text>
<line x1="360.25" y1="114.7" x2="362.25" y2="114.7" stroke="#555" stroke-width="0.7"/>
<text x="358.3" y="116.7" font-size="5.8" fill="#333" text-anchor="end" font-family="'Liberation Sans', Arial, sans-serif" stroke="#333" stroke-width="0.17">1.64</text>
<line x1="372.25" y1="115" x2="372.25" y2="112.8" stroke="#555" stroke-width="0.7"/>
<line x1="372.25" y1="22.5" x2="372.25" y2="24.7" stroke="#555" stroke-width="0.7"/>
<text x="372.25" y="123" font-size="7.2" fill="#333" text-anchor="middle" font-family="'Liberation Sans', Arial, sans-serif" stroke="#333" stroke-width="0.22">0</text>
<line x1="396.5" y1="115" x2="396.5" y2="112.8" stroke="#555" stroke-width="0.7"/>
<line x1="396.5" y1="22.5" x2="396.5" y2="24.7" stroke="#555" stroke-width="0.7"/>
<text x="396.5" y="123" font-size="7.2" fill="#333" text-anchor="middle" font-family="'Liberation Sans', Arial, sans-serif" stroke="#333" stroke-width="0.22">1</text>
<line x1="420.75" y1="115" x2="420.75" y2="112.8" stroke="#555" stroke-width="0.7"/>
<line x1="420.75" y1="22.5" x2="420.75" y2="24.7" stroke="#555" stroke-width="0.7"/>
<text x="420.75" y="123" font-size="7.2" fill="#333" text-anchor="middle" font-family="'Liberation Sans', Arial, sans-serif" stroke="#333" stroke-width="0.22">2</text>
<line x1="445" y1="115" x2="445" y2="112.8" stroke="#555" stroke-width="0.7"/>
<line x1="445" y1="22.5" x2="445" y2="24.7" stroke="#555" stroke-width="0.7"/>
<text x="445" y="123" font-size="7.2" fill="#333" text-anchor="middle" font-family="'Liberation Sans', Arial, sans-serif" stroke="#333" stroke-width="0.22">3</text>
<line x1="469.25" y1="115" x2="469.25" y2="112.8" stroke="#555" stroke-width="0.7"/>
<line x1="469.25" y1="22.5" x2="469.25" y2="24.7" stroke="#555" stroke-width="0.7"/>
<text x="469.25" y="123" font-size="7.2" fill="#333" text-anchor="middle" font-family="'Liberation Sans', Arial, sans-serif" stroke="#333" stroke-width="0.22">4</text>
<line x1="493.5" y1="115" x2="493.5" y2="112.8" stroke="#555" stroke-width="0.7"/>
<line x1="493.5" y1="22.5" x2="493.5" y2="24.7" stroke="#555" stroke-width="0.7"/>
<text x="493.5" y="123" font-size="7.2" fill="#333" text-anchor="middle" font-family="'Liberation Sans', Arial, sans-serif" stroke="#333" stroke-width="0.22">5</text>
<line x1="517.75" y1="115" x2="517.75" y2="112.8" stroke="#555" stroke-width="0.7"/>
<line x1="517.75" y1="22.5" x2="517.75" y2="24.7" stroke="#555" stroke-width="0.7"/>
<text x="517.75" y="123" font-size="7.2" fill="#333" text-anchor="middle" font-family="'Liberation Sans', Arial, sans-serif" stroke="#333" stroke-width="0.22">6</text>
<text x="444.1" y="132.4" font-size="8" fill="#2a2a2a" text-anchor="middle" font-family="'Liberation Sans', Arial, sans-serif" stroke="#2a2a2a" stroke-width="0.24">Pressure (GPa)</text>
<text x="341.4" y="63.5" font-size="8.2" fill="#2a2a2a" text-anchor="middle" font-family="'Liberation Sans', Arial, sans-serif" stroke="#2a2a2a" stroke-width="0.25" transform="rotate(-90 341.4 63.5)">Peak energy (eV)</text>
<text x="373.3" y="35.3" font-size="8.8" fill="#1a1a1a" text-anchor="start" font-family="'Liberation Sans', Arial, sans-serif" stroke="#1a1a1a" stroke-width="0.26">(c)</text>
<text x="449.4" y="45.8" font-size="10.5" fill="#c0304a" text-anchor="middle" font-family="'Liberation Sans', Arial, sans-serif" font-weight="bold" stroke="#c0304a" stroke-width="0.32">X</text>
<text x="484.2" y="102" font-size="10.3" fill="#2a3a8a" text-anchor="middle" font-family="'Liberation Sans', Arial, sans-serif" font-weight="bold" stroke="#2a3a8a" stroke-width="0.31">X</text>
<text x="488" y="97" font-size="5" fill="#2a3a8a" text-anchor="start" font-family="'Liberation Sans', Arial, sans-serif" stroke="#2a3a8a" stroke-width="0.15">-</text>
<polygon points="318.1,208.3 301.85,236.45 269.35,236.45 253.1,208.3 269.35,180.15 301.85,180.15" fill="none" stroke="#9a9a9a" stroke-width="1.1"/>
<polygon points="302.1,208.3 293.85,222.59 277.35,222.59 269.1,208.3 277.35,194.01 293.85,194.01" fill="none" stroke="#c8c8c8" stroke-width="0.6" stroke-dasharray="1,0.8"/>
<circle cx="302.1" cy="208.3" r="1.7" fill="#111"/>
<circle cx="277.35" cy="222.59" r="1.7" fill="#111"/>
<circle cx="269.1" cy="208.3" r="1.7" fill="#111"/>
<circle cx="277.35" cy="194.01" r="1.7" fill="#111"/>
<circle cx="293.85" cy="194.01" r="1.7" fill="#111"/>
<circle cx="285.6" cy="208.3" r="1.7" fill="#111"/>
<line x1="285.6" y1="208.3" x2="301.6" y2="181.3" stroke="#c84050" stroke-width="1.3" marker-end="url(#ahR)"/>
<line x1="285.6" y1="208.3" x2="309.8" y2="195.5" stroke="#3030d0" stroke-width="1.3" marker-end="url(#ahB)"/>
<line x1="269.5" y1="235.6" x2="292.5" y2="223.3" stroke="#2a2ad8" stroke-width="3.2"/>
<line x1="269.5" y1="235.6" x2="292.5" y2="223.3" stroke="#a0a0f8" stroke-width="1.2"/>
<circle cx="293.5" cy="222.6" r="2.2" fill="#2020c0"/>
<circle cx="269" cy="236" r="1.6" fill="#2020c0"/>
<line x1="304.5" y1="234.5" x2="317.8" y2="211.5" stroke="#d86870" stroke-width="4.8"/>
<line x1="304.5" y1="234.5" x2="317.8" y2="211.5" stroke="#f0a8b0" stroke-width="2.2"/>
<circle cx="304.3" cy="235" r="1.7" fill="#c02030"/>
<circle cx="318" cy="211" r="1.5" fill="#c02030"/>
<text x="282.6" y="220" font-size="10.5" fill="#222" text-anchor="start" font-family="'Liberation Serif', 'Times New Roman', serif" stroke="#222" stroke-width="0.32">Γ</text>
<text x="306.2" y="212.5" font-size="10" fill="#222" text-anchor="start" font-family="'Liberation Serif', 'Times New Roman', serif" stroke="#222" stroke-width="0.3">Q</text>
<text x="314" y="197" font-size="9.5" fill="#222" text-anchor="start" font-family="'Liberation Serif', 'Times New Roman', serif" stroke="#222" stroke-width="0.28">M</text>
<text x="319.5" y="211" font-size="9.5" fill="#222" text-anchor="start" font-family="'Liberation Serif', 'Times New Roman', serif" stroke="#222" stroke-width="0.28">K</text>
<text x="327" y="206" font-size="6" fill="#222" text-anchor="start" font-family="'Liberation Serif', 'Times New Roman', serif" stroke="#222" stroke-width="0.18">'</text>
<text x="259" y="237.8" font-size="9.5" fill="#222" text-anchor="start" font-family="'Liberation Serif', 'Times New Roman', serif" stroke="#222" stroke-width="0.28">K</text>
<text x="309" y="239.5" font-size="9.5" fill="#222" text-anchor="start" font-family="'Liberation Serif', 'Times New Roman', serif" stroke="#222" stroke-width="0.28">K</text>
<line x1="231" y1="254" x2="265.5" y2="238.5" stroke="#c0c0c0" stroke-width="0.7"/>
<line x1="318" y1="208.3" x2="345" y2="250" stroke="#c8c8c8" stroke-width="0.7"/>
<line x1="307" y1="236" x2="344" y2="257" stroke="#d8d8d8" stroke-width="0.6"/>
<line x1="268.5" y1="237" x2="302" y2="252.5" stroke="#c8c8c8" stroke-width="0.6"/>
<path d="M338.5,249.5 Q344,274 349.5,249.5" fill="none" stroke="#d08050" stroke-width="0.9"/>
<path d="M265,236.8 Q270.5,270 276,236.8" fill="none" stroke="#111" stroke-width="1.8"/>
<text x="272.5" y="259" font-size="7.5" fill="#222" text-anchor="start" font-family="'Liberation Serif', 'Times New Roman', serif" font-style="italic" stroke="#222" stroke-width="0.22">E</text>
<text x="277.5" y="255.5" font-size="4.5" fill="#222" text-anchor="start" font-family="'Liberation Serif', 'Times New Roman', serif" font-style="italic" stroke="#222" stroke-width="0.14">c'</text>
<text x="277.5" y="261.5" font-size="4.5" fill="#222" text-anchor="start" font-family="'Liberation Serif', 'Times New Roman', serif" font-weight="bold" stroke="#222" stroke-width="0.14">k+q</text>
<path d="M220.4,253.5 Q224.2,275 228,253.5" fill="none" stroke="#d08050" stroke-width="0.9"/>
<line x1="229.8" y1="319" x2="229.8" y2="258.5" stroke="#d8d478" stroke-width="2.2"/>
<line x1="229.4" y1="319" x2="229.4" y2="258.5" stroke="#a8c868" stroke-width="0.6"/>
<polygon points="227.8,259.5 230,254.5 232.2,259.5" fill="#8ab060" stroke="none" stroke-width="0"/>
<line x1="231" y1="254.3" x2="271.5" y2="258.8" stroke="#2a2ad8" stroke-width="1" marker-end="url(#ahB)"/>
<line x1="232" y1="259.2" x2="271.5" y2="259.2" stroke="#6060e0" stroke-width="0.9" stroke-dasharray="1.2,1"/>
<line x1="271.5" y1="259.5" x2="232" y2="265.6" stroke="#2a2ad8" stroke-width="1" marker-end="url(#ahB)"/>
<line x1="232" y1="266.5" x2="272" y2="266.5" stroke="#7070e0" stroke-width="0.9" stroke-dasharray="1.2,1"/>
<path d="M220.5,319 Q225.5,296 230.5,319" fill="none" stroke="#4a68c0" stroke-width="1.1"/>
<text x="224.5" y="250" font-size="7.5" fill="#222" text-anchor="start" font-family="'Liberation Serif', 'Times New Roman', serif" font-style="italic" stroke="#222" stroke-width="0.22">E</text>
<text x="229.5" y="246.5" font-size="4.5" fill="#222" text-anchor="start" font-family="'Liberation Serif', 'Times New Roman', serif" font-style="italic" stroke="#222" stroke-width="0.14">c</text>
<text x="229.5" y="251.5" font-size="4.5" fill="#222" text-anchor="start" font-family="'Liberation Serif', 'Times New Roman', serif" font-weight="bold" stroke="#222" stroke-width="0.14">k</text>
<text x="221.5" y="290" font-size="7.5" fill="#333" text-anchor="start" font-family="'Liberation Serif', 'Times New Roman', serif" font-style="italic" stroke="#333" stroke-width="0.22">E</text>
<text x="226.5" y="292" font-size="4.5" fill="#333" text-anchor="start" font-family="'Liberation Serif', 'Times New Roman', serif" font-style="italic" stroke="#333" stroke-width="0.14">g</text>
<text x="232" y="316.5" font-size="7" fill="#222" text-anchor="start" font-family="'Liberation Serif', 'Times New Roman', serif" font-style="italic" stroke="#222" stroke-width="0.21">E</text>
<text x="237" y="313.5" font-size="4.5" fill="#222" text-anchor="start" font-family="'Liberation Serif', 'Times New Roman', serif" font-style="italic" stroke="#222" stroke-width="0.14">v</text>
<line x1="215.5" y1="253.5" x2="215.5" y2="266" stroke="#444" stroke-width="0.8"/>
<line x1="213.5" y1="253.5" x2="217.5" y2="253.5" stroke="#444" stroke-width="0.8"/>
<line x1="213.5" y1="266" x2="217.5" y2="266" stroke="#444" stroke-width="0.8"/>
<text x="195.5" y="262" font-size="7.5" fill="#222" text-anchor="start" font-family="'Liberation Serif', 'Times New Roman', serif" font-style="italic" stroke="#222" stroke-width="0.22">ε</text>
<text x="199.5" y="263" font-size="7" fill="#222" text-anchor="start" font-family="'Liberation Serif', 'Times New Roman', serif" font-style="italic" stroke="#222" stroke-width="0.21">+ω</text>
<text x="208.5" y="259" font-size="4.5" fill="#222" text-anchor="start" font-family="'Liberation Serif', 'Times New Roman', serif" font-style="italic" stroke="#222" stroke-width="0.14">m</text>
<text x="208.5" y="265" font-size="4.5" fill="#222" text-anchor="start" font-family="'Liberation Serif', 'Times New Roman', serif" font-weight="bold" stroke="#222" stroke-width="0.14">q</text>
<text x="200" y="319" font-size="7" fill="#222" text-anchor="start" font-family="'Liberation Sans', Arial, sans-serif" stroke="#222" stroke-width="0.21">2</text>
<path d="M293.5,252.7 Q298.1,276 302.7,252.7" fill="none" stroke="#d08050" stroke-width="0.9"/>
<line x1="304.3" y1="319" x2="304.3" y2="257.5" stroke="#d8d478" stroke-width="2.2"/>
<line x1="303.9" y1="319" x2="303.9" y2="257.5" stroke="#a8c868" stroke-width="0.6"/>
<polygon points="302.1,258.5 304.3,253.5 306.5,258.5" fill="#8ab060" stroke="none" stroke-width="0"/>
<line x1="305.5" y1="252.5" x2="344" y2="257.3" stroke="#e03838" stroke-width="1" marker-end="url(#ahRr)"/>
<line x1="344" y1="257.8" x2="306" y2="263.3" stroke="#e03838" stroke-width="1" marker-end="url(#ahRr)"/>
<line x1="306" y1="264" x2="345" y2="264" stroke="#e07070" stroke-width="0.9" stroke-dasharray="1.2,1"/>
<path d="M294.5,319 Q298.5,294 302.5,319" fill="none" stroke="#4a68c0" stroke-width="1.1"/>
<text x="296.5" y="250" font-size="7.5" fill="#222" text-anchor="start" font-family="'Liberation Serif', 'Times New Roman', serif" font-style="italic" stroke="#222" stroke-width="0.22">E</text>
<text x="301.5" y="246.5" font-size="4.5" fill="#222" text-anchor="start" font-family="'Liberation Serif', 'Times New Roman', serif" font-style="italic" stroke="#222" stroke-width="0.14">c</text>
<text x="301.5" y="251.5" font-size="4.5" fill="#222" text-anchor="start" font-family="'Liberation Serif', 'Times New Roman', serif" font-weight="bold" stroke="#222" stroke-width="0.14">k</text>
<text x="296.5" y="290" font-size="7.5" fill="#333" text-anchor="start" font-family="'Liberation Serif', 'Times New Roman', serif" font-style="italic" stroke="#333" stroke-width="0.22">E</text>
<text x="301.5" y="292" font-size="4.5" fill="#333" text-anchor="start" font-family="'Liberation Serif', 'Times New Roman', serif" font-style="italic" stroke="#333" stroke-width="0.14">g</text>
<text x="306" y="316.5" font-size="7" fill="#222" text-anchor="start" font-family="'Liberation Serif', 'Times New Roman', serif" font-style="italic" stroke="#222" stroke-width="0.21">E</text>
<text x="311" y="313.5" font-size="4.5" fill="#222" text-anchor="start" font-family="'Liberation Serif', 'Times New Roman', serif" font-style="italic" stroke="#222" stroke-width="0.14">v</text>
<text x="346" y="262" font-size="8" fill="#c82828" text-anchor="start" font-family="'Liberation Serif', 'Times New Roman', serif" font-style="italic" stroke="#c82828" stroke-width="0.24">E</text>
<text x="351.5" y="257.5" font-size="5" fill="#c82828" text-anchor="start" font-family="'Liberation Serif', 'Times New Roman', serif" font-style="italic" stroke="#c82828" stroke-width="0.15">c'</text>
<text x="351.5" y="264.5" font-size="5" fill="#c82828" text-anchor="start" font-family="'Liberation Serif', 'Times New Roman', serif" font-weight="bold" stroke="#c82828" stroke-width="0.15">k+q</text>
<polyline points="464.98,301.47 465.11,301.42 465.23,301.38 465.36,301.32 465.48,301.26 465.61,301.2 465.73,301.13 465.86,301.05 465.98,300.96 466.11,300.87 466.23,300.77 466.36,300.66 466.48,300.55 466.61,300.42 466.73,300.29 466.86,300.14 466.98,299.99 467.11,299.83 467.23,299.66 467.36,299.47 467.48,299.28 467.61,299.08 467.73,298.87 467.86,298.66 467.98,298.43 468.11,298.2 468.23,297.96 468.36,297.71 468.48,297.46 468.61,297.2 468.73,296.94 468.86,296.67 468.98,296.41 469.11,296.14 469.23,295.88 469.36,295.62 469.48,295.36 469.61,295.1 469.73,294.86 469.86,294.62 469.98,294.39 470.11,294.17 470.23,293.96 470.36,293.77 470.48,293.59 470.61,293.43 470.73,293.28 470.86,293.15 470.98,293.04 471.11,292.95 471.23,292.88 471.36,292.83 471.48,292.81 471.61,292.8 471.73,292.82 471.86,292.85 471.98,292.91 472.11,292.99 472.23,293.08 472.36,293.2 472.48,293.33 472.61,293.49 472.73,293.66 472.86,293.84 472.98,294.04 473.11,294.25 473.23,294.48 473.36,294.71 473.49,294.95 473.61,295.2 473.74,295.46 473.86,295.72 473.99,295.98 474.11,296.25 474.24,296.51 474.36,296.78 474.49,297.04 474.61,297.3 474.74,297.55 474.86,297.81 474.99,298.05 475.11,298.29 475.24,298.52 475.36,298.74 475.49,298.96 475.61,299.16 475.74,299.36 475.86,299.55 475.99,299.72 476.11,299.89 476.24,300.05 476.36,300.2 476.49,300.34 476.61,300.47 476.74,300.59 476.86,300.71 476.99,300.81 477.11,300.91 477.24,301 477.36,301.08 477.49,301.16 477.61,301.22 477.74,301.29 477.86,301.34 477.99,301.4 478.11,301.44 478.24,301.48" fill="none" stroke="#8aa89a" stroke-width="0.9" stroke-linejoin="round"/>
<polyline points="468.36,301.47 468.48,301.42 468.61,301.36 468.73,301.29 468.86,301.22 468.98,301.14 469.11,301.05 469.23,300.95 469.36,300.84 469.48,300.72 469.61,300.58 469.73,300.43 469.86,300.27 469.98,300.1 470.11,299.9 470.23,299.7 470.36,299.47 470.48,299.23 470.61,298.98 470.73,298.7 470.86,298.41 470.98,298.1 471.11,297.77 471.23,297.43 471.36,297.06 471.48,296.69 471.61,296.29 471.73,295.89 471.86,295.47 471.98,295.04 472.11,294.6 472.23,294.15 472.36,293.7 472.48,293.24 472.61,292.78 472.73,292.32 472.86,291.87 472.98,291.42 473.11,290.99 473.23,290.56 473.36,290.15 473.49,289.76 473.61,289.39 473.74,289.04 473.86,288.72 473.99,288.42 474.11,288.16 474.24,287.92 474.36,287.73 474.49,287.57 474.61,287.44 474.74,287.36 474.86,287.31 474.99,287.3 475.11,287.33 475.24,287.4 475.36,287.51 475.49,287.66 475.61,287.84 475.74,288.06 475.86,288.32 475.99,288.6 476.11,288.91 476.24,289.25 476.36,289.61 476.49,290 476.61,290.4 476.74,290.82 476.86,291.25 476.99,291.7 477.11,292.15 477.24,292.61 477.36,293.06 477.49,293.52 477.61,293.98 477.74,294.43 477.86,294.87 477.99,295.3 478.11,295.73 478.24,296.14 478.36,296.54 478.49,296.92 478.61,297.29 478.74,297.64 478.86,297.97 478.99,298.29 479.11,298.59 479.24,298.87 479.36,299.14 479.49,299.38 479.61,299.61 479.74,299.83 479.86,300.02 479.99,300.21 480.11,300.37 480.24,300.53 480.36,300.67 480.49,300.79 480.61,300.91 480.74,301.01 480.86,301.11 480.99,301.19 481.11,301.27 481.24,301.33 481.36,301.39 481.49,301.45 481.61,301.5" fill="none" stroke="#8aa89a" stroke-width="0.9" stroke-linejoin="round"/>
<polyline points="474.24,301.47 474.36,301.41 474.49,301.34 474.61,301.26 474.74,301.16 474.86,301.05 474.99,300.93 475.11,300.79 475.24,300.64 475.36,300.47 475.49,300.28 475.61,300.07 475.74,299.84 475.86,299.59 475.99,299.32 476.11,299.03 476.24,298.73 476.36,298.4 476.49,298.06 476.61,297.7 476.74,297.33 476.86,296.95 476.99,296.56 477.11,296.17 477.24,295.78 477.36,295.39 477.49,295 477.61,294.63 477.74,294.27 477.86,293.93 477.99,293.61 478.11,293.32 478.24,293.06 478.36,292.83 478.49,292.64 478.61,292.49 478.74,292.38 478.86,292.32 478.99,292.3 479.11,292.32 479.24,292.39 479.36,292.5 479.49,292.66 479.61,292.85 479.74,293.08 479.86,293.34 479.99,293.64 480.11,293.96 480.24,294.3 480.36,294.66 480.49,295.04 480.61,295.42 480.74,295.81 480.86,296.21 480.99,296.6 481.11,296.99 481.24,297.37 481.36,297.74 481.49,298.09 481.61,298.43 481.74,298.76 481.86,299.06 481.99,299.35 482.12,299.61 482.24,299.86 482.37,300.09 482.49,300.29 482.62,300.48 482.74,300.65 482.87,300.81 482.99,300.94 483.12,301.06 483.24,301.17 483.37,301.26 483.49,301.35 483.62,301.42 483.74,301.48" fill="none" stroke="#8aa89a" stroke-width="0.9" stroke-linejoin="round"/>
<polygon points="417.45,301.8 417.45,301.48 417.58,301.44 417.7,301.39 417.83,301.33 417.95,301.28 418.08,301.21 418.2,301.14 418.33,301.06 418.45,300.97 418.58,300.88 418.7,300.77 418.83,300.66 418.95,300.54 419.08,300.41 419.2,300.26 419.33,300.11 419.45,299.95 419.58,299.77 419.7,299.58 419.83,299.39 419.95,299.18 420.08,298.95 420.2,298.72 420.33,298.47 420.45,298.21 420.58,297.95 420.7,297.67 420.83,297.38 420.96,297.08 421.08,296.77 421.21,296.45 421.33,296.13 421.46,295.8 421.58,295.46 421.71,295.12 421.83,294.78 421.96,294.44 422.08,294.1 422.21,293.77 422.33,293.43 422.46,293.11 422.58,292.79 422.71,292.48 422.83,292.18 422.96,291.89 423.08,291.62 423.21,291.37 423.33,291.13 423.46,290.91 423.58,290.71 423.71,290.54 423.83,290.39 423.96,290.26 424.08,290.16 424.21,290.08 424.33,290.03 424.46,290 424.58,290 424.71,290.03 424.83,290.09 424.96,290.17 425.08,290.28 425.21,290.41 425.33,290.56 425.46,290.74 425.58,290.94 425.71,291.16 425.83,291.4 425.96,291.66 426.08,291.94 426.21,292.22 426.33,292.52 426.46,292.84 426.58,293.16 426.71,293.49 426.83,293.82 426.96,294.16 427.08,294.5 427.21,294.84 427.33,295.18 427.46,295.51 427.58,295.85 427.71,296.18 427.83,296.5 427.96,296.81 428.08,297.12 428.21,297.42 428.33,297.71 428.46,297.99 428.58,298.25 428.71,298.51 428.83,298.76 428.96,298.99 429.08,299.21 429.21,299.42 429.33,299.61 429.46,299.8 429.59,299.97 429.71,300.14 429.84,300.29 429.96,300.43 430.09,300.56 430.21,300.68 430.34,300.79 430.46,300.89 430.59,300.99 430.71,301.07 430.84,301.15 430.96,301.22 431.09,301.29 431.21,301.34 431.34,301.4 431.46,301.44 431.59,301.49 431.59,301.8" fill="#e01818" stroke="none" stroke-width="0"/>
<polygon points="442.97,301.8 442.97,301.47 443.09,301.41 443.22,301.34 443.34,301.26 443.47,301.17 443.59,301.07 443.72,300.96 443.84,300.83 443.97,300.7 444.09,300.54 444.22,300.38 444.34,300.2 444.47,300.01 444.59,299.81 444.72,299.6 444.84,299.38 444.97,299.15 445.09,298.91 445.22,298.67 445.34,298.43 445.47,298.18 445.59,297.94 445.72,297.71 445.84,297.49 445.97,297.27 446.09,297.07 446.22,296.89 446.34,296.73 446.47,296.6 446.59,296.48 446.72,296.39 446.84,296.34 446.97,296.3 447.1,296.3 447.22,296.33 447.35,296.39 447.47,296.47 447.6,296.58 447.72,296.72 447.85,296.88 447.97,297.06 448.1,297.25 448.22,297.46 448.35,297.69 448.47,297.92 448.6,298.16 448.72,298.4 448.85,298.65 448.97,298.89 449.1,299.13 449.22,299.36 449.35,299.58 449.47,299.79 449.6,299.99 449.72,300.19 449.85,300.36 449.97,300.53 450.1,300.68 450.22,300.82 450.35,300.95 450.47,301.06 450.6,301.16 450.72,301.25 450.85,301.33 450.97,301.41 451.1,301.47 451.1,301.8" fill="#e01818" stroke="none" stroke-width="0"/>
<polygon points="476.74,301.8 476.74,301.48 476.86,301.42 476.99,301.34 477.11,301.25 477.24,301.15 477.36,301.03 477.49,300.89 477.61,300.74 477.74,300.57 477.86,300.38 477.99,300.16 478.11,299.93 478.24,299.67 478.36,299.39 478.49,299.09 478.61,298.77 478.74,298.42 478.86,298.06 478.99,297.68 479.11,297.28 479.24,296.87 479.36,296.46 479.49,296.04 479.61,295.62 479.74,295.2 479.86,294.8 479.99,294.41 480.11,294.03 480.24,293.69 480.36,293.37 480.49,293.09 480.61,292.84 480.74,292.64 480.86,292.48 480.99,292.37 481.11,292.31 481.24,292.3 481.36,292.34 481.49,292.43 481.61,292.57 481.74,292.76 481.86,292.99 481.99,293.25 482.12,293.56 482.24,293.89 482.37,294.26 482.49,294.64 482.62,295.04 482.74,295.45 482.87,295.87 482.99,296.29 483.12,296.71 483.24,297.12 483.37,297.52 483.49,297.91 483.62,298.28 483.74,298.63 483.87,298.96 483.99,299.27 484.12,299.56 484.24,299.83 484.37,300.07 484.49,300.3 484.62,300.5 484.74,300.68 484.87,300.84 484.99,300.98 485.12,301.1 485.24,301.21 485.37,301.3 485.49,301.39 485.62,301.46 485.62,301.8" fill="#e01818" stroke="none" stroke-width="0"/>
<polygon points="481.36,301.8 481.36,301.49 481.49,301.43 481.61,301.37 481.74,301.29 481.86,301.21 481.99,301.12 482.12,301.01 482.24,300.9 482.37,300.77 482.49,300.63 482.62,300.48 482.74,300.32 482.87,300.15 482.99,299.97 483.12,299.78 483.24,299.58 483.37,299.38 483.49,299.17 483.62,298.96 483.74,298.75 483.87,298.54 483.99,298.33 484.12,298.13 484.24,297.94 484.37,297.76 484.49,297.59 484.62,297.44 484.74,297.31 484.87,297.2 484.99,297.12 485.12,297.05 485.24,297.01 485.37,297 485.49,297.01 485.62,297.05 485.74,297.11 485.87,297.2 485.99,297.31 486.12,297.43 486.24,297.58 486.37,297.75 486.49,297.93 486.62,298.12 486.74,298.32 486.87,298.52 486.99,298.73 487.12,298.94 487.24,299.16 487.37,299.37 487.49,299.57 487.62,299.77 487.74,299.96 487.87,300.14 487.99,300.31 488.12,300.47 488.24,300.62 488.37,300.76 488.49,300.89 488.62,301 488.74,301.11 488.87,301.2 488.99,301.29 489.12,301.36 489.24,301.43 489.37,301.48 489.37,301.8" fill="#1818d8" stroke="none" stroke-width="0"/>
<polyline points="407.7,300.93 407.82,300.93 407.95,300.92 408.07,300.92 408.2,300.92 408.32,300.92 408.45,300.92 408.57,300.92 408.7,300.92 408.82,300.92 408.95,300.92 409.07,300.92 409.2,300.92 409.32,300.92 409.45,300.92 409.57,300.92 409.7,300.92 409.82,300.91 409.95,300.91 410.07,300.91 410.2,300.91 410.32,300.91 410.45,300.91 410.57,300.91 410.7,300.91 410.82,300.91 410.95,300.91 411.07,300.91 411.2,300.91 411.32,300.9 411.45,300.9 411.57,300.9 411.7,300.9 411.82,300.9 411.95,300.9 412.08,300.9 412.2,300.9 412.33,300.9 412.45,300.9 412.58,300.89 412.7,300.89 412.83,300.89 412.95,300.89 413.08,300.89 413.2,300.89 413.33,300.89 413.45,300.89 413.58,300.88 413.7,300.88 413.83,300.88 413.95,300.88 414.08,300.88 414.2,300.87 414.33,300.87 414.45,300.87 414.58,300.87 414.7,300.86 414.83,300.86 414.95,300.86 415.08,300.85 415.2,300.85 415.33,300.84 415.45,300.83 415.58,300.83 415.7,300.82 415.83,300.81 415.95,300.8 416.08,300.79 416.2,300.78 416.33,300.76 416.45,300.74 416.58,300.73 416.7,300.7 416.83,300.68 416.95,300.65 417.08,300.63 417.2,300.59 417.33,300.56 417.45,300.51 417.58,300.47 417.7,300.42 417.83,300.36 417.95,300.3 418.08,300.23 418.2,300.16 418.33,300.08 418.45,299.99 418.58,299.89 418.7,299.78 418.83,299.67 418.95,299.54 419.08,299.41 419.2,299.26 419.33,299.11 419.45,298.94 419.58,298.76 419.7,298.57 419.83,298.37 419.95,298.15 420.08,297.93 420.2,297.69 420.33,297.44 420.45,297.18 420.58,296.9 420.7,296.62 420.83,296.32 420.96,296.02 421.08,295.71 421.21,295.39 421.33,295.06 421.46,294.72 421.58,294.38 421.71,294.04 421.83,293.69 421.96,293.35 422.08,293 422.21,292.66 422.33,292.32 422.46,291.98 422.58,291.65 422.71,291.34 422.83,291.03 422.96,290.74 423.08,290.46 423.21,290.19 423.33,289.94 423.46,289.72 423.58,289.51 423.71,289.32 423.83,289.16 423.96,289.02 424.08,288.9 424.21,288.81 424.33,288.74 424.46,288.7 424.58,288.69 424.71,288.7 424.83,288.74 424.96,288.8 425.08,288.88 425.21,288.99 425.33,289.12 425.46,289.28 425.58,289.45 425.71,289.64 425.83,289.85 425.96,290.07 426.08,290.3 426.21,290.55 426.33,290.8 426.46,291.06 426.58,291.32 426.71,291.59 426.83,291.85 426.96,292.11 427.08,292.36 427.21,292.6 427.33,292.83 427.46,293.04 427.58,293.22 427.71,293.37 427.83,293.47 427.96,293.51 428.08,293.46 428.21,293.28 428.33,292.9 428.46,292.25 428.58,291.22 428.71,289.68 428.83,287.51 428.96,284.59 429.08,280.84 429.21,276.28 429.33,271 429.46,265.28 429.59,259.64 429.71,254.96 429.84,252.36 429.96,252.68 430.09,255.86 430.21,260.99 430.34,266.94 430.46,272.9 430.59,278.38 430.71,283.13 430.84,287.05 430.96,290.16 431.09,292.54 431.21,294.3 431.34,295.59 431.46,296.51 431.59,297.17 431.71,297.65 431.84,298.01 431.96,298.29 432.09,298.51 432.21,298.69 432.34,298.83 432.46,298.96 432.59,299.07 432.71,299.16 432.84,299.23 432.96,299.3 433.09,299.35 433.21,299.4 433.34,299.43 433.46,299.46 433.59,299.49 433.71,299.51 433.84,299.52 433.96,299.53 434.09,299.53 434.21,299.53 434.34,299.53 434.46,299.52 434.59,299.51 434.71,299.49 434.84,299.47 434.96,299.45 435.09,299.43 435.21,299.4 435.34,299.37 435.46,299.33 435.59,299.3 435.71,299.25 435.84,299.21 435.96,299.16 436.09,299.11 436.21,299.05 436.34,298.98 436.46,298.92 436.59,298.85 436.71,298.77 436.84,298.68 436.96,298.59 437.09,298.5 437.21,298.39 437.34,298.28 437.46,298.16 437.59,298.03 437.71,297.89 437.84,297.73 437.96,297.56 438.09,297.38 438.21,297.18 438.34,296.97 438.47,296.73 438.59,296.46 438.72,296.17 438.84,295.83 438.97,295.46 439.09,295.02 439.22,294.52 439.34,293.93 439.47,293.23 439.59,292.4 439.72,291.39 439.84,290.17 439.97,288.69 440.09,286.89 440.22,284.71 440.34,282.1 440.47,278.97 440.59,275.27 440.72,270.93 440.84,265.91 440.97,260.16 441.09,253.68 441.22,246.46 441.34,238.56 441.47,230.05 441.59,221.09 441.72,211.91 441.84,202.85 441.97,194.41 442.09,187.19 442.22,181.89 442.34,179.12 442.47,179.24 442.59,182.23 442.72,187.7 442.84,195.02 442.97,203.49 443.09,212.51 443.22,221.61 443.34,230.45 443.47,238.8 443.59,246.53 443.72,253.56 443.84,259.85 443.97,265.38 444.09,270.18 444.22,274.29 444.34,277.75 444.47,280.64 444.59,283.01 444.72,284.93 444.84,286.48 444.97,287.7 445.09,288.67 445.22,289.42 445.34,290 445.47,290.44 445.59,290.79 445.72,291.05 445.84,291.25 445.97,291.42 446.09,291.55 446.22,291.67 446.34,291.77 446.47,291.87 446.59,291.98 446.72,292.09 446.84,292.22 446.97,292.36 447.1,292.51 447.22,292.69 447.35,292.88 447.47,293.09 447.6,293.32 447.72,293.56 447.85,293.83 447.97,294.1 448.1,294.39 448.22,294.68 448.35,294.99 448.47,295.29 448.6,295.6 448.72,295.91 448.85,296.22 448.97,296.52 449.1,296.81 449.22,297.1 449.35,297.37 449.47,297.63 449.6,297.88 449.72,298.11 449.85,298.33 449.97,298.54 450.1,298.73 450.22,298.9 450.35,299.06 450.47,299.21 450.6,299.34 450.72,299.46 450.85,299.57 450.97,299.67 451.1,299.76 451.22,299.84 451.35,299.91 451.47,299.97 451.6,300.02 451.72,300.07 451.85,300.12 451.97,300.16 452.1,300.19 452.22,300.23 452.35,300.25 452.47,300.28 452.6,300.3 452.72,300.33 452.85,300.35 452.97,300.37 453.1,300.38 453.22,300.4 453.35,300.41 453.47,300.43 453.6,300.44 453.72,300.45 453.85,300.47 453.97,300.48 454.1,300.49 454.22,300.5 454.35,300.51 454.47,300.52 454.6,300.53 454.72,300.54 454.85,300.55 454.97,300.56 455.1,300.57 455.22,300.57 455.35,300.58 455.47,300.59 455.6,300.6 455.72,300.6 455.85,300.61 455.98,300.62 456.1,300.63 456.23,300.63 456.35,300.64 456.48,300.65 456.6,300.65 456.73,300.66 456.85,300.66 456.98,300.67 457.1,300.67 457.23,300.68 457.35,300.68 457.48,300.69 457.6,300.69 457.73,300.7 457.85,300.7 457.98,300.71 458.1,300.71 458.23,300.72 458.35,300.72 458.48,300.73 458.6,300.73 458.73,300.73 458.85,300.74 458.98,300.74 459.1,300.75 459.23,300.75 459.35,300.75 459.48,300.76 459.6,300.76 459.73,300.76 459.85,300.77 459.98,300.77 460.1,300.77 460.23,300.78 460.35,300.78 460.48,300.78 460.6,300.78 460.73,300.79 460.85,300.79 460.98,300.79 461.1,300.79 461.23,300.8 461.35,300.8 461.48,300.8 461.6,300.8 461.73,300.8 461.85,300.8 461.98,300.81 462.1,300.81 462.23,300.81 462.35,300.81 462.48,300.81 462.6,300.81 462.73,300.8 462.85,300.8 462.98,300.8 463.1,300.79 463.23,300.79 463.35,300.78 463.48,300.78 463.6,300.77 463.73,300.76 463.85,300.75 463.98,300.73 464.1,300.72 464.23,300.7 464.35,300.68 464.48,300.65 464.61,300.63 464.73,300.6 464.86,300.56 464.98,300.53 465.11,300.48 465.23,300.43 465.36,300.38 465.48,300.32 465.61,300.26 465.73,300.19 465.86,300.11 465.98,300.02 466.11,299.93 466.23,299.83 466.36,299.71 466.48,299.59 466.61,299.46 466.73,299.32 466.86,299.17 466.98,299.01 467.11,298.84 467.23,298.66 467.36,298.46 467.48,298.25 467.61,298.04 467.73,297.8 467.86,297.56 467.98,297.31 468.11,297.04 468.23,296.76 468.36,296.47 468.48,296.17 468.61,295.85 468.73,295.53 468.86,295.19 468.98,294.85 469.11,294.49 469.23,294.13 469.36,293.76 469.48,293.38 469.61,292.99 469.73,292.6 469.86,292.2 469.98,291.79 470.11,291.38 470.23,290.97 470.36,290.55 470.48,290.13 470.61,289.71 470.73,289.29 470.86,288.87 470.98,288.45 471.11,288.04 471.23,287.62 471.36,287.21 471.48,286.81 471.61,286.41 471.73,286.02 471.86,285.64 471.98,285.26 472.11,284.9 472.23,284.55 472.36,284.22 472.48,283.89 472.61,283.59 472.73,283.3 472.86,283.03 472.98,282.79 473.11,282.56 473.23,282.36 473.36,282.18 473.49,282.04 473.61,281.91 473.74,281.82 473.86,281.76 473.99,281.73 474.11,281.73 474.24,281.76 474.36,281.83 474.49,281.93 474.61,282.07 474.74,282.23 474.86,282.44 474.99,282.67 475.11,282.94 475.24,283.23 475.36,283.56 475.49,283.91 475.61,284.29 475.74,284.7 475.86,285.12 475.99,285.56 476.11,286.02 476.24,286.49 476.36,286.97 476.49,287.46 476.61,287.95 476.74,288.43 476.86,288.92 476.99,289.39 477.11,289.85 477.24,290.29 477.36,290.71 477.49,291.11 477.61,291.48 477.74,291.82 477.86,292.13 477.99,292.41 478.11,292.64 478.24,292.84 478.36,292.99 478.49,293.11 478.61,293.18 478.74,293.21 478.86,293.21 478.99,293.16 479.11,293.09 479.24,292.98 479.36,292.84 479.49,292.67 479.61,292.49 479.74,292.3 479.86,292.09 479.99,291.88 480.11,291.68 480.24,291.48 480.36,291.29 480.49,291.13 480.61,290.98 480.74,290.86 480.86,290.78 480.99,290.72 481.11,290.7 481.24,290.72 481.36,290.77 481.49,290.86 481.61,290.98 481.74,291.13 481.86,291.32 481.99,291.52 482.12,291.75 482.24,292 482.37,292.26 482.49,292.52 482.62,292.79 482.74,293.06 482.87,293.32 482.99,293.57 483.12,293.8 483.24,294.02 483.37,294.23 483.49,294.41 483.62,294.57 483.74,294.72 483.87,294.84 483.99,294.95 484.12,295.04 484.24,295.12 484.37,295.18 484.49,295.24 484.62,295.29 484.74,295.34 484.87,295.4 484.99,295.45 485.12,295.51 485.24,295.58 485.37,295.66 485.49,295.76 485.62,295.87 485.74,295.99 485.87,296.12 485.99,296.28 486.12,296.44 486.24,296.62 486.37,296.81 486.49,297.01 486.62,297.21 486.74,297.43 486.87,297.64 486.99,297.86 487.12,298.08 487.24,298.3 487.37,298.51 487.49,298.72 487.62,298.92 487.74,299.12 487.87,299.3 487.99,299.47 488.12,299.63 488.24,299.79 488.37,299.92 488.49,300.05 488.62,300.17 488.74,300.27 488.87,300.37 488.99,300.45 489.12,300.53 489.24,300.59 489.37,300.65 489.49,300.7 489.62,300.74 489.74,300.78 489.87,300.81 489.99,300.84 490.12,300.86 490.24,300.88 490.37,300.9 490.49,300.91 490.62,300.92 490.74,300.93 490.87,300.94 491,300.95 491.12,300.95 491.25,300.96 491.37,300.96 491.5,300.96 491.62,300.96 491.75,300.96 491.87,300.97 492,300.97 492.12,300.97 492.25,300.97 492.37,300.97 492.5,300.97 492.62,300.97 492.75,300.97 492.87,300.97 493,300.97 493.12,300.97 493.25,300.97 493.37,300.97 493.5,300.97 493.62,300.97 493.75,300.97 493.87,300.97 494,300.97 494.12,300.97 494.25,300.97 494.37,300.97 494.5,300.97 494.62,300.97 494.75,300.97 494.87,300.97 495,300.97 495.12,300.97" fill="none" stroke="#a0a0a0" stroke-width="1.7" stroke-linejoin="round"/>
<polyline points="407.7,300.93 407.82,300.93 407.95,300.92 408.07,300.92 408.2,300.92 408.32,300.92 408.45,300.92 408.57,300.92 408.7,300.92 408.82,300.92 408.95,300.92 409.07,300.92 409.2,300.92 409.32,300.92 409.45,300.92 409.57,300.92 409.7,300.92 409.82,300.91 409.95,300.91 410.07,300.91 410.2,300.91 410.32,300.91 410.45,300.91 410.57,300.91 410.7,300.91 410.82,300.91 410.95,300.91 411.07,300.91 411.2,300.91 411.32,300.9 411.45,300.9 411.57,300.9 411.7,300.9 411.82,300.9 411.95,300.9 412.08,300.9 412.2,300.9 412.33,300.9 412.45,300.9 412.58,300.89 412.7,300.89 412.83,300.89 412.95,300.89 413.08,300.89 413.2,300.89 413.33,300.89 413.45,300.89 413.58,300.88 413.7,300.88 413.83,300.88 413.95,300.88 414.08,300.88 414.2,300.87 414.33,300.87 414.45,300.87 414.58,300.87 414.7,300.86 414.83,300.86 414.95,300.86 415.08,300.85 415.2,300.85 415.33,300.84 415.45,300.83 415.58,300.83 415.7,300.82 415.83,300.81 415.95,300.8 416.08,300.79 416.2,300.78 416.33,300.76 416.45,300.74 416.58,300.73 416.7,300.7 416.83,300.68 416.95,300.65 417.08,300.63 417.2,300.59 417.33,300.56 417.45,300.51 417.58,300.47 417.7,300.42 417.83,300.36 417.95,300.3 418.08,300.23 418.2,300.16 418.33,300.08 418.45,299.99 418.58,299.89 418.7,299.78 418.83,299.67 418.95,299.54 419.08,299.41 419.2,299.26 419.33,299.11 419.45,298.94 419.58,298.76 419.7,298.57 419.83,298.37 419.95,298.15 420.08,297.93 420.2,297.69 420.33,297.44 420.45,297.18 420.58,296.9 420.7,296.62 420.83,296.32 420.96,296.02 421.08,295.71 421.21,295.39 421.33,295.06 421.46,294.72 421.58,294.38 421.71,294.04 421.83,293.69 421.96,293.35 422.08,293 422.21,292.66 422.33,292.32 422.46,291.98 422.58,291.65 422.71,291.34 422.83,291.03 422.96,290.74 423.08,290.46 423.21,290.19 423.33,289.94 423.46,289.72 423.58,289.51 423.71,289.32 423.83,289.16 423.96,289.02 424.08,288.9 424.21,288.81 424.33,288.74 424.46,288.7 424.58,288.69 424.71,288.7 424.83,288.74 424.96,288.8 425.08,288.88 425.21,288.99 425.33,289.12 425.46,289.28 425.58,289.45 425.71,289.64 425.83,289.85 425.96,290.07 426.08,290.3 426.21,290.55 426.33,290.8 426.46,291.06 426.58,291.32 426.71,291.59 426.83,291.85 426.96,292.11 427.08,292.36 427.21,292.6 427.33,292.83 427.46,293.04 427.58,293.22 427.71,293.37 427.83,293.47 427.96,293.51 428.08,293.46 428.21,293.28 428.33,292.9 428.46,292.25 428.58,291.22 428.71,289.68 428.83,287.51 428.96,284.59 429.08,280.84 429.21,276.28 429.33,271 429.46,265.28 429.59,259.64 429.71,254.96 429.84,252.36 429.96,252.68 430.09,255.86 430.21,260.99 430.34,266.94 430.46,272.9 430.59,278.38 430.71,283.13 430.84,287.05 430.96,290.16 431.09,292.54 431.21,294.3 431.34,295.59 431.46,296.51 431.59,297.17 431.71,297.65 431.84,298.01 431.96,298.29 432.09,298.51 432.21,298.69 432.34,298.83 432.46,298.96 432.59,299.07 432.71,299.16 432.84,299.23 432.96,299.3 433.09,299.35 433.21,299.4 433.34,299.43 433.46,299.46 433.59,299.49 433.71,299.51 433.84,299.52 433.96,299.53 434.09,299.53 434.21,299.53 434.34,299.53 434.46,299.52 434.59,299.51 434.71,299.49 434.84,299.47 434.96,299.45 435.09,299.43 435.21,299.4 435.34,299.37 435.46,299.33 435.59,299.3 435.71,299.25 435.84,299.21 435.96,299.16 436.09,299.11 436.21,299.05 436.34,298.98 436.46,298.92 436.59,298.85 436.71,298.77 436.84,298.68 436.96,298.59 437.09,298.5 437.21,298.39 437.34,298.28 437.46,298.16 437.59,298.03 437.71,297.89 437.84,297.73 437.96,297.56 438.09,297.38 438.21,297.18 438.34,296.97 438.47,296.73 438.59,296.46 438.72,296.17 438.84,295.83 438.97,295.46 439.09,295.02 439.22,294.52 439.34,293.93 439.47,293.23 439.59,292.4 439.72,291.39 439.84,290.17 439.97,288.69 440.09,286.89 440.22,284.71 440.34,282.1 440.47,278.97 440.59,275.27 440.72,270.93 440.84,265.91 440.97,260.16 441.09,253.68 441.22,246.46 441.34,238.56 441.47,230.05 441.59,221.09 441.72,211.91 441.84,202.85 441.97,194.41 442.09,187.19 442.22,181.89 442.34,179.12 442.47,179.24 442.59,182.23 442.72,187.7 442.84,195.02 442.97,203.49 443.09,212.51 443.22,221.61 443.34,230.45 443.47,238.8 443.59,246.53 443.72,253.56 443.84,259.85 443.97,265.38 444.09,270.18 444.22,274.29 444.34,277.75 444.47,280.64 444.59,283.01 444.72,284.93 444.84,286.48 444.97,287.7 445.09,288.67 445.22,289.42 445.34,290 445.47,290.44 445.59,290.79 445.72,291.05 445.84,291.25 445.97,291.42 446.09,291.55 446.22,291.67 446.34,291.77 446.47,291.87 446.59,291.98 446.72,292.09 446.84,292.22 446.97,292.36 447.1,292.51 447.22,292.69 447.35,292.88 447.47,293.09 447.6,293.32 447.72,293.56 447.85,293.83 447.97,294.1 448.1,294.39 448.22,294.68 448.35,294.99 448.47,295.29 448.6,295.6 448.72,295.91 448.85,296.22 448.97,296.52 449.1,296.81 449.22,297.1 449.35,297.37 449.47,297.63 449.6,297.88 449.72,298.11 449.85,298.33 449.97,298.54 450.1,298.73 450.22,298.9 450.35,299.06 450.47,299.21 450.6,299.34 450.72,299.46 450.85,299.57 450.97,299.67 451.1,299.76 451.22,299.84 451.35,299.91 451.47,299.97 451.6,300.02 451.72,300.07 451.85,300.12 451.97,300.16 452.1,300.19 452.22,300.23 452.35,300.25 452.47,300.28 452.6,300.3 452.72,300.33 452.85,300.35 452.97,300.37 453.1,300.38 453.22,300.4 453.35,300.41 453.47,300.43 453.6,300.44 453.72,300.45 453.85,300.47 453.97,300.48 454.1,300.49 454.22,300.5 454.35,300.51 454.47,300.52 454.6,300.53 454.72,300.54 454.85,300.55 454.97,300.56 455.1,300.57 455.22,300.57 455.35,300.58 455.47,300.59 455.6,300.6 455.72,300.6 455.85,300.61 455.98,300.62 456.1,300.63 456.23,300.63 456.35,300.64 456.48,300.65 456.6,300.65 456.73,300.66 456.85,300.66 456.98,300.67 457.1,300.67 457.23,300.68 457.35,300.68 457.48,300.69 457.6,300.69 457.73,300.7 457.85,300.7 457.98,300.71 458.1,300.71 458.23,300.72 458.35,300.72 458.48,300.73 458.6,300.73 458.73,300.73 458.85,300.74 458.98,300.74 459.1,300.75 459.23,300.75 459.35,300.75 459.48,300.76 459.6,300.76 459.73,300.76 459.85,300.77 459.98,300.77 460.1,300.77 460.23,300.78 460.35,300.78 460.48,300.78 460.6,300.78 460.73,300.79 460.85,300.79 460.98,300.79 461.1,300.79 461.23,300.8 461.35,300.8 461.48,300.8 461.6,300.8 461.73,300.8 461.85,300.8 461.98,300.81 462.1,300.81 462.23,300.81 462.35,300.81 462.48,300.81 462.6,300.81 462.73,300.8 462.85,300.8 462.98,300.8 463.1,300.79 463.23,300.79 463.35,300.78 463.48,300.78 463.6,300.77 463.73,300.76 463.85,300.75 463.98,300.73 464.1,300.72 464.23,300.7 464.35,300.68 464.48,300.65 464.61,300.63 464.73,300.6 464.86,300.56 464.98,300.53 465.11,300.48 465.23,300.43 465.36,300.38 465.48,300.32 465.61,300.26 465.73,300.19 465.86,300.11 465.98,300.02 466.11,299.93 466.23,299.83 466.36,299.71 466.48,299.59 466.61,299.46 466.73,299.32 466.86,299.17 466.98,299.01 467.11,298.84 467.23,298.66 467.36,298.46 467.48,298.25 467.61,298.04 467.73,297.8 467.86,297.56 467.98,297.31 468.11,297.04 468.23,296.76 468.36,296.47 468.48,296.17 468.61,295.85 468.73,295.53 468.86,295.19 468.98,294.85 469.11,294.49 469.23,294.13 469.36,293.76 469.48,293.38 469.61,292.99 469.73,292.6 469.86,292.2 469.98,291.79 470.11,291.38 470.23,290.97 470.36,290.55 470.48,290.13 470.61,289.71 470.73,289.29 470.86,288.87 470.98,288.45 471.11,288.04 471.23,287.62 471.36,287.21 471.48,286.81 471.61,286.41 471.73,286.02 471.86,285.64 471.98,285.26 472.11,284.9 472.23,284.55 472.36,284.22 472.48,283.89 472.61,283.59 472.73,283.3 472.86,283.03 472.98,282.79 473.11,282.56 473.23,282.36 473.36,282.18 473.49,282.04 473.61,281.91 473.74,281.82 473.86,281.76 473.99,281.73 474.11,281.73 474.24,281.76 474.36,281.83 474.49,281.93 474.61,282.07 474.74,282.23 474.86,282.44 474.99,282.67 475.11,282.94 475.24,283.23 475.36,283.56 475.49,283.91 475.61,284.29 475.74,284.7 475.86,285.12 475.99,285.56 476.11,286.02 476.24,286.49 476.36,286.97 476.49,287.46 476.61,287.95 476.74,288.43 476.86,288.92 476.99,289.39 477.11,289.85 477.24,290.29 477.36,290.71 477.49,291.11 477.61,291.48 477.74,291.82 477.86,292.13 477.99,292.41 478.11,292.64 478.24,292.84 478.36,292.99 478.49,293.11 478.61,293.18 478.74,293.21 478.86,293.21 478.99,293.16 479.11,293.09 479.24,292.98 479.36,292.84 479.49,292.67 479.61,292.49 479.74,292.3 479.86,292.09 479.99,291.88 480.11,291.68 480.24,291.48 480.36,291.29 480.49,291.13 480.61,290.98 480.74,290.86 480.86,290.78 480.99,290.72 481.11,290.7 481.24,290.72 481.36,290.77 481.49,290.86 481.61,290.98 481.74,291.13 481.86,291.32 481.99,291.52 482.12,291.75 482.24,292 482.37,292.26 482.49,292.52 482.62,292.79 482.74,293.06 482.87,293.32 482.99,293.57 483.12,293.8 483.24,294.02 483.37,294.23 483.49,294.41 483.62,294.57 483.74,294.72 483.87,294.84 483.99,294.95 484.12,295.04 484.24,295.12 484.37,295.18 484.49,295.24 484.62,295.29 484.74,295.34 484.87,295.4 484.99,295.45 485.12,295.51 485.24,295.58 485.37,295.66 485.49,295.76 485.62,295.87 485.74,295.99 485.87,296.12 485.99,296.28 486.12,296.44 486.24,296.62 486.37,296.81 486.49,297.01 486.62,297.21 486.74,297.43 486.87,297.64 486.99,297.86 487.12,298.08 487.24,298.3 487.37,298.51 487.49,298.72 487.62,298.92 487.74,299.12 487.87,299.3 487.99,299.47 488.12,299.63 488.24,299.79 488.37,299.92 488.49,300.05 488.62,300.17 488.74,300.27 488.87,300.37 488.99,300.45 489.12,300.53 489.24,300.59 489.37,300.65 489.49,300.7 489.62,300.74 489.74,300.78 489.87,300.81 489.99,300.84 490.12,300.86 490.24,300.88 490.37,300.9 490.49,300.91 490.62,300.92 490.74,300.93 490.87,300.94 491,300.95 491.12,300.95 491.25,300.96 491.37,300.96 491.5,300.96 491.62,300.96 491.75,300.96 491.87,300.97 492,300.97 492.12,300.97 492.25,300.97 492.37,300.97 492.5,300.97 492.62,300.97 492.75,300.97 492.87,300.97 493,300.97 493.12,300.97 493.25,300.97 493.37,300.97 493.5,300.97 493.62,300.97 493.75,300.97 493.87,300.97 494,300.97 494.12,300.97 494.25,300.97 494.37,300.97 494.5,300.97 494.62,300.97 494.75,300.97 494.87,300.97 495,300.97 495.12,300.97" fill="none" stroke="#1a1a1a" stroke-width="0.9" stroke-linejoin="round"/>
<line x1="407.5" y1="302.2" x2="495" y2="302.2" stroke="#8a78b0" stroke-width="1.3"/>
<line x1="424.4" y1="276" x2="424.4" y2="290" stroke="#777" stroke-width="0.9" stroke-dasharray="1,1.4"/>
<line x1="446.3" y1="275" x2="446.3" y2="296" stroke="#777" stroke-width="0.9" stroke-dasharray="1,1.4"/>
<line x1="469.4" y1="256" x2="469.4" y2="290" stroke="#777" stroke-width="0.9" stroke-dasharray="1,1.4"/>
<line x1="475" y1="247" x2="475" y2="283" stroke="#777" stroke-width="0.9" stroke-dasharray="1,1.4"/>
<line x1="481.2" y1="236" x2="481.2" y2="288" stroke="#777" stroke-width="0.9" stroke-dasharray="1,1.4"/>
<line x1="485.2" y1="224" x2="485.2" y2="296" stroke="#777" stroke-width="0.9" stroke-dasharray="1,1.4"/>
<rect x="407.5" y="176.3" width="87.5" height="126.7" fill="none" stroke="#6a6a6a" stroke-width="1.1"/>
<line x1="413.75" y1="303" x2="413.75" y2="300.8" stroke="#666" stroke-width="0.7"/>
<text x="413.75" y="314" font-size="6.8" fill="#222" text-anchor="middle" font-family="'Liberation Sans', Arial, sans-serif" stroke="#222" stroke-width="0.2">360</text>
<line x1="427.2" y1="303" x2="427.2" y2="300.8" stroke="#666" stroke-width="0.7"/>
<text x="427.2" y="314" font-size="6.8" fill="#222" text-anchor="middle" font-family="'Liberation Sans', Arial, sans-serif" stroke="#222" stroke-width="0.2">380</text>
<line x1="440.65" y1="303" x2="440.65" y2="300.8" stroke="#666" stroke-width="0.7"/>
<text x="440.65" y="314" font-size="6.8" fill="#222" text-anchor="middle" font-family="'Liberation Sans', Arial, sans-serif" stroke="#222" stroke-width="0.2">400</text>
<line x1="454.1" y1="303" x2="454.1" y2="300.8" stroke="#666" stroke-width="0.7"/>
<text x="454.1" y="314" font-size="6.8" fill="#222" text-anchor="middle" font-family="'Liberation Sans', Arial, sans-serif" stroke="#222" stroke-width="0.2">420</text>
<line x1="467.55" y1="303" x2="467.55" y2="300.8" stroke="#666" stroke-width="0.7"/>
<text x="467.55" y="314" font-size="6.8" fill="#222" text-anchor="middle" font-family="'Liberation Sans', Arial, sans-serif" stroke="#222" stroke-width="0.2">440</text>
<line x1="481" y1="303" x2="481" y2="300.8" stroke="#666" stroke-width="0.7"/>
<text x="481" y="314" font-size="6.8" fill="#222" text-anchor="middle" font-family="'Liberation Sans', Arial, sans-serif" stroke="#222" stroke-width="0.2">460</text>
<line x1="494.45" y1="303" x2="494.45" y2="300.8" stroke="#666" stroke-width="0.7"/>
<text x="494.45" y="314" font-size="6.8" fill="#222" text-anchor="middle" font-family="'Liberation Sans', Arial, sans-serif" stroke="#222" stroke-width="0.2">480</text>
<line x1="413.75" y1="303" x2="413.75" y2="301.8" stroke="#666" stroke-width="0.5"/>
<line x1="420.48" y1="303" x2="420.48" y2="301.8" stroke="#666" stroke-width="0.5"/>
<line x1="427.2" y1="303" x2="427.2" y2="301.8" stroke="#666" stroke-width="0.5"/>
<line x1="433.93" y1="303" x2="433.93" y2="301.8" stroke="#666" stroke-width="0.5"/>
<line x1="440.65" y1="303" x2="440.65" y2="301.8" stroke="#666" stroke-width="0.5"/>
<line x1="447.38" y1="303" x2="447.38" y2="301.8" stroke="#666" stroke-width="0.5"/>
<line x1="454.1" y1="303" x2="454.1" y2="301.8" stroke="#666" stroke-width="0.5"/>
<line x1="460.82" y1="303" x2="460.82" y2="301.8" stroke="#666" stroke-width="0.5"/>
<line x1="467.55" y1="303" x2="467.55" y2="301.8" stroke="#666" stroke-width="0.5"/>
<line x1="474.27" y1="303" x2="474.27" y2="301.8" stroke="#666" stroke-width="0.5"/>
<line x1="481" y1="303" x2="481" y2="301.8" stroke="#666" stroke-width="0.5"/>
<line x1="487.73" y1="303" x2="487.73" y2="301.8" stroke="#666" stroke-width="0.5"/>
<line x1="494.45" y1="303" x2="494.45" y2="301.8" stroke="#666" stroke-width="0.5"/>
<text x="401.2" y="243.2" font-size="9.35" fill="#333" text-anchor="middle" font-family="'Liberation Sans', Arial, sans-serif" stroke="#333" stroke-width="0.28" transform="rotate(-90 401.2 243.2)">Intensity (a.u.)</text>
<text x="412.3" y="325.6" font-size="9" fill="#222" text-anchor="start" font-family="'Liberation Sans', Arial, sans-serif" stroke="#222" stroke-width="0.27">Ramań shift (cm<tspan dx="3.5">)</tspan></text>
<text x="441" y="170.7" font-size="10.5" fill="#222" text-anchor="start" font-family="'Liberation Sans', Arial, sans-serif" stroke="#222" stroke-width="0.32">MoS</text>
<text x="462.9" y="173.8" font-size="5.5" fill="#333" text-anchor="start" font-family="'Liberation Sans', Arial, sans-serif" stroke="#333" stroke-width="0.16">2</text>
<text x="444.8" y="186.5" font-size="7" fill="#333" text-anchor="start" font-family="'Liberation Sans', Arial, sans-serif" stroke="#333" stroke-width="0.21">A</text>
<text x="449.8" y="183" font-size="4.5" fill="#333" text-anchor="start" font-family="'Liberation Sans', Arial, sans-serif" stroke="#333" stroke-width="0.14">'</text>
<text x="432.3" y="251" font-size="7" fill="#333" text-anchor="start" font-family="'Liberation Sans', Arial, sans-serif" stroke="#333" stroke-width="0.21">E</text>
<text x="437" y="247.5" font-size="4.5" fill="#333" text-anchor="start" font-family="'Liberation Sans', Arial, sans-serif" stroke="#333" stroke-width="0.14">'</text>
<text x="408.7" y="274.8" font-size="6.3" fill="#333" text-anchor="start" font-family="'Liberation Sans', Arial, sans-serif" stroke="#333" stroke-width="0.19">2TA(K)</text>
<text x="447" y="268.8" font-size="6.4" fill="#333" text-anchor="start" font-family="'Liberation Sans', Arial, sans-serif" stroke="#333" stroke-width="0.19">LA(K)+</text>
<text x="447.5" y="275" font-size="6.4" fill="#333" text-anchor="start" font-family="'Liberation Sans', Arial, sans-serif" stroke="#333" stroke-width="0.19">TA(K)</text>
<text x="456.2" y="255.8" font-size="6.5" fill="#333" text-anchor="start" font-family="'Liberation Sans', Arial, sans-serif" stroke="#333" stroke-width="0.2">A</text>
<text x="460.8" y="257.5" font-size="4.5" fill="#333" text-anchor="start" font-family="'Liberation Sans', Arial, sans-serif" stroke="#333" stroke-width="0.14">'</text>
<text x="462" y="255.8" font-size="6.5" fill="#333" text-anchor="start" font-family="'Liberation Sans', Arial, sans-serif" stroke="#333" stroke-width="0.2">+E</text>
<text x="471.5" y="252.5" font-size="4.5" fill="#333" text-anchor="start" font-family="'Liberation Sans', Arial, sans-serif" stroke="#333" stroke-width="0.14">''</text>
<text x="464.9" y="245.3" font-size="6.3" fill="#333" text-anchor="start" font-family="'Liberation Sans', Arial, sans-serif" stroke="#333" stroke-width="0.19">2vHs</text>
<text x="463" y="234.3" font-size="6.7" fill="#333" text-anchor="start" font-family="'Liberation Sans', Arial, sans-serif" stroke="#333" stroke-width="0.2">2LA(K)</text>
<text x="469.5" y="223.3" font-size="6.5" fill="#333" text-anchor="start" font-family="'Liberation Sans', Arial, sans-serif" stroke="#333" stroke-width="0.2">2LA(M)</text>
<line x1="25.8" y1="385.5" x2="180.2" y2="385.5" stroke="#e6e6e6" stroke-width="0.9"/>
<line x1="25.8" y1="412" x2="180.2" y2="412" stroke="#e6e6e6" stroke-width="0.9"/>
<line x1="25.8" y1="438.2" x2="180.2" y2="438.2" stroke="#e6e6e6" stroke-width="0.9"/>
<line x1="25.8" y1="465.5" x2="180.2" y2="465.5" stroke="#e6e6e6" stroke-width="0.9"/>
<rect x="25.8" y="336.3" width="154.4" height="155.1" fill="none" stroke="#d4d4d4" stroke-width="0.9"/>
<clipPath id="clipG"><rect x="25.8" y="335.3" width="151.7" height="156.1"/></clipPath>
<g clip-path="url(#clipG)"><polyline points="31,485.66 31.35,485.46 31.7,485.52 32.05,485.44 32.4,485.24 32.75,485.38 33.1,485.59 33.45,485.72 33.8,485.35 34.15,485.29 34.5,485.71 34.85,485.28 35.2,485.8 35.55,485.43 35.9,485.26 36.25,485.59 36.6,485.71 36.95,485.14 37.3,485.67 37.65,485.33 38,485.64 38.35,485.3 38.7,485.08 39.05,485.44 39.4,485.51 39.75,485.72 40.1,485.64 40.45,485.45 40.8,485.27 41.15,485.22 41.5,485.25 41.85,485.15 42.2,485.24 42.55,484.82 42.9,485.31 43.25,485.26 43.6,485.72 43.95,485.39 44.3,485.16 44.65,485.34 45,485.01 45.35,485.12 45.7,484.88 46.05,485.47 46.4,485.31 46.75,484.99 47.1,485.18 47.45,485.35 47.8,485.27 48.15,485.24 48.5,485.01 48.85,485.04 49.2,485.17 49.55,485.31 49.9,484.98 50.25,484.92 50.6,485.33 50.95,484.95 51.3,485.3 51.65,485.14 52,485.25 52.35,485.4 52.7,485.2 53.05,485.21 53.4,484.9 53.75,484.93 54.1,485.16 54.45,485.32 54.8,485.28 55.15,485.44 55.5,485.07 55.85,485.04 56.2,485.18 56.55,484.99 56.9,484.96 57.25,484.77 57.6,485.13 57.95,484.74 58.3,485.01 58.65,484.64 59,485.07 59.35,484.66 59.7,484.97 60.05,484.5 60.4,484.67 60.75,484.92 61.1,484.52 61.45,484.62 61.8,484.47 62.15,484.07 62.5,484.47 62.85,484.42 63.2,484.06 63.55,484.27 63.9,483.92 64.25,483.78 64.6,483.86 64.95,483.62 65.3,484.04 65.65,483.23 66,483.53 66.35,483.46 66.7,482.81 67.05,482.75 67.4,483.06 67.75,482.77 68.1,482.84 68.45,482.91 68.8,482.57 69.15,482.4 69.5,482.06 69.85,482.57 70.2,482.36 70.55,482.59 70.9,482.6 71.25,482.35 71.6,482.96 71.95,482.9 72.3,482.93 72.65,482.65 73,482.88 73.35,482.95 73.7,483.07 74.05,483.05 74.4,483.43 74.75,483.49 75.1,483.62 75.45,483.56 75.8,483.97 76.15,483.86 76.5,483.42 76.85,483.87 77.2,484.05 77.55,484.29 77.9,484.12 78.25,484.18 78.6,484.15 78.95,484.42 79.3,484.26 79.65,484.25 80,484.25 80.35,484.5 80.7,484.32 81.05,484.12 81.4,484.54 81.75,484.31 82.1,484.5 82.45,484.51 82.8,484.66 83.15,484.62 83.5,484.33 83.85,484.4 84.2,484.18 84.55,484.71 84.9,484.47 85.25,484.63 85.6,484.3 85.95,483.97 86.3,484.58 86.65,484.29 87,484.25 87.35,484.19 87.7,484.24 88.05,484.15 88.4,483.69 88.75,484.09 89.1,483.71 89.45,483.63 89.8,483.94 90.15,483.71 90.5,483.4 90.85,483.06 91.2,483.36 91.55,483.39 91.9,483.26 92.25,483.05 92.6,483.14 92.95,483.09 93.3,483.4 93.65,483.57 94,483.68 94.35,483.43 94.7,483.68 95.05,483.82 95.4,483.69 95.75,483.82 96.1,484.29 96.45,483.99 96.8,484.16 97.15,483.95 97.5,484.06 97.85,483.76 98.2,484.08 98.55,484.3 98.9,484.47 99.25,484.31 99.6,484.21 99.95,484.1 100.3,483.97 100.65,484.05 101,484.18 101.35,483.92 101.7,484.22 102.05,483.87 102.4,483.72 102.75,483.85 103.1,483.72 103.45,483.76 103.8,484.21 104.15,483.96 104.5,484.03 104.85,484.19 105.2,484.19 105.55,483.87 105.9,484.19 106.25,484.01 106.6,483.93 106.95,484 107.3,483.65 107.65,483.76 108,483.87 108.35,483.99 108.7,483.8 109.05,483.84 109.4,484.02 109.75,484.09 110.1,483.96 110.45,484.04 110.8,483.73 111.15,483.73 111.5,483.83 111.85,483.7 112.2,483.65 112.55,484.02 112.9,483.67 113.25,483.52 113.6,483.76 113.95,483.98 114.3,483.64 114.65,483.82 115,483.5 115.35,483.45 115.7,483.38 116.05,483.44 116.4,483.74 116.75,483.14 117.1,483.57 117.45,483 117.8,483.01 118.15,483.03 118.5,482.74 118.85,482.3 119.2,481.31 119.55,480.5 119.9,477.88 120.25,473.87 120.6,469.29 120.95,473.34 121.3,477.66 121.65,480.04 122,480.95 122.35,481.87 122.7,481.88 123.05,482.1 123.4,481.82 123.75,481.69 124.1,481.73 124.45,480.87 124.8,480.01 125.15,479.28 125.5,477.15 125.85,474.04 126.2,468.5 126.55,459.17 126.9,453.45 127.25,459.13 127.6,468.47 127.95,474.15 128.3,476.99 128.65,478.81 129,479.74 129.35,480.55 129.7,481.09 130.05,480.84 130.4,481.37 130.75,481 131.1,481.06 131.45,480.83 131.8,481.43 132.15,480.95 132.5,480.86 132.85,480.57 133.2,480.75 133.55,480.05 133.9,480.32 134.25,480.6 134.6,480.04 134.95,480.04 135.3,480.09 135.65,479.78 136,479.9 136.35,480.05 136.7,479.9 137.05,479.93 137.4,479.81 137.75,479.93 138.1,479.89 138.45,480.15 138.8,480.01 139.15,479.82 139.5,479.4 139.85,479.93 140.2,479.9 140.55,479.54 140.9,479.28 141.25,479.36 141.6,479.65 141.95,479.21 142.3,479.24 142.65,479.28 143,479.39 143.35,479.09 143.7,479.02 144.05,478.89 144.4,479.24 144.75,479.11 145.1,478.9 145.45,478.67 145.8,478.8 146.15,479.08 146.5,478.9 146.85,479.26 147.2,479.24 147.55,479.32 147.9,479.49 148.25,479.58 148.6,479.45 148.95,479.67 149.3,480.28 149.65,479.77 150,480.03 150.35,480.49 150.7,480.45 151.05,480.5 151.4,480.57 151.75,481.06 152.1,481.28 152.45,481.47 152.8,481.34 153.15,481.6 153.5,481.29 153.85,481.55 154.2,481.41 154.55,481.54 154.9,481.59 155.25,481.54 155.6,481.01 155.95,481.18 156.3,480.54 156.65,479.99 157,479.54 157.35,478.47 157.7,477.57 158.05,475.96 158.4,473.45 158.75,469.9 159.1,463.94 159.45,454.44 159.8,438.24 160.15,414.68 160.5,393.89 160.85,392.83 161.2,394.03 161.55,396.04 161.9,398.38 162.25,401.62 162.6,405.5 162.95,409.59 163.3,413.69 163.65,417.96 164,422.17 164.35,426.05 164.7,429.82 165.05,433.3 165.4,436.77 165.75,440.09 166.1,443.22 166.45,446 166.8,448.54 167.15,450.89 167.5,453.22 167.85,455.16 168.2,457.03 168.55,458.74 168.9,460.16 169.25,461.52 169.6,463.13 169.95,464.35 170.3,465.37 170.65,466.39 171,467.85 171.35,468.2 171.7,469.14 172.05,470 172.4,470.47 172.75,471.37 173.1,472.3 173.45,472.73 173.8,473.23 174.15,473.73 174.5,474.12 174.85,474.72 175.2,474.94 175.55,475.29 175.9,475.76 176.25,476.25 176.6,476.48 176.95,476.85 177.3,476.65" fill="none" stroke="#3838b0" stroke-width="1.15" stroke-linejoin="round"/><polyline points="31,457.22 31.35,457.42 31.7,457.24 32.05,456.94 32.4,456.84 32.75,457.04 33.1,456.81 33.45,457.12 33.8,456.89 34.15,457.16 34.5,457.23 34.85,456.62 35.2,457.03 35.55,456.85 35.9,456.72 36.25,456.86 36.6,456.93 36.95,457.16 37.3,456.69 37.65,457.16 38,457.33 38.35,457.07 38.7,457.06 39.05,456.96 39.4,456.75 39.75,457.05 40.1,457.02 40.45,457.08 40.8,457.41 41.15,457.08 41.5,457.02 41.85,457.23 42.2,456.7 42.55,456.74 42.9,456.87 43.25,456.82 43.6,457.06 43.95,456.88 44.3,457.25 44.65,457.2 45,457.07 45.35,456.86 45.7,457.04 46.05,457.07 46.4,456.73 46.75,456.98 47.1,457.05 47.45,456.96 47.8,457.2 48.15,457.13 48.5,456.76 48.85,456.93 49.2,456.76 49.55,457.01 49.9,456.75 50.25,457.07 50.6,456.97 50.95,457.07 51.3,456.87 51.65,456.63 52,457.21 52.35,456.86 52.7,457.14 53.05,456.97 53.4,457.01 53.75,457.21 54.1,456.94 54.45,457.13 54.8,456.61 55.15,457.03 55.5,456.83 55.85,456.85 56.2,456.87 56.55,456.93 56.9,457.17 57.25,456.53 57.6,456.87 57.95,456.73 58.3,457.07 58.65,456.78 59,456.94 59.35,456.78 59.7,456.97 60.05,457.03 60.4,456.78 60.75,456.86 61.1,456.59 61.45,456.9 61.8,457 62.15,456.74 62.5,457.04 62.85,456.46 63.2,456.5 63.55,456.58 63.9,456.74 64.25,456.83 64.6,456.81 64.95,456.81 65.3,456.96 65.65,456.74 66,456.59 66.35,456.6 66.7,457.2 67.05,456.39 67.4,456.78 67.75,457.07 68.1,456.9 68.45,456.66 68.8,456.81 69.15,456.96 69.5,457.02 69.85,456.64 70.2,456.94 70.55,456.84 70.9,456.99 71.25,457.04 71.6,456.73 71.95,456.53 72.3,456.86 72.65,457.11 73,456.91 73.35,456.82 73.7,457.21 74.05,456.59 74.4,456.94 74.75,456.67 75.1,456.78 75.45,456.79 75.8,457.04 76.15,456.6 76.5,456.67 76.85,456.48 77.2,456.85 77.55,456.68 77.9,456.83 78.25,456.56 78.6,456.69 78.95,456.94 79.3,456.72 79.65,456.86 80,456.84 80.35,456.68 80.7,456.46 81.05,456.92 81.4,456.77 81.75,456.91 82.1,456.37 82.45,456.44 82.8,456.35 83.15,456.57 83.5,456.92 83.85,456.83 84.2,456.72 84.55,456.75 84.9,456.86 85.25,456.66 85.6,456.79 85.95,456.74 86.3,456.32 86.65,456.64 87,456.95 87.35,456.64 87.7,456.68 88.05,456.59 88.4,456.61 88.75,456.9 89.1,456.65 89.45,456.51 89.8,456.13 90.15,456.59 90.5,456.34 90.85,456.36 91.2,456.83 91.55,456.81 91.9,456.34 92.25,456.83 92.6,456.76 92.95,456.53 93.3,456.81 93.65,456.38 94,456.45 94.35,456.41 94.7,456.46 95.05,456.82 95.4,456.42 95.75,456.45 96.1,456.48 96.45,456.69 96.8,456.59 97.15,456.81 97.5,456.52 97.85,456.41 98.2,456.55 98.55,456.65 98.9,456.47 99.25,456.69 99.6,456.96 99.95,456.53 100.3,456.64 100.65,456.87 101,456.51 101.35,456.47 101.7,456.42 102.05,456.69 102.4,456.71 102.75,456.58 103.1,456.62 103.45,456.83 103.8,456.76 104.15,456.35 104.5,456.6 104.85,456.61 105.2,456.72 105.55,456.55 105.9,456.47 106.25,456.5 106.6,456.26 106.95,456.57 107.3,456.47 107.65,456.66 108,456.38 108.35,456.49 108.7,456.39 109.05,456.37 109.4,456.68 109.75,456.47 110.1,456.63 110.45,456.34 110.8,456.56 111.15,456.23 111.5,456.45 111.85,456.44 112.2,456.63 112.55,456.55 112.9,456.48 113.25,456.66 113.6,456.54 113.95,456.6 114.3,456.63 114.65,456.48 115,456.43 115.35,456.53 115.7,456.39 116.05,456.53 116.4,456.65 116.75,456.59 117.1,456.36 117.45,456.18 117.8,456.39 118.15,456.36 118.5,456.57 118.85,456.28 119.2,456.28 119.55,456.42 119.9,456.16 120.25,456.16 120.6,456.42 120.95,456.28 121.3,455.96 121.65,455.61 122,454.87 122.35,454.04 122.7,451.28 123.05,447.42 123.4,449.92 123.75,453.29 124.1,454.61 124.45,455.27 124.8,455.71 125.15,455.62 125.5,455.27 125.85,455.33 126.2,455.1 126.55,455.05 126.9,455.01 127.25,454.54 127.6,453.67 127.95,452.72 128.3,450.62 128.65,447.1 129,441.58 129.35,437.05 129.7,440.24 130.05,445.52 130.4,449.86 130.75,452 131.1,452.9 131.45,453.58 131.8,453.84 132.15,454.15 132.5,454.36 132.85,454.27 133.2,454.42 133.55,454.39 133.9,454.16 134.25,454.07 134.6,453.89 134.95,453.86 135.3,453.5 135.65,453.67 136,453.54 136.35,453.26 136.7,453.72 137.05,453.09 137.4,453.05 137.75,453.2 138.1,452.76 138.45,452.93 138.8,452.77 139.15,452.84 139.5,452.97 139.85,453.04 140.2,453.17 140.55,453.11 140.9,453.18 141.25,453.07 141.6,452.89 141.95,453.18 142.3,452.91 142.65,452.91 143,453.33 143.35,453.23 143.7,453.17 144.05,453.32 144.4,453.41 144.75,453.08 145.1,453.38 145.45,453.27 145.8,453.6 146.15,453.55 146.5,454.02 146.85,453.98 147.2,453.85 147.55,454.1 147.9,454 148.25,454.34 148.6,454.54 148.95,454.59 149.3,454.3 149.65,454.68 150,454.93 150.35,455.11 150.7,455.47 151.05,455.23 151.4,455.74 151.75,455.71 152.1,456.04 152.45,456.24 152.8,456.44 153.15,456.35 153.5,456.61 153.85,456.48 154.2,456.54 154.55,456.98 154.9,456.94 155.25,456.7 155.6,456.87 155.95,457.03 156.3,457.27 156.65,457.11 157,456.95 157.35,456.31 157.7,456.36 158.05,456.1 158.4,455.58 158.75,454.88 159.1,453.75 159.45,452.66 159.8,450.46 160.15,446.88 160.5,441.49 160.85,433.37 161.2,418.43 161.55,397.06 161.9,378.43 162.25,376.87 162.6,378.07 162.95,379.69 163.3,382.23 163.65,385.13 164,388.76 164.35,392.12 164.7,395.78 165.05,399.8 165.4,403.33 165.75,406.99 166.1,410.99 166.45,413.79 166.8,417.01 167.15,420.06 167.5,422.61 167.85,424.96 168.2,427.89 168.55,429.73 168.9,431.78 169.25,433.65 169.6,435.24 169.95,436.79 170.3,438.45 170.65,440.18 171,441.11 171.35,442.24 171.7,442.88 172.05,444.11 172.4,444.8 172.75,445.98 173.1,446.57 173.45,447.33 173.8,447.97 174.15,448.5 174.5,448.91 174.85,449.83 175.2,449.98 175.55,450.49 175.9,451.09 176.25,451.43 176.6,451.99 176.95,452.49 177.3,452.7" fill="none" stroke="#4a3e9e" stroke-width="1.15" stroke-linejoin="round"/><polyline points="31,429 31.35,428.96 31.7,429.11 32.05,428.62 32.4,429.02 32.75,428.78 33.1,428.72 33.45,428.93 33.8,428.85 34.15,429.02 34.5,429.09 34.85,428.46 35.2,428.83 35.55,429.16 35.9,428.9 36.25,428.9 36.6,428.47 36.95,427.83 37.3,426.98 37.65,424.61 38,420.16 38.35,424.35 38.7,427.14 39.05,428.13 39.4,428.14 39.75,428.58 40.1,429.03 40.45,429.2 40.8,428.83 41.15,429.2 41.5,428.8 41.85,428.76 42.2,428.52 42.55,429.1 42.9,428.87 43.25,429.37 43.6,429.01 43.95,428.99 44.3,428.63 44.65,429.23 45,428.9 45.35,428.93 45.7,428.57 46.05,429.13 46.4,429.15 46.75,428.86 47.1,428.99 47.45,429.04 47.8,429.15 48.15,428.99 48.5,429.28 48.85,428.93 49.2,428.87 49.55,428.89 49.9,428.52 50.25,428.83 50.6,429.16 50.95,429.02 51.3,428.83 51.65,429.04 52,428.61 52.35,428.93 52.7,429.07 53.05,429.1 53.4,428.84 53.75,429.14 54.1,429.32 54.45,428.9 54.8,429.11 55.15,428.7 55.5,428.63 55.85,429.09 56.2,428.99 56.55,429.02 56.9,428.88 57.25,428.93 57.6,429.13 57.95,429.29 58.3,428.94 58.65,428.68 59,429.21 59.35,429.09 59.7,429.1 60.05,429.01 60.4,429.4 60.75,428.99 61.1,429.07 61.45,428.65 61.8,428.88 62.15,428.86 62.5,428.98 62.85,429.04 63.2,428.85 63.55,429.29 63.9,428.79 64.25,428.9 64.6,429.02 64.95,428.76 65.3,429.08 65.65,429.09 66,428.93 66.35,429.32 66.7,428.99 67.05,429.03 67.4,428.81 67.75,428.68 68.1,428.87 68.45,428.92 68.8,428.9 69.15,429.12 69.5,428.55 69.85,428.78 70.2,428.65 70.55,429.22 70.9,428.88 71.25,428.89 71.6,428.78 71.95,429.14 72.3,428.9 72.65,429.02 73,428.61 73.35,429.19 73.7,429.05 74.05,429.08 74.4,429.2 74.75,428.94 75.1,428.95 75.45,429.11 75.8,429.06 76.15,428.93 76.5,428.99 76.85,428.89 77.2,429.11 77.55,429.15 77.9,428.98 78.25,429.32 78.6,428.7 78.95,428.94 79.3,429.29 79.65,428.9 80,428.69 80.35,429.23 80.7,429.08 81.05,428.76 81.4,429.12 81.75,428.79 82.1,428.73 82.45,428.95 82.8,428.89 83.15,428.78 83.5,428.91 83.85,428.79 84.2,428.99 84.55,428.97 84.9,429.11 85.25,428.89 85.6,428.73 85.95,428.74 86.3,428.93 86.65,429.25 87,429.13 87.35,428.86 87.7,429.14 88.05,428.76 88.4,429.16 88.75,428.9 89.1,429.11 89.45,429.08 89.8,428.92 90.15,429.03 90.5,428.78 90.85,428.96 91.2,429.17 91.55,429.71 91.9,429.1 92.25,428.99 92.6,428.79 92.95,429.16 93.3,428.67 93.65,428.82 94,429.03 94.35,428.75 94.7,429.25 95.05,429.16 95.4,428.86 95.75,428.87 96.1,428.73 96.45,428.71 96.8,429.05 97.15,429.08 97.5,429.03 97.85,429.01 98.2,428.86 98.55,429.03 98.9,428.7 99.25,428.96 99.6,429.23 99.95,429.2 100.3,428.88 100.65,428.9 101,429.21 101.35,429.28 101.7,428.69 102.05,428.88 102.4,429 102.75,429.18 103.1,428.8 103.45,429.07 103.8,428.9 104.15,429.38 104.5,429.03 104.85,428.93 105.2,428.89 105.55,429.14 105.9,429.07 106.25,428.75 106.6,428.98 106.95,428.7 107.3,428.81 107.65,428.71 108,428.7 108.35,428.81 108.7,428.76 109.05,429.03 109.4,429.08 109.75,428.89 110.1,428.73 110.45,429.07 110.8,428.56 111.15,428.57 111.5,429.05 111.85,429.04 112.2,429.09 112.55,428.87 112.9,428.68 113.25,428.81 113.6,429 113.95,428.76 114.3,428.77 114.65,428.64 115,428.67 115.35,429.03 115.7,428.95 116.05,428.65 116.4,428.66 116.75,428.74 117.1,428.93 117.45,428.61 117.8,428.78 118.15,428.4 118.5,428.55 118.85,428.83 119.2,428.89 119.55,428.48 119.9,428.51 120.25,428.74 120.6,428.45 120.95,428.32 121.3,428.36 121.65,428.07 122,427.85 122.35,427.06 122.7,425.26 123.05,421.98 123.4,418.68 123.75,421.7 124.1,425.07 124.45,426.9 124.8,427.1 125.15,427.88 125.5,427.89 125.85,427.85 126.2,427.93 126.55,427.82 126.9,427.77 127.25,427.21 127.6,426.84 127.95,426.22 128.3,425.66 128.65,423.94 129,420.98 129.35,416.62 129.7,410.41 130.05,407.69 130.4,412.23 130.75,418.4 131.1,421.42 131.45,424.09 131.8,425.22 132.15,425.76 132.5,426.3 132.85,426.51 133.2,426.77 133.55,427.03 133.9,426.61 134.25,427.12 134.6,426.79 134.95,427.09 135.3,426.85 135.65,426.94 136,426.76 136.35,426.79 136.7,426.54 137.05,426.32 137.4,426.53 137.75,426.48 138.1,426.67 138.45,425.87 138.8,426.14 139.15,426.32 139.5,425.85 139.85,425.98 140.2,426.35 140.55,426.18 140.9,425.72 141.25,426.09 141.6,426.01 141.95,425.9 142.3,425.81 142.65,425.76 143,425.55 143.35,425.61 143.7,425.84 144.05,425.76 144.4,426.09 144.75,425.74 145.1,425.41 145.45,425.85 145.8,426.03 146.15,426.12 146.5,426.16 146.85,426.09 147.2,426.61 147.55,426.33 147.9,426.69 148.25,426.62 148.6,426.57 148.95,427.15 149.3,426.56 149.65,426.97 150,427.31 150.35,427.4 150.7,427.83 151.05,427.89 151.4,428.04 151.75,428.72 152.1,428.49 152.45,428.69 152.8,428.71 153.15,428.94 153.5,429.35 153.85,429.48 154.2,429.52 154.55,429.52 154.9,429.88 155.25,429.55 155.6,429.88 155.95,429.97 156.3,429.91 156.65,430.12 157,429.98 157.35,429.93 157.7,430.34 158.05,430.04 158.4,429.95 158.75,429.49 159.1,429.3 159.45,428.77 159.8,428.15 160.15,427.35 160.5,425.43 160.85,423.36 161.2,419.97 161.55,414.01 161.9,405.51 162.25,390.91 162.6,369.6 162.95,353.69 163.3,353.98 163.65,355.05 164,356.49 164.35,359.18 164.7,362.09 165.05,365.08 165.4,368.29 165.75,372.33 166.1,375.67 166.45,379.22 166.8,382.8 167.15,386.02 167.5,389.48 167.85,392.41 168.2,395.28 168.55,397.75 168.9,399.91 169.25,402.24 169.6,404.48 169.95,406.13 170.3,408.47 170.65,409.5 171,410.91 171.35,412.58 171.7,413.76 172.05,414.78 172.4,415.81 172.75,416.91 173.1,417.9 173.45,418.73 173.8,419.32 174.15,420.18 174.5,420.93 174.85,421.54 175.2,421.43 175.55,422.37 175.9,422.9 176.25,423.48 176.6,424 176.95,424.55 177.3,424.89" fill="none" stroke="#6a2c6a" stroke-width="1.15" stroke-linejoin="round"/><polyline points="31,403.97 31.35,404 31.7,404.31 32.05,403.89 32.4,404.05 32.75,404.28 33.1,404.06 33.45,403.63 33.8,404.06 34.15,403.93 34.5,403.98 34.85,404.18 35.2,404.08 35.55,403.95 35.9,404.16 36.25,404.07 36.6,404.01 36.95,404.05 37.3,404.04 37.65,403.93 38,403.91 38.35,404 38.7,403.82 39.05,403.77 39.4,404.23 39.75,403.95 40.1,403.99 40.45,403.97 40.8,404 41.15,404 41.5,404.01 41.85,403.85 42.2,404.16 42.55,403.87 42.9,404.18 43.25,403.65 43.6,403.8 43.95,404.17 44.3,403.97 44.65,403.87 45,404.06 45.35,403.81 45.7,404.01 46.05,403.6 46.4,403.91 46.75,403.88 47.1,404.09 47.45,404.15 47.8,403.84 48.15,404.28 48.5,403.89 48.85,403.62 49.2,403.57 49.55,404.27 49.9,403.98 50.25,403.88 50.6,403.86 50.95,403.8 51.3,404.24 51.65,403.98 52,404.32 52.35,403.96 52.7,403.57 53.05,404.15 53.4,403.93 53.75,403.95 54.1,404.28 54.45,403.95 54.8,404.2 55.15,403.99 55.5,403.86 55.85,404.08 56.2,403.89 56.55,404.21 56.9,404.17 57.25,404 57.6,404.1 57.95,404.09 58.3,403.94 58.65,404.15 59,403.95 59.35,404.1 59.7,403.82 60.05,404.01 60.4,404.07 60.75,403.85 61.1,403.92 61.45,403.9 61.8,404.12 62.15,403.86 62.5,404.07 62.85,404.27 63.2,404.06 63.55,403.7 63.9,404.01 64.25,404.17 64.6,403.93 64.95,404.18 65.3,404.09 65.65,404.05 66,403.92 66.35,403.87 66.7,403.91 67.05,403.95 67.4,404.02 67.75,403.99 68.1,403.84 68.45,403.88 68.8,403.91 69.15,403.52 69.5,403.64 69.85,403.6 70.2,403.66 70.55,403.6 70.9,403.56 71.25,403.4 71.6,403.63 71.95,403.51 72.3,403.11 72.65,403.37 73,403.12 73.35,403.59 73.7,403.17 74.05,403.15 74.4,403.22 74.75,403.16 75.1,403.18 75.45,403.48 75.8,403.25 76.15,403.39 76.5,403.47 76.85,403.13 77.2,403.65 77.55,403.51 77.9,403.61 78.25,403.33 78.6,403.68 78.95,403.66 79.3,403.54 79.65,404.09 80,403.82 80.35,403.72 80.7,403.83 81.05,403.99 81.4,404.06 81.75,403.98 82.1,404.12 82.45,404.18 82.8,403.71 83.15,403.86 83.5,403.79 83.85,403.98 84.2,404.23 84.55,404.09 84.9,403.79 85.25,403.93 85.6,404.17 85.95,403.89 86.3,403.97 86.65,404.04 87,403.66 87.35,404.13 87.7,404.05 88.05,404.09 88.4,403.81 88.75,403.85 89.1,403.88 89.45,404.03 89.8,404 90.15,404.01 90.5,404.31 90.85,404.22 91.2,403.86 91.55,403.87 91.9,404.29 92.25,403.93 92.6,404.23 92.95,404.27 93.3,403.89 93.65,403.93 94,404 94.35,403.83 94.7,403.81 95.05,403.91 95.4,404.13 95.75,403.9 96.1,403.94 96.45,403.9 96.8,403.73 97.15,404.25 97.5,403.56 97.85,403.86 98.2,404.08 98.55,403.73 98.9,404.09 99.25,404.2 99.6,403.82 99.95,404.01 100.3,403.77 100.65,404.06 101,403.99 101.35,404.01 101.7,404.22 102.05,404.06 102.4,404.21 102.75,404.08 103.1,403.75 103.45,404.01 103.8,404.05 104.15,403.71 104.5,404.2 104.85,403.98 105.2,404.03 105.55,403.8 105.9,403.97 106.25,404.01 106.6,403.9 106.95,403.97 107.3,403.57 107.65,404.2 108,403.75 108.35,403.56 108.7,403.78 109.05,403.8 109.4,404.04 109.75,403.78 110.1,403.99 110.45,403.77 110.8,404.34 111.15,404.03 111.5,404.29 111.85,403.75 112.2,404.05 112.55,403.75 112.9,404.02 113.25,404.04 113.6,403.63 113.95,403.7 114.3,403.69 114.65,403.63 115,403.76 115.35,403.71 115.7,403.62 116.05,403.89 116.4,403.96 116.75,403.62 117.1,403.74 117.45,403.83 117.8,403.77 118.15,403.67 118.5,403.92 118.85,403.91 119.2,403.85 119.55,403.65 119.9,404.01 120.25,403.91 120.6,403.45 120.95,403.41 121.3,403.52 121.65,402.98 122,402.93 122.35,402.44 122.7,401.62 123.05,400.57 123.4,398.71 123.75,397.7 124.1,398.13 124.45,400.52 124.8,401.63 125.15,402.33 125.5,402.59 125.85,402.96 126.2,403.15 126.55,403.16 126.9,403.15 127.25,402.78 127.6,402.93 127.95,402.61 128.3,402.28 128.65,401.97 129,401.79 129.35,401.22 129.7,399.74 130.05,398.66 130.4,396.07 130.75,392.32 131.1,389.62 131.45,390.46 131.8,393.89 132.15,396.63 132.5,398.5 132.85,399.99 133.2,400.3 133.55,401.16 133.9,401.62 134.25,401.62 134.6,401.79 134.95,401.77 135.3,401.81 135.65,401.68 136,401.47 136.35,401.53 136.7,401.5 137.05,401.68 137.4,401.69 137.75,401.42 138.1,401.15 138.45,401.11 138.8,401.15 139.15,401.39 139.5,401.15 139.85,401.03 140.2,400.85 140.55,401.1 140.9,400.94 141.25,400.82 141.6,400.79 141.95,401.02 142.3,400.63 142.65,400.91 143,400.77 143.35,400.5 143.7,400.6 144.05,400.37 144.4,400.21 144.75,400.27 145.1,400.14 145.45,400.38 145.8,400.28 146.15,400.39 146.5,400.46 146.85,399.78 147.2,400.44 147.55,400.11 147.9,400.53 148.25,400.42 148.6,400.68 148.95,401 149.3,400.55 149.65,401 150,401.06 150.35,400.93 150.7,401.58 151.05,401.67 151.4,401.77 151.75,401.93 152.1,402.83 152.45,402.37 152.8,402.31 153.15,402.65 153.5,402.93 153.85,403.1 154.2,403.31 154.55,403.3 154.9,403.73 155.25,403.69 155.6,403.66 155.95,403.88 156.3,404.07 156.65,404.39 157,404.41 157.35,404.34 157.7,404.47 158.05,404.55 158.4,404.91 158.75,404.45 159.1,404.64 159.45,404.67 159.8,404.31 160.15,404.43 160.5,404.29 160.85,404 161.2,403.93 161.55,403.67 161.9,403.22 162.25,402.29 162.6,401.39 162.95,400.43 163.3,397.85 163.65,395.16 164,390.69 164.35,383.02 164.7,370.59 165.05,351.82 165.4,335.72 165.75,334.89 166.1,335.47 166.45,337.03 166.8,339.04 167.15,341.49 167.5,344.42 167.85,347.31 168.2,350.88 168.55,354.32 168.9,357.56 169.25,360.64 169.6,363.26 169.95,366.59 170.3,368.89 170.65,371.55 171,374.24 171.35,375.9 171.7,378.27 172.05,380.03 172.4,381.67 172.75,383.13 173.1,384.82 173.45,386 173.8,387.51 174.15,388.68 174.5,389.26 174.85,390.39 175.2,391.32 175.55,391.99 175.9,392.77 176.25,393.7 176.6,394.31 176.95,394.67 177.3,395.44" fill="none" stroke="#8e2a50" stroke-width="1.15" stroke-linejoin="round"/><polyline points="31,378.09 31.35,377.78 31.7,377.83 32.05,378.28 32.4,378.23 32.75,377.7 33.1,377.75 33.45,378.06 33.8,377.78 34.15,377.95 34.5,377.91 34.85,378.09 35.2,377.54 35.55,377.6 35.9,377.77 36.25,378.18 36.6,377.97 36.95,377.69 37.3,378.08 37.65,378.12 38,377.95 38.35,377.93 38.7,378.07 39.05,378.21 39.4,378.02 39.75,378.09 40.1,377.98 40.45,377.92 40.8,377.83 41.15,378.04 41.5,377.94 41.85,377.95 42.2,378.16 42.55,378.08 42.9,378.15 43.25,377.71 43.6,378.09 43.95,377.89 44.3,377.85 44.65,377.84 45,378.21 45.35,378.14 45.7,377.86 46.05,377.79 46.4,377.99 46.75,377.91 47.1,378.29 47.45,377.73 47.8,377.66 48.15,377.94 48.5,377.99 48.85,378.01 49.2,378.12 49.55,378.36 49.9,377.92 50.25,377.88 50.6,377.66 50.95,378.01 51.3,378.12 51.65,377.91 52,378.16 52.35,377.94 52.7,378.19 53.05,377.96 53.4,377.69 53.75,377.75 54.1,377.56 54.45,377.49 54.8,377.82 55.15,377.89 55.5,378.05 55.85,377.65 56.2,377.57 56.55,377.37 56.9,377.71 57.25,377.55 57.6,377.34 57.95,377.53 58.3,377.47 58.65,377.01 59,377.45 59.35,377.33 59.7,377.22 60.05,377.21 60.4,377.61 60.75,377.58 61.1,377.65 61.45,377.14 61.8,377.26 62.15,377.58 62.5,377.24 62.85,377.37 63.2,377.21 63.55,377.92 63.9,377.82 64.25,377.75 64.6,377.75 64.95,377.67 65.3,377.71 65.65,377.92 66,377.71 66.35,378.07 66.7,377.78 67.05,377.72 67.4,378.11 67.75,377.83 68.1,377.93 68.45,377.7 68.8,377.3 69.15,377.7 69.5,377.22 69.85,377.48 70.2,376.8 70.55,376.5 70.9,376.62 71.25,376.35 71.6,375.99 71.95,375.47 72.3,375.59 72.65,374.95 73,374.98 73.35,374.85 73.7,374.93 74.05,375.23 74.4,375.13 74.75,375.56 75.1,375.85 75.45,375.71 75.8,376.1 76.15,376.54 76.5,376.77 76.85,377.17 77.2,376.98 77.55,377.62 77.9,377.76 78.25,377.7 78.6,377.56 78.95,377.87 79.3,377.81 79.65,378.04 80,377.94 80.35,378.09 80.7,377.89 81.05,378.23 81.4,377.56 81.75,377.79 82.1,378.06 82.45,377.7 82.8,378.11 83.15,377.76 83.5,377.99 83.85,377.81 84.2,377.9 84.55,378.01 84.9,377.96 85.25,377.91 85.6,378.36 85.95,377.97 86.3,377.8 86.65,378.14 87,378.12 87.35,378.19 87.7,378.29 88.05,377.8 88.4,378.16 88.75,378.17 89.1,377.97 89.45,378.01 89.8,377.43 90.15,377.86 90.5,378.29 90.85,377.64 91.2,377.87 91.55,378.02 91.9,378.07 92.25,378.26 92.6,377.65 92.95,377.97 93.3,378.12 93.65,377.72 94,377.95 94.35,378.3 94.7,378.2 95.05,378.06 95.4,377.49 95.75,377.93 96.1,378.03 96.45,377.9 96.8,377.94 97.15,378.51 97.5,377.91 97.85,377.78 98.2,377.99 98.55,377.89 98.9,377.89 99.25,377.93 99.6,378.08 99.95,377.99 100.3,377.73 100.65,377.92 101,378.03 101.35,377.85 101.7,378.14 102.05,378.08 102.4,377.76 102.75,377.99 103.1,378.29 103.45,378.21 103.8,377.92 104.15,378.09 104.5,377.8 104.85,377.66 105.2,378.02 105.55,377.96 105.9,378.01 106.25,377.91 106.6,377.97 106.95,377.81 107.3,377.99 107.65,378.05 108,377.88 108.35,378.04 108.7,377.57 109.05,377.74 109.4,378.14 109.75,378.19 110.1,377.92 110.45,377.85 110.8,377.63 111.15,377.92 111.5,377.99 111.85,377.57 112.2,377.93 112.55,377.91 112.9,377.9 113.25,377.61 113.6,377.9 113.95,377.52 114.3,378.05 114.65,377.79 115,377.54 115.35,377.98 115.7,377.93 116.05,377.59 116.4,378.08 116.75,377.48 117.1,377.69 117.45,377.82 117.8,377.16 118.15,377.71 118.5,377.48 118.85,377.44 119.2,377.19 119.55,377.37 119.9,377.03 120.25,376.95 120.6,376.92 120.95,376.62 121.3,376.92 121.65,376.14 122,375.91 122.35,375.53 122.7,374.97 123.05,374.27 123.4,373.16 123.75,371.59 124.1,370.24 124.45,369.61 124.8,370.11 125.15,371.24 125.5,372.35 125.85,373.2 126.2,374.8 126.55,375.17 126.9,375.45 127.25,375.72 127.6,375.72 127.95,375.71 128.3,375.82 128.65,375.77 129,375.55 129.35,375.17 129.7,375.04 130.05,374.73 130.4,373.89 130.75,373.09 131.1,371.47 131.45,370.08 131.8,367.78 132.15,364.75 132.5,361.89 132.85,360.84 133.2,361.45 133.55,364.21 133.9,366.95 134.25,369.6 134.6,371.29 134.95,372.42 135.3,373.61 135.65,374.22 136,374.83 136.35,374.9 136.7,375.06 137.05,375.32 137.4,375.33 137.75,375.14 138.1,375.01 138.45,374.68 138.8,374.47 139.15,374.19 139.5,373.79 139.85,373.4 140.2,373.09 140.55,373.17 140.9,372.43 141.25,372.08 141.6,371.77 141.95,371.54 142.3,371.31 142.65,370.78 143,370.34 143.35,370.44 143.7,369.77 144.05,369.75 144.4,369.35 144.75,369.13 145.1,368.79 145.45,368.11 145.8,367.47 146.15,366.89 146.5,366.48 146.85,366.17 147.2,365.34 147.55,365.31 147.9,364.92 148.25,364.7 148.6,364.24 148.95,364.09 149.3,363.77 149.65,363.72 150,363.45 150.35,363.76 150.7,364.05 151.05,363.9 151.4,364.11 151.75,364.09 152.1,364.81 152.45,364.75 152.8,365.42 153.15,365.72 153.5,365.98 153.85,366.82 154.2,367.14 154.55,367.69 154.9,368.26 155.25,368.69 155.6,369.14 155.95,369.8 156.3,370.13 156.65,370.68 157,370.98 157.35,371.25 157.7,371.78 158.05,372.16 158.4,372.57 158.75,373.06 159.1,372.79 159.45,373.33 159.8,373.08 160.15,373.44 160.5,373.64 160.85,373.41 161.2,373.52 161.55,373.89 161.9,373.86 162.25,373.81 162.6,373.67 162.95,374.13 163.3,373.6 163.65,373.3 164,373.52 164.35,372.99 164.7,372.35 165.05,371.98 165.4,370.89 165.75,369.66 166.1,367.61 166.45,364.29 166.8,359.6 167.15,351.04 167.5,337.87 167.85,334.3 168.2,334.3 168.55,334.3 168.9,334.3 169.25,334.3 169.6,334.3 169.95,334.3 170.3,334.3 170.65,335.04 171,337.39 171.35,339.87 171.7,341.94 172.05,344.22 172.4,346.46 172.75,348.09 173.1,350.3 173.45,352.02 173.8,353.45 174.15,355.12 174.5,356.3 174.85,357.24 175.2,358.77 175.55,359.68 175.9,360.68 176.25,361.54 176.6,362.59 176.95,363.21 177.3,363.7" fill="none" stroke="#b83444" stroke-width="1.15" stroke-linejoin="round"/></g>
<line x1="61.2" y1="365" x2="61.2" y2="371.5" stroke="#e8204a" stroke-width="1"/>
<polygon points="58.8,370.5 63.6,370.5 61.2,374.5" fill="#e8204a" stroke="none" stroke-width="0"/>
<line x1="73.5" y1="362" x2="73.5" y2="368" stroke="#e8204a" stroke-width="1"/>
<polygon points="71.1,367 75.9,367 73.5,371" fill="#e8204a" stroke="none" stroke-width="0"/>
<line x1="120.4" y1="359" x2="120.4" y2="365" stroke="#e8204a" stroke-width="1"/>
<polygon points="118,364 122.8,364 120.4,368" fill="#e8204a" stroke="none" stroke-width="0"/>
<line x1="150" y1="351" x2="150" y2="357.5" stroke="#e8204a" stroke-width="1"/>
<polygon points="147.6,356.5 152.4,356.5 150,360.5" fill="#e8204a" stroke="none" stroke-width="0"/>
<line x1="120.2" y1="389" x2="120.2" y2="394.8" stroke="#e8204a" stroke-width="1"/>
<polygon points="117.8,393.8 122.6,393.8 120.2,397.8" fill="#e8204a" stroke="none" stroke-width="0"/>
<line x1="150" y1="388.5" x2="150" y2="394.3" stroke="#e8204a" stroke-width="1"/>
<polygon points="147.6,393.3 152.4,393.3 150,397.3" fill="#e8204a" stroke="none" stroke-width="0"/>
<line x1="32" y1="491.4" x2="32" y2="489.4" stroke="#bbb" stroke-width="0.6"/>
<text x="32" y="501.2" font-size="8" fill="#2a2a2a" text-anchor="middle" font-family="'Liberation Sans', Arial, sans-serif" stroke="#2a2a2a" stroke-width="0.24">100</text>
<line x1="63.5" y1="491.4" x2="63.5" y2="489.4" stroke="#bbb" stroke-width="0.6"/>
<text x="63.5" y="501.2" font-size="8" fill="#2a2a2a" text-anchor="middle" font-family="'Liberation Sans', Arial, sans-serif" stroke="#2a2a2a" stroke-width="0.24">200</text>
<line x1="95" y1="491.4" x2="95" y2="489.4" stroke="#bbb" stroke-width="0.6"/>
<text x="95" y="501.2" font-size="8" fill="#2a2a2a" text-anchor="middle" font-family="'Liberation Sans', Arial, sans-serif" stroke="#2a2a2a" stroke-width="0.24">300</text>
<line x1="126.5" y1="491.4" x2="126.5" y2="489.4" stroke="#bbb" stroke-width="0.6"/>
<text x="126.5" y="501.2" font-size="8" fill="#2a2a2a" text-anchor="middle" font-family="'Liberation Sans', Arial, sans-serif" stroke="#2a2a2a" stroke-width="0.24">400</text>
<line x1="158" y1="491.4" x2="158" y2="489.4" stroke="#bbb" stroke-width="0.6"/>
<text x="158" y="501.2" font-size="8" fill="#2a2a2a" text-anchor="middle" font-family="'Liberation Sans', Arial, sans-serif" stroke="#2a2a2a" stroke-width="0.24">500</text>
<text x="61.5" y="515" font-size="10.2" fill="#222" text-anchor="start" font-family="'Liberation Sans', Arial, sans-serif" stroke="#222" stroke-width="0.31">Raman shift (cm</text>
<text x="137.1" y="510.5" font-size="6" fill="#222" font-family="'Liberation Sans', Arial, sans-serif">-1</text>
<text x="141.3" y="515" font-size="10.2" fill="#222" text-anchor="start" font-family="'Liberation Sans', Arial, sans-serif" stroke="#222" stroke-width="0.31">)</text>
<text x="20.3" y="414.6" font-size="10" fill="#333" text-anchor="middle" font-family="'Liberation Sans', Arial, sans-serif" stroke="#333" stroke-width="0.3" transform="rotate(-90 20.3 414.6)">Intensity (a.u.)</text>
<text x="90" y="333.2" font-size="10.2" fill="#333" text-anchor="start" font-family="'Liberation Sans', Arial, sans-serif" stroke="#333" stroke-width="0.31">MoS</text>
<text x="111.3" y="335.5" font-size="6" fill="#333" text-anchor="start" font-family="'Liberation Sans', Arial, sans-serif" stroke="#333" stroke-width="0.18">2</text>
<text x="183.8" y="359.3" font-size="8.7" fill="#b03448" text-anchor="start" font-family="'Liberation Sans', Arial, sans-serif" stroke="#b03448" stroke-width="0.26">P= 4.5 GPa</text>
<text x="183.8" y="390.2" font-size="8.7" fill="#8c2a50" text-anchor="start" font-family="'Liberation Sans', Arial, sans-serif" stroke="#8c2a50" stroke-width="0.26">P= 3.2 GPa</text>
<text x="183.8" y="417.8" font-size="8.7" fill="#6a2a6a" text-anchor="start" font-family="'Liberation Sans', Arial, sans-serif" stroke="#6a2a6a" stroke-width="0.26">P= 2.2 GPa</text>
<text x="183.8" y="453.2" font-size="8.7" fill="#403c98" text-anchor="start" font-family="'Liberation Sans', Arial, sans-serif" stroke="#403c98" stroke-width="0.26">P= 1.8 GPa</text>
<text x="183.8" y="483" font-size="8.7" fill="#3a3aa8" text-anchor="start" font-family="'Liberation Sans', Arial, sans-serif" stroke="#3a3aa8" stroke-width="0.26">P= 0.0 GPa</text>
<text x="70" y="480.5" font-size="9" fill="#333" text-anchor="middle" font-family="'Liberation Sans', Arial, sans-serif" stroke="#333" stroke-width="0.27">LA</text>
<text x="113" y="476" font-size="9" fill="#333" text-anchor="start" font-family="'Liberation Sans', Arial, sans-serif" stroke="#333" stroke-width="0.27">E</text>
<text x="119.3" y="471.5" font-size="5" fill="#333" text-anchor="start" font-family="'Liberation Sans', Arial, sans-serif" stroke="#333" stroke-width="0.15">'</text>
<text x="129.5" y="472.5" font-size="9" fill="#333" text-anchor="start" font-family="'Liberation Sans', Arial, sans-serif" stroke="#333" stroke-width="0.27">A</text>
<text x="135.3" y="468" font-size="5" fill="#333" text-anchor="start" font-family="'Liberation Sans', Arial, sans-serif" stroke="#333" stroke-width="0.15">'</text>
<text x="135.2" y="474.5" font-size="4" fill="#333" text-anchor="start" font-family="'Liberation Sans', Arial, sans-serif" stroke="#333" stroke-width="0.12">1</text>
<text x="145.6" y="481" font-size="9" fill="#333" text-anchor="middle" font-family="'Liberation Sans', Arial, sans-serif" stroke="#333" stroke-width="0.27">2LA</text>
<clipPath id="clipH0"><rect x="291" y="359.4" width="59.3" height="142.3"/></clipPath>
<g clip-path="url(#clipH0)"><line x1="310.75" y1="359.4" x2="310.75" y2="501.7" stroke="#b8a8a8" stroke-width="0.8" stroke-dasharray="1,1.6"/><line x1="329.25" y1="359.4" x2="329.25" y2="501.7" stroke="#b8a8a8" stroke-width="0.8" stroke-dasharray="1,1.6"/><polyline points="291,384.07 291.67,383.62 292.33,383.18 293,382.72 293.67,382.25 294.33,381.76 295,381.26 295.66,380.72 296.33,380.16 297,379.57 297.66,378.93 298.33,378.26 299,377.53 299.66,376.76 300.33,375.93 300.99,375.06 301.66,374.15 302.33,373.23 302.99,372.29 303.66,371.36 304.33,370.46 304.99,369.59 305.66,368.77 306.32,368.01 306.99,367.33 307.66,366.74 308.32,366.25 308.99,365.88 309.66,365.64 310.32,365.55 310.99,365.61 311.66,365.83 312.32,366.2 312.99,366.7 313.65,367.31 314.32,368.02 314.99,368.8 315.65,369.65 316.32,370.54 316.99,371.46 317.65,372.4 318.32,373.33 318.98,374.26 319.65,375.17 320.32,376.07 320.98,376.95 321.65,377.81 322.32,378.64 322.98,379.44 323.65,380.21 324.31,380.95 324.98,381.64 325.65,382.29 326.31,382.89 326.98,383.45 327.65,383.95 328.31,384.4 328.98,384.8 329.64,385.16 330.31,385.46 330.98,385.73 331.64,385.94 332.31,386.12 332.98,386.25 333.64,386.35 334.31,386.4 334.98,386.42 335.64,386.4 336.31,386.34 336.97,386.25 337.64,386.13 338.31,385.97 338.97,385.78 339.64,385.56 340.31,385.31 340.97,385.03 341.64,384.71 342.3,384.37 342.97,384 343.64,383.6 344.3,383.16 344.97,382.71 345.64,382.22 346.3,381.71 346.97,381.19 347.63,380.64 348.3,380.09 348.97,379.52 349.63,378.95 350.3,378.38" fill="none" stroke="#5a5a5a" stroke-width="1.15" stroke-linejoin="round"/><polyline points="291,383.59 291.67,383.27 292.33,382.94 293,382.6 293.67,382.26 294.33,381.9 295,381.52 295.66,381.12 296.33,380.7 297,380.26 297.66,379.78 298.33,379.26 299,378.71 299.66,378.12 300.33,377.48 300.99,376.81 301.66,376.11 302.33,375.39 302.99,374.66 303.66,373.94 304.33,373.23 304.99,372.55 305.66,371.91 306.32,371.32 306.99,370.78 307.66,370.31 308.32,369.93 308.99,369.63 309.66,369.43 310.32,369.35 310.99,369.39 311.66,369.56 312.32,369.84 312.99,370.22 313.65,370.69 314.32,371.24 314.99,371.86 315.65,372.54 316.32,373.26 316.99,374.01 317.65,374.78 318.32,375.56 318.98,376.35 319.65,377.13 320.32,377.92 320.98,378.69 321.65,379.45 322.32,380.2 322.98,380.92 323.65,381.62 324.31,382.3 324.98,382.93 325.65,383.53 326.31,384.09 326.98,384.61 327.65,385.08 328.31,385.5 328.98,385.88 329.64,386.21 330.31,386.5 330.98,386.74 331.64,386.95 332.31,387.11 332.98,387.24 333.64,387.33 334.31,387.37 334.98,387.38 335.64,387.36 336.31,387.3 336.97,387.2 337.64,387.07 338.31,386.91 338.97,386.72 339.64,386.49 340.31,386.24 340.97,385.95 341.64,385.64 342.3,385.29 342.97,384.93 343.64,384.53 344.3,384.11 344.97,383.67 345.64,383.2 346.3,382.72 346.97,382.22 347.63,381.7 348.3,381.18 348.97,380.64 349.63,380.1 350.3,379.56" fill="none" stroke="#6a6a6a" stroke-width="1.15" stroke-linejoin="round"/><polyline points="299.3,359.4 299.88,360.96 300.45,362.51 301.02,364.04 301.59,365.52 302.17,366.96 302.74,368.32 303.31,369.61 303.89,370.81 304.46,371.91 305.03,372.89 305.61,373.74 306.18,374.45 306.75,375.03 307.32,375.48 307.9,375.82 308.47,376.04 309.04,376.17 309.62,376.2 310.19,376.14 310.76,376 311.34,375.79 311.91,375.53 312.48,375.22 313.05,374.9 313.63,374.57 314.2,374.26 314.77,373.98 315.35,373.74 315.92,373.57 316.49,373.48 317.07,373.49 317.64,373.62 318.21,373.87 318.78,374.25 319.36,374.74 319.93,375.33 320.5,376.01 321.08,376.77 321.65,377.59 322.22,378.46 322.8,379.38 323.37,380.33 323.94,381.3 324.51,382.28 325.09,383.25 325.66,384.21 326.23,385.13 326.81,386.02 327.38,386.85 327.95,387.62 328.53,388.32 329.1,388.93 329.67,389.43 330.24,389.83 330.82,390.1 331.39,390.27 331.96,390.33 332.54,390.3 333.11,390.19 333.68,390 334.26,389.74 334.83,389.43 335.4,389.06 335.97,388.66 336.55,388.22 337.12,387.77 337.69,387.3 338.27,386.82 338.84,386.35 339.41,385.89 339.99,385.43 340.56,384.98 341.13,384.53 341.7,384.09 342.28,383.65 342.85,383.22 343.42,382.8 344,382.37 344.57,381.96 345.14,381.54 345.72,381.13 346.29,380.72 346.86,380.31 347.43,379.91 348.01,379.5 348.58,379.1 349.15,378.7 349.73,378.3 350.3,377.9" fill="none" stroke="#303030" stroke-width="1.2" stroke-linejoin="round"/><polyline points="336.66,359.4 336.81,359.69 336.97,359.98 337.12,360.26 337.27,360.55 337.43,360.83 337.58,361.11 337.73,361.39 337.89,361.67 338.04,361.95 338.19,362.23 338.35,362.5 338.5,362.77 338.65,363.04 338.81,363.31 338.96,363.58 339.11,363.84 339.27,364.1 339.42,364.36 339.57,364.62 339.73,364.88 339.88,365.13 340.03,365.39 340.19,365.64 340.34,365.88 340.49,366.13 340.65,366.38 340.8,366.62 340.95,366.86 341.11,367.09 341.26,367.33 341.41,367.56 341.56,367.79 341.72,368.02 341.87,368.25 342.02,368.47 342.18,368.69 342.33,368.91 342.48,369.12 342.64,369.34 342.79,369.55 342.94,369.75 343.1,369.96 343.25,370.16 343.4,370.36 343.56,370.56 343.71,370.76 343.86,370.96 344.02,371.16 344.17,371.35 344.32,371.55 344.48,371.74 344.63,371.93 344.78,372.12 344.94,372.31 345.09,372.5 345.24,372.69 345.4,372.87 345.55,373.05 345.7,373.24 345.86,373.42 346.01,373.6 346.16,373.77 346.32,373.95 346.47,374.12 346.62,374.3 346.78,374.47 346.93,374.64 347.08,374.81 347.24,374.97 347.39,375.14 347.54,375.3 347.69,375.46 347.85,375.62 348,375.78 348.15,375.93 348.31,376.09 348.46,376.24 348.61,376.39 348.77,376.54 348.92,376.68 349.07,376.83 349.23,376.97 349.38,377.11 349.53,377.25 349.69,377.38 349.84,377.51 349.99,377.65 350.15,377.77 350.3,377.9" fill="none" stroke="#303030" stroke-width="1.2" stroke-linejoin="round"/><polyline points="291,396.52 291.67,396.54 292.33,396.57 293,396.62 293.67,396.71 294.33,396.85 295,397.06 295.66,397.33 296.33,397.68 297,398.1 297.66,398.57 298.33,399.1 299,399.68 299.66,400.3 300.33,400.96 300.99,401.64 301.66,402.35 302.33,403.08 302.99,403.81 303.66,404.55 304.33,405.28 304.99,406 305.66,406.7 306.32,407.37 306.99,408.01 307.66,408.6 308.32,409.12 308.99,409.53 309.66,409.81 310.32,409.93 310.99,409.85 311.66,409.6 312.32,409.17 312.99,408.58 313.65,407.84 314.32,406.96 314.99,405.94 315.65,404.82 316.32,403.64 316.99,402.43 317.65,401.25 318.32,400.13 318.98,399.12 319.65,398.27 320.32,397.62 320.98,397.2 321.65,397.07 322.32,397.2 322.98,397.55 323.65,398.07 324.31,398.69 324.98,399.37 325.65,400.05 326.31,400.71 326.98,401.31 327.65,401.85 328.31,402.29 328.98,402.61 329.64,402.79 330.31,402.8 330.98,402.65 331.64,402.34 332.31,401.89 332.98,401.3 333.64,400.58 334.31,399.76 334.98,398.82 335.64,397.8 336.31,396.69 336.97,395.52 337.64,394.31 338.31,393.07 338.97,391.82 339.64,390.58 340.31,389.38 340.97,388.22 341.64,387.13 342.3,386.13 342.97,385.23 343.64,384.44 344.3,383.74 344.97,383.14 345.64,382.61 346.3,382.15 346.97,381.75 347.63,381.39 348.3,381.08 348.97,380.79 349.63,380.53 350.3,380.27" fill="none" stroke="#3030e0" stroke-width="1.2" stroke-linejoin="round"/><polyline points="291,395.1 291.67,395.12 292.33,395.15 293,395.2 293.67,395.29 294.33,395.43 295,395.63 295.66,395.91 296.33,396.26 297,396.67 297.66,397.15 298.33,397.68 299,398.26 299.66,398.88 300.33,399.53 300.99,400.22 301.66,400.93 302.33,401.65 302.99,402.39 303.66,403.13 304.33,403.86 304.99,404.58 305.66,405.28 306.32,405.95 306.99,406.58 307.66,407.17 308.32,407.69 308.99,408.11 309.66,408.39 310.32,408.5 310.99,408.43 311.66,408.18 312.32,407.75 312.99,407.16 313.65,406.42 314.32,405.54 314.99,404.52 315.65,403.4 316.32,402.22 316.99,401.01 317.65,399.83 318.32,398.71 318.98,397.7 319.65,396.85 320.32,396.19 320.98,395.78 321.65,395.64 322.32,395.78 322.98,396.13 323.65,396.64 324.31,397.27 324.98,397.94 325.65,398.63 326.31,399.28 326.98,399.89 327.65,400.43 328.31,400.87 328.98,401.19 329.64,401.36 330.31,401.38 330.98,401.22 331.64,400.92 332.31,400.46 332.98,399.87 333.64,399.16 334.31,398.33 334.98,397.4 335.64,396.38 336.31,395.27 336.97,394.1 337.64,392.88 338.31,391.64 338.97,390.4 339.64,389.16 340.31,387.96 340.97,386.8 341.64,385.71 342.3,384.71 342.97,383.81 343.64,383.02 344.3,382.32 344.97,381.71 345.64,381.19 346.3,380.72 346.97,380.32 347.63,379.97 348.3,379.66 348.97,379.37 349.63,379.11 350.3,378.85" fill="none" stroke="#e03060" stroke-width="1" stroke-linejoin="round"/><polyline points="291,395.81 291.67,395.83 292.33,395.86 293,395.91 293.67,396 294.33,396.14 295,396.35 295.66,396.62 296.33,396.97 297,397.39 297.66,397.86 298.33,398.39 299,398.97 299.66,399.59 300.33,400.25 300.99,400.93 301.66,401.64 302.33,402.37 302.99,403.1 303.66,403.84 304.33,404.57 304.99,405.29 305.66,405.99 306.32,406.66 306.99,407.3 307.66,407.89 308.32,408.4 308.99,408.82 309.66,409.1 310.32,409.21 310.99,409.14 311.66,408.89 312.32,408.46 312.99,407.87 313.65,407.13 314.32,406.25 314.99,405.23 315.65,404.11 316.32,402.93 316.99,401.72 317.65,400.54 318.32,399.42 318.98,398.41 319.65,397.56 320.32,396.9 320.98,396.49 321.65,396.36 322.32,396.49 322.98,396.84 323.65,397.35 324.31,397.98 324.98,398.65 325.65,399.34 326.31,400 326.98,400.6 327.65,401.14 328.31,401.58 328.98,401.9 329.64,402.07 330.31,402.09 330.98,401.93 331.64,401.63 332.31,401.17 332.98,400.59 333.64,399.87 334.31,399.04 334.98,398.11 335.64,397.09 336.31,395.98 336.97,394.81 337.64,393.6 338.31,392.36 338.97,391.11 339.64,389.87 340.31,388.67 340.97,387.51 341.64,386.42 342.3,385.42 342.97,384.52 343.64,383.73 344.3,383.03 344.97,382.43 345.64,381.9 346.3,381.44 346.97,381.03 347.63,380.68 348.3,380.37 348.97,380.08 349.63,379.82 350.3,379.56" fill="none" stroke="#5a2a8a" stroke-width="1.3" stroke-linejoin="round"/><polyline points="291,467.33 291.67,467.02 292.33,466.72 293,466.41 293.67,466.1 294.33,465.78 295,465.45 295.66,465.11 296.33,464.76 297,464.39 297.66,464.01 298.33,463.6 299,463.18 299.66,462.74 300.33,462.28 300.99,461.79 301.66,461.3 302.33,460.8 302.99,460.31 303.66,459.83 304.33,459.37 304.99,458.94 305.66,458.55 306.32,458.2 306.99,457.91 307.66,457.67 308.32,457.51 308.99,457.41 309.66,457.41 310.32,457.49 310.99,457.68 311.66,457.97 312.32,458.35 312.99,458.82 313.65,459.37 314.32,460 314.99,460.69 315.65,461.44 316.32,462.24 316.99,463.09 317.65,463.97 318.32,464.89 318.98,465.83 319.65,466.78 320.32,467.73 320.98,468.68 321.65,469.62 322.32,470.52 322.98,471.39 323.65,472.2 324.31,472.96 324.98,473.64 325.65,474.25 326.31,474.76 326.98,475.16 327.65,475.46 328.31,475.62 328.98,475.66 329.64,475.54 330.31,475.29 330.98,474.9 331.64,474.4 332.31,473.79 332.98,473.1 333.64,472.33 334.31,471.5 334.98,470.62 335.64,469.7 336.31,468.77 336.97,467.82 337.64,466.88 338.31,465.96 338.97,465.07 339.64,464.23 340.31,463.44 340.97,462.71 341.64,462.02 342.3,461.39 342.97,460.8 343.64,460.25 344.3,459.74 344.97,459.26 345.64,458.81 346.3,458.39 346.97,457.99 347.63,457.6 348.3,457.23 348.97,456.88 349.63,456.52 350.3,456.18" fill="none" stroke="#2a2ae8" stroke-width="1.3" stroke-linejoin="round"/><polyline points="291,466.61 291.67,466.32 292.33,466.02 293,465.72 293.67,465.4 294.33,465.07 295,464.73 295.66,464.37 296.33,463.98 297,463.57 297.66,463.13 298.33,462.65 299,462.15 299.66,461.6 300.33,461.01 300.99,460.38 301.66,459.73 302.33,459.07 302.99,458.41 303.66,457.75 304.33,457.11 304.99,456.51 305.66,455.95 306.32,455.44 306.99,455 307.66,454.64 308.32,454.36 308.99,454.19 309.66,454.12 310.32,454.18 310.99,454.36 311.66,454.69 312.32,455.14 312.99,455.7 313.65,456.36 314.32,457.12 314.99,457.95 315.65,458.85 316.32,459.8 316.99,460.8 317.65,461.83 318.32,462.89 318.98,463.95 319.65,465.01 320.32,466.06 320.98,467.09 321.65,468.08 322.32,469.04 322.98,469.94 323.65,470.79 324.31,471.57 324.98,472.26 325.65,472.87 326.31,473.38 326.98,473.78 327.65,474.07 328.31,474.22 328.98,474.24 329.64,474.11 330.31,473.84 330.98,473.44 331.64,472.92 332.31,472.3 332.98,471.59 333.64,470.81 334.31,469.96 334.98,469.06 335.64,468.13 336.31,467.18 336.97,466.22 337.64,465.27 338.31,464.33 338.97,463.42 339.64,462.57 340.31,461.76 340.97,461.02 341.64,460.32 342.3,459.67 342.97,459.07 343.64,458.5 344.3,457.98 344.97,457.48 345.64,457.02 346.3,456.58 346.97,456.16 347.63,455.76 348.3,455.38 348.97,455.01 349.63,454.64 350.3,454.28" fill="none" stroke="#e02850" stroke-width="1.3" stroke-linejoin="round"/><polyline points="291,467.8 291.67,467.51 292.33,467.21 293,466.9 293.67,466.59 294.33,466.26 295,465.92 295.66,465.55 296.33,465.17 297,464.75 297.66,464.31 298.33,463.84 299,463.33 299.66,462.78 300.33,462.19 300.99,461.57 301.66,460.92 302.33,460.26 302.99,459.59 303.66,458.94 304.33,458.3 304.99,457.7 305.66,457.14 306.32,456.63 306.99,456.19 307.66,455.82 308.32,455.55 308.99,455.37 309.66,455.31 310.32,455.36 310.99,455.55 311.66,455.87 312.32,456.32 312.99,456.89 313.65,457.55 314.32,458.3 314.99,459.14 315.65,460.04 316.32,460.99 316.99,461.99 317.65,463.02 318.32,464.07 318.98,465.13 319.65,466.19 320.32,467.24 320.98,468.27 321.65,469.27 322.32,470.22 322.98,471.13 323.65,471.98 324.31,472.75 324.98,473.45 325.65,474.06 326.31,474.57 326.98,474.97 327.65,475.25 328.31,475.41 328.98,475.42 329.64,475.3 330.31,475.02 330.98,474.62 331.64,474.11 332.31,473.49 332.98,472.78 333.64,471.99 334.31,471.15 334.98,470.25 335.64,469.32 336.31,468.37 336.97,467.41 337.64,466.45 338.31,465.51 338.97,464.61 339.64,463.75 340.31,462.95 340.97,462.2 341.64,461.5 342.3,460.86 342.97,460.25 343.64,459.69 344.3,459.16 344.97,458.67 345.64,458.2 346.3,457.76 346.97,457.35 347.63,456.95 348.3,456.57 348.97,456.19 349.63,455.83 350.3,455.47" fill="none" stroke="#8a2a7a" stroke-width="0.8" stroke-linejoin="round"/><polyline points="291,474.44 291.09,474.71 291.19,474.98 291.28,475.25 291.37,475.52 291.47,475.79 291.56,476.06 291.65,476.34 291.75,476.62 291.84,476.89 291.93,477.17 292.03,477.45 292.12,477.73 292.21,478.01 292.31,478.3 292.4,478.58 292.49,478.87 292.59,479.15 292.68,479.44 292.77,479.73 292.87,480.02 292.96,480.31 293.05,480.61 293.15,480.9 293.24,481.2 293.33,481.49 293.43,481.79 293.52,482.09 293.61,482.39 293.71,482.69 293.8,482.99 293.89,483.29 293.98,483.6 294.08,483.9 294.17,484.21 294.26,484.52 294.36,484.83 294.45,485.13 294.54,485.44 294.64,485.76 294.73,486.07 294.82,486.38 294.92,486.7 295.01,487.01 295.1,487.33 295.2,487.65 295.29,487.97 295.38,488.29 295.48,488.61 295.57,488.93 295.66,489.26 295.76,489.58 295.85,489.91 295.94,490.24 296.04,490.57 296.13,490.9 296.22,491.23 296.32,491.56 296.41,491.9 296.5,492.24 296.6,492.57 296.69,492.91 296.78,493.25 296.88,493.6 296.97,493.94 297.06,494.28 297.16,494.63 297.25,494.97 297.34,495.32 297.44,495.67 297.53,496.02 297.62,496.37 297.72,496.73 297.81,497.08 297.9,497.44 298,497.79 298.09,498.15 298.18,498.51 298.28,498.87 298.37,499.23 298.46,499.59 298.56,499.96 298.65,500.32 298.74,500.69 298.84,501.05 298.93,501.42 299.02,501.79 299.12,502.16 299.21,502.53 299.3,502.91" fill="none" stroke="#262626" stroke-width="1.1" stroke-linejoin="round"/><polyline points="314.72,502.91 315.12,502.26 315.52,501.62 315.92,500.97 316.32,500.33 316.72,499.69 317.12,499.04 317.52,498.4 317.92,497.76 318.32,497.12 318.72,496.48 319.12,495.83 319.52,495.19 319.92,494.55 320.32,493.91 320.72,493.28 321.12,492.64 321.52,492 321.92,491.37 322.32,490.73 322.72,490.1 323.12,489.46 323.52,488.83 323.91,488.2 324.31,487.57 324.71,486.95 325.11,486.33 325.51,485.71 325.91,485.1 326.31,484.49 326.71,483.9 327.11,483.31 327.51,482.74 327.91,482.17 328.31,481.62 328.71,481.08 329.11,480.55 329.51,480.04 329.91,479.55 330.31,479.08 330.71,478.62 331.11,478.18 331.51,477.76 331.91,477.37 332.31,476.99 332.71,476.64 333.11,476.32 333.51,476.02 333.91,475.74 334.31,475.5 334.71,475.28 335.11,475.1 335.51,474.95 335.91,474.83 336.31,474.74 336.71,474.69 337.11,474.68 337.51,474.7 337.91,474.76 338.31,474.85 338.71,474.98 339.11,475.13 339.51,475.32 339.91,475.53 340.31,475.77 340.71,476.03 341.11,476.3 341.5,476.6 341.9,476.91 342.3,477.24 342.7,477.58 343.1,477.93 343.5,478.29 343.9,478.65 344.3,479.02 344.7,479.4 345.1,479.78 345.5,480.17 345.9,480.57 346.3,480.96 346.7,481.37 347.1,481.77 347.5,482.18 347.9,482.6 348.3,483.01 348.7,483.43 349.1,483.85 349.5,484.27 349.9,484.69 350.3,485.12" fill="none" stroke="#262626" stroke-width="1.1" stroke-linejoin="round"/><polyline points="338.44,502.91 338.57,502.6 338.71,502.29 338.84,501.98 338.97,501.67 339.11,501.37 339.24,501.07 339.37,500.77 339.51,500.48 339.64,500.19 339.77,499.9 339.91,499.61 340.04,499.32 340.17,499.04 340.31,498.76 340.44,498.49 340.57,498.22 340.71,497.95 340.84,497.68 340.97,497.42 341.11,497.16 341.24,496.91 341.37,496.66 341.5,496.41 341.64,496.17 341.77,495.93 341.9,495.7 342.04,495.47 342.17,495.24 342.3,495.02 342.44,494.8 342.57,494.59 342.7,494.38 342.84,494.18 342.97,493.98 343.1,493.79 343.24,493.6 343.37,493.42 343.5,493.25 343.64,493.07 343.77,492.91 343.9,492.75 344.04,492.59 344.17,492.44 344.3,492.3 344.44,492.16 344.57,492.03 344.7,491.89 344.84,491.76 344.97,491.62 345.1,491.49 345.24,491.36 345.37,491.22 345.5,491.09 345.64,490.96 345.77,490.84 345.9,490.71 346.04,490.59 346.17,490.46 346.3,490.34 346.44,490.22 346.57,490.1 346.7,489.99 346.84,489.87 346.97,489.76 347.1,489.65 347.24,489.55 347.37,489.44 347.5,489.34 347.63,489.24 347.77,489.15 347.9,489.05 348.03,488.96 348.17,488.87 348.3,488.79 348.43,488.71 348.57,488.63 348.7,488.56 348.83,488.49 348.97,488.42 349.1,488.35 349.23,488.29 349.37,488.24 349.5,488.19 349.63,488.14 349.77,488.09 349.9,488.05 350.03,488.02 350.17,487.99 350.3,487.96" fill="none" stroke="#262626" stroke-width="1.1" stroke-linejoin="round"/><polyline points="291,498.87 291.15,498.87 291.29,498.87 291.44,498.87 291.59,498.87 291.73,498.87 291.88,498.87 292.03,498.87 292.17,498.87 292.32,498.87 292.47,498.87 292.61,498.87 292.76,498.87 292.91,498.87 293.05,498.87 293.2,498.87 293.35,498.87 293.49,498.87 293.64,498.87 293.79,498.87 293.93,498.87 294.08,498.87 294.22,498.87 294.37,498.87 294.52,498.87 294.66,498.87 294.81,498.87 294.96,498.87 295.1,498.87 295.25,498.87 295.4,498.87 295.54,498.87 295.69,498.87 295.84,498.87 295.98,498.87 296.13,498.87 296.28,498.87 296.42,498.87 296.57,498.87 296.72,498.87 296.86,498.87 297.01,498.87 297.16,498.87 297.3,498.87 297.45,498.87 297.6,498.87 297.74,498.87 297.89,498.87 298.04,498.87 298.18,498.87 298.33,498.87 298.48,498.87 298.62,498.87 298.77,498.87 298.92,498.87 299.06,498.87 299.21,498.87 299.36,498.87 299.5,498.87 299.65,498.87 299.8,498.87 299.94,498.87 300.09,498.88 300.23,498.9 300.38,498.94 300.53,498.98 300.67,499.03 300.82,499.09 300.97,499.16 301.11,499.24 301.26,499.32 301.41,499.42 301.55,499.51 301.7,499.62 301.85,499.73 301.99,499.85 302.14,499.97 302.29,500.09 302.43,500.22 302.58,500.35 302.73,500.49 302.87,500.62 303.02,500.76 303.17,500.9 303.31,501.04 303.46,501.17 303.61,501.31 303.75,501.45 303.9,501.59 304.05,501.72" fill="none" stroke="#262626" stroke-width="1.1" stroke-linejoin="round"/><polyline points="328.95,502.19 329.02,502.04 329.09,501.88 329.15,501.73 329.22,501.58 329.29,501.44 329.35,501.3 329.42,501.16 329.49,501.03 329.55,500.9 329.62,500.77 329.68,500.65 329.75,500.53 329.82,500.42 329.88,500.31 329.95,500.2 330.02,500.1 330.08,500 330.15,499.9 330.22,499.8 330.28,499.71 330.35,499.63 330.42,499.55 330.48,499.47 330.55,499.39 330.62,499.32 330.68,499.25 330.75,499.19 330.82,499.13 330.88,499.07 330.95,499.01 331.02,498.96 331.08,498.92 331.15,498.87 331.22,498.83 331.28,498.8 331.35,498.77 331.42,498.74 331.48,498.71 331.55,498.69 331.62,498.67 331.68,498.66 331.75,498.65 331.82,498.64 331.88,498.64 331.95,498.64 332.02,498.64 332.08,498.65 332.15,498.66 332.22,498.67 332.28,498.69 332.35,498.71 332.42,498.74 332.48,498.77 332.55,498.8 332.62,498.83 332.68,498.87 332.75,498.92 332.82,498.96 332.88,499.01 332.95,499.07 333.02,499.13 333.08,499.19 333.15,499.25 333.22,499.32 333.28,499.39 333.35,499.47 333.42,499.55 333.48,499.63 333.55,499.71 333.62,499.8 333.68,499.9 333.75,500 333.82,500.1 333.88,500.2 333.95,500.31 334.02,500.42 334.08,500.53 334.15,500.65 334.22,500.77 334.28,500.9 334.35,501.03 334.42,501.16 334.48,501.3 334.55,501.44 334.62,501.58 334.68,501.73 334.75,501.88 334.82,502.04 334.88,502.19" fill="none" stroke="#262626" stroke-width="1.1" stroke-linejoin="round"/></g>
<line x1="315.91" y1="457.13" x2="315.91" y2="451.91" stroke="#f0f048" stroke-width="3"/>
<line x1="315.91" y1="451.91" x2="315.91" y2="409.63" stroke="#98e438" stroke-width="2.2"/>
<polygon points="313.11,410.63 318.71,410.63 315.91,406.13" fill="#40c020" stroke="none" stroke-width="0"/>
<line x1="329.25" y1="406.13" x2="320.91" y2="406.13" stroke="#3a6ae8" stroke-width="1.8"/>
<polygon points="317.71,406.13 322.41,403.73 322.41,408.53" fill="#1838d8" stroke="none" stroke-width="0"/>
<rect x="291" y="359.4" width="59.3" height="142.3" fill="none" stroke="#2a2a2a" stroke-width="1.1"/>
<line x1="291" y1="359.4" x2="293.5" y2="359.4" stroke="#2a2a2a" stroke-width="0.8"/>
<line x1="350.3" y1="359.4" x2="347.8" y2="359.4" stroke="#2a2a2a" stroke-width="0.8"/>
<text x="289.5" y="362.1" font-size="8" fill="#444" text-anchor="end" font-family="'Liberation Serif', 'Times New Roman', serif" stroke="#444" stroke-width="0.24">4</text>
<line x1="291" y1="371.26" x2="293.5" y2="371.26" stroke="#2a2a2a" stroke-width="0.8"/>
<line x1="350.3" y1="371.26" x2="347.8" y2="371.26" stroke="#2a2a2a" stroke-width="0.8"/>
<text x="289.5" y="373.96" font-size="8" fill="#444" text-anchor="end" font-family="'Liberation Serif', 'Times New Roman', serif" stroke="#444" stroke-width="0.24">3.5</text>
<line x1="291" y1="383.12" x2="293.5" y2="383.12" stroke="#2a2a2a" stroke-width="0.8"/>
<line x1="350.3" y1="383.12" x2="347.8" y2="383.12" stroke="#2a2a2a" stroke-width="0.8"/>
<text x="289.5" y="385.82" font-size="8" fill="#444" text-anchor="end" font-family="'Liberation Serif', 'Times New Roman', serif" stroke="#444" stroke-width="0.24">3</text>
<line x1="291" y1="394.98" x2="293.5" y2="394.98" stroke="#2a2a2a" stroke-width="0.8"/>
<line x1="350.3" y1="394.98" x2="347.8" y2="394.98" stroke="#2a2a2a" stroke-width="0.8"/>
<text x="289.5" y="397.68" font-size="8" fill="#444" text-anchor="end" font-family="'Liberation Serif', 'Times New Roman', serif" stroke="#444" stroke-width="0.24">2.5</text>
<line x1="291" y1="406.84" x2="293.5" y2="406.84" stroke="#2a2a2a" stroke-width="0.8"/>
<line x1="350.3" y1="406.84" x2="347.8" y2="406.84" stroke="#2a2a2a" stroke-width="0.8"/>
<text x="289.5" y="409.54" font-size="8" fill="#444" text-anchor="end" font-family="'Liberation Serif', 'Times New Roman', serif" stroke="#444" stroke-width="0.24">2</text>
<line x1="291" y1="418.7" x2="293.5" y2="418.7" stroke="#2a2a2a" stroke-width="0.8"/>
<line x1="350.3" y1="418.7" x2="347.8" y2="418.7" stroke="#2a2a2a" stroke-width="0.8"/>
<text x="289.5" y="421.4" font-size="8" fill="#444" text-anchor="end" font-family="'Liberation Serif', 'Times New Roman', serif" stroke="#444" stroke-width="0.24">1.5</text>
<line x1="291" y1="430.56" x2="293.5" y2="430.56" stroke="#2a2a2a" stroke-width="0.8"/>
<line x1="350.3" y1="430.56" x2="347.8" y2="430.56" stroke="#2a2a2a" stroke-width="0.8"/>
<text x="289.5" y="433.26" font-size="8" fill="#444" text-anchor="end" font-family="'Liberation Serif', 'Times New Roman', serif" stroke="#444" stroke-width="0.24">1</text>
<line x1="291" y1="442.42" x2="293.5" y2="442.42" stroke="#2a2a2a" stroke-width="0.8"/>
<line x1="350.3" y1="442.42" x2="347.8" y2="442.42" stroke="#2a2a2a" stroke-width="0.8"/>
<text x="289.5" y="445.12" font-size="8" fill="#444" text-anchor="end" font-family="'Liberation Serif', 'Times New Roman', serif" stroke="#444" stroke-width="0.24">0.5</text>
<line x1="291" y1="454.28" x2="293.5" y2="454.28" stroke="#2a2a2a" stroke-width="0.8"/>
<line x1="350.3" y1="454.28" x2="347.8" y2="454.28" stroke="#2a2a2a" stroke-width="0.8"/>
<text x="289.5" y="456.98" font-size="8" fill="#444" text-anchor="end" font-family="'Liberation Serif', 'Times New Roman', serif" stroke="#444" stroke-width="0.24">0</text>
<line x1="291" y1="466.14" x2="293.5" y2="466.14" stroke="#2a2a2a" stroke-width="0.8"/>
<line x1="350.3" y1="466.14" x2="347.8" y2="466.14" stroke="#2a2a2a" stroke-width="0.8"/>
<text x="289.5" y="468.84" font-size="8" fill="#444" text-anchor="end" font-family="'Liberation Serif', 'Times New Roman', serif" stroke="#444" stroke-width="0.24">-0.5</text>
<line x1="291" y1="478" x2="293.5" y2="478" stroke="#2a2a2a" stroke-width="0.8"/>
<line x1="350.3" y1="478" x2="347.8" y2="478" stroke="#2a2a2a" stroke-width="0.8"/>
<text x="289.5" y="480.7" font-size="8" fill="#444" text-anchor="end" font-family="'Liberation Serif', 'Times New Roman', serif" stroke="#444" stroke-width="0.24">-1</text>
<line x1="291" y1="489.86" x2="293.5" y2="489.86" stroke="#2a2a2a" stroke-width="0.8"/>
<line x1="350.3" y1="489.86" x2="347.8" y2="489.86" stroke="#2a2a2a" stroke-width="0.8"/>
<text x="289.5" y="492.56" font-size="8" fill="#444" text-anchor="end" font-family="'Liberation Serif', 'Times New Roman', serif" stroke="#444" stroke-width="0.24">-1.5</text>
<line x1="291" y1="501.72" x2="293.5" y2="501.72" stroke="#2a2a2a" stroke-width="0.8"/>
<line x1="350.3" y1="501.72" x2="347.8" y2="501.72" stroke="#2a2a2a" stroke-width="0.8"/>
<text x="289.5" y="504.42" font-size="8" fill="#444" text-anchor="end" font-family="'Liberation Serif', 'Times New Roman', serif" stroke="#444" stroke-width="0.24">-2</text>
<text x="291" y="512.5" font-size="10.5" fill="#333" text-anchor="middle" font-family="'Liberation Serif', 'Times New Roman', serif" stroke="#333" stroke-width="0.32">M</text>
<text x="310.75" y="512.5" font-size="10.5" fill="#333" text-anchor="middle" font-family="'Liberation Serif', 'Times New Roman', serif" stroke="#333" stroke-width="0.32">K</text>
<text x="329.25" y="512.5" font-size="10.5" fill="#333" text-anchor="middle" font-family="'Liberation Serif', 'Times New Roman', serif" stroke="#333" stroke-width="0.32">Q</text>
<text x="350.3" y="512.5" font-size="10.5" fill="#333" text-anchor="middle" font-family="'Liberation Serif', 'Times New Roman', serif" stroke="#333" stroke-width="0.32">Γ</text>
<text x="320.65" y="351.6" font-size="8.2" fill="#333" text-anchor="middle" font-family="'Liberation Sans', Arial, sans-serif" stroke="#333" stroke-width="0.25">0 GPa</text>
<clipPath id="clipH1"><rect x="372.25" y="359.4" width="60" height="142.3"/></clipPath>
<g clip-path="url(#clipH1)"><line x1="392.23" y1="359.4" x2="392.23" y2="501.7" stroke="#b8a8a8" stroke-width="0.8" stroke-dasharray="1,1.6"/><line x1="410.95" y1="359.4" x2="410.95" y2="501.7" stroke="#b8a8a8" stroke-width="0.8" stroke-dasharray="1,1.6"/><polyline points="372.25,382.65 372.92,382.24 373.6,381.83 374.27,381.41 374.95,380.97 375.62,380.52 376.29,380.04 376.97,379.53 377.64,378.99 378.32,378.4 378.99,377.78 379.67,377.1 380.34,376.37 381.01,375.58 381.69,374.73 382.36,373.83 383.04,372.88 383.71,371.91 384.38,370.93 385.06,369.95 385.73,369 386.41,368.08 387.08,367.21 387.76,366.41 388.43,365.69 389.1,365.07 389.78,364.56 390.45,364.18 391.13,363.95 391.8,363.87 392.47,363.96 393.15,364.23 393.82,364.66 394.5,365.22 395.17,365.89 395.85,366.66 396.52,367.51 397.19,368.4 397.87,369.33 398.54,370.28 399.22,371.21 399.89,372.13 400.56,373.01 401.24,373.87 401.91,374.71 402.59,375.53 403.26,376.33 403.94,377.11 404.61,377.89 405.28,378.65 405.96,379.4 406.63,380.15 407.31,380.89 407.98,381.64 408.65,382.38 409.33,383.12 410,383.83 410.68,384.51 411.35,385.13 412.03,385.69 412.7,386.17 413.37,386.55 414.05,386.82 414.72,386.99 415.4,387.04 416.07,387.01 416.74,386.89 417.42,386.69 418.09,386.43 418.77,386.11 419.44,385.73 420.12,385.32 420.79,384.88 421.46,384.41 422.14,383.92 422.81,383.44 423.49,382.95 424.16,382.47 424.83,382.01 425.51,381.54 426.18,381.09 426.86,380.64 427.53,380.2 428.21,379.76 428.88,379.32 429.55,378.89 430.23,378.47 430.9,378.04 431.58,377.61 432.25,377.19" fill="none" stroke="#5a5a5a" stroke-width="1.15" stroke-linejoin="round"/><polyline points="372.25,383.12 372.92,382.74 373.6,382.36 374.27,381.97 374.95,381.58 375.62,381.17 376.29,380.74 376.97,380.29 377.64,379.81 378.32,379.31 378.99,378.78 379.67,378.21 380.34,377.6 381.01,376.95 381.69,376.26 382.36,375.53 383.04,374.77 383.71,374 384.38,373.22 385.06,372.45 385.73,371.69 386.41,370.97 387.08,370.29 387.76,369.66 388.43,369.1 389.1,368.62 389.78,368.22 390.45,367.92 391.13,367.74 391.8,367.67 392.47,367.74 393.15,367.95 393.82,368.28 394.5,368.72 395.17,369.25 395.85,369.86 396.52,370.53 397.19,371.26 397.87,372.02 398.54,372.8 399.22,373.59 399.89,374.38 400.56,375.16 401.24,375.93 401.91,376.7 402.59,377.46 403.26,378.21 403.94,378.96 404.61,379.7 405.28,380.43 405.96,381.16 406.63,381.89 407.31,382.6 407.98,383.31 408.65,384.02 409.33,384.71 410,385.37 410.68,385.99 411.35,386.55 412.03,387.05 412.7,387.46 413.37,387.77 414.05,387.97 414.72,388.06 415.4,388.04 416.07,387.94 416.74,387.75 417.42,387.48 418.09,387.16 418.77,386.78 419.44,386.35 420.12,385.9 420.79,385.41 421.46,384.91 422.14,384.41 422.81,383.91 423.49,383.43 424.16,382.96 424.83,382.51 425.51,382.08 426.18,381.67 426.86,381.27 427.53,380.88 428.21,380.5 428.88,380.13 429.55,379.77 430.23,379.42 430.9,379.07 431.58,378.72 432.25,378.38" fill="none" stroke="#6a6a6a" stroke-width="1.15" stroke-linejoin="round"/><polyline points="380.05,359.4 380.64,361.02 381.22,362.63 381.81,364.22 382.4,365.77 382.98,367.27 383.57,368.71 384.16,370.09 384.74,371.38 385.33,372.57 385.92,373.66 386.5,374.64 387.09,375.48 387.67,376.19 388.26,376.76 388.85,377.22 389.43,377.57 390.02,377.81 390.61,377.95 391.19,378 391.78,377.97 392.37,377.87 392.95,377.71 393.54,377.49 394.13,377.23 394.71,376.94 395.3,376.63 395.89,376.31 396.47,376 397.06,375.71 397.65,375.44 398.23,375.22 398.82,375.04 399.41,374.93 399.99,374.89 400.58,374.94 401.16,375.09 401.75,375.34 402.34,375.72 402.92,376.19 403.51,376.76 404.1,377.4 404.68,378.11 405.27,378.87 405.86,379.68 406.44,380.51 407.03,381.36 407.62,382.21 408.2,383.05 408.79,383.87 409.38,384.66 409.96,385.42 410.55,386.12 411.14,386.78 411.72,387.38 412.31,387.91 412.89,388.37 413.48,388.75 414.07,389.04 414.65,389.24 415.24,389.34 415.83,389.34 416.41,389.25 417,389.08 417.59,388.83 418.17,388.52 418.76,388.16 419.35,387.74 419.93,387.28 420.52,386.79 421.11,386.27 421.69,385.74 422.28,385.2 422.87,384.66 423.45,384.12 424.04,383.6 424.63,383.09 425.21,382.6 425.8,382.11 426.38,381.63 426.97,381.16 427.56,380.7 428.14,380.25 428.73,379.8 429.32,379.36 429.9,378.92 430.49,378.48 431.08,378.05 431.66,377.62 432.25,377.19" fill="none" stroke="#303030" stroke-width="1.2" stroke-linejoin="round"/><polyline points="418.45,359.4 418.61,359.7 418.76,359.99 418.92,360.28 419.07,360.58 419.23,360.87 419.38,361.15 419.54,361.44 419.69,361.73 419.85,362.01 420,362.29 420.16,362.57 420.31,362.84 420.47,363.12 420.62,363.39 420.78,363.66 420.93,363.93 421.09,364.19 421.24,364.46 421.4,364.72 421.55,364.98 421.71,365.23 421.86,365.49 422.02,365.74 422.17,365.98 422.33,366.23 422.48,366.47 422.64,366.71 422.79,366.95 422.95,367.19 423.1,367.42 423.26,367.65 423.41,367.87 423.57,368.1 423.72,368.32 423.88,368.53 424.03,368.75 424.19,368.96 424.34,369.17 424.5,369.37 424.65,369.57 424.81,369.77 424.96,369.97 425.12,370.16 425.27,370.35 425.43,370.54 425.58,370.72 425.74,370.91 425.89,371.1 426.05,371.28 426.2,371.46 426.36,371.64 426.51,371.82 426.67,372 426.82,372.18 426.98,372.35 427.13,372.53 427.29,372.7 427.44,372.87 427.6,373.04 427.75,373.21 427.91,373.38 428.06,373.54 428.22,373.7 428.37,373.86 428.53,374.02 428.68,374.18 428.84,374.34 428.99,374.49 429.15,374.64 429.3,374.79 429.46,374.94 429.61,375.08 429.77,375.22 429.92,375.36 430.08,375.5 430.23,375.64 430.39,375.77 430.54,375.91 430.7,376.03 430.85,376.16 431.01,376.29 431.16,376.41 431.32,376.53 431.47,376.64 431.63,376.76 431.78,376.87 431.94,376.98 432.09,377.09 432.25,377.19" fill="none" stroke="#303030" stroke-width="1.2" stroke-linejoin="round"/><polyline points="372.25,395.45 372.92,395.22 373.6,395 374.27,394.8 374.95,394.64 375.62,394.53 376.29,394.48 376.97,394.5 377.64,394.6 378.32,394.79 378.99,395.05 379.67,395.39 380.34,395.8 381.01,396.27 381.69,396.79 382.36,397.38 383.04,398.01 383.71,398.68 384.38,399.4 385.06,400.14 385.73,400.9 386.41,401.66 387.08,402.4 387.76,403.11 388.43,403.76 389.1,404.35 389.78,404.84 390.45,405.24 391.13,405.51 391.8,405.65 392.47,405.63 393.15,405.45 393.82,405.13 394.5,404.69 395.17,404.13 395.85,403.47 396.52,402.74 397.19,401.94 397.87,401.09 398.54,400.23 399.22,399.38 399.89,398.59 400.56,397.91 401.24,397.36 401.91,396.99 402.59,396.83 403.26,396.89 403.94,397.15 404.61,397.57 405.28,398.14 405.96,398.82 406.63,399.58 407.31,400.4 407.98,401.24 408.65,402.06 409.33,402.81 410,403.46 410.68,403.96 411.35,404.26 412.03,404.35 412.7,404.23 413.37,403.92 414.05,403.44 414.72,402.79 415.4,402.01 416.07,401.1 416.74,400.08 417.42,398.96 418.09,397.77 418.77,396.52 419.44,395.23 420.12,393.91 420.79,392.58 421.46,391.26 422.14,389.96 422.81,388.7 423.49,387.5 424.16,386.37 424.83,385.33 425.51,384.39 426.18,383.56 426.86,382.83 427.53,382.18 428.21,381.6 428.88,381.09 429.55,380.62 430.23,380.2 430.9,379.81 431.58,379.45 432.25,379.09" fill="none" stroke="#3030e0" stroke-width="1.2" stroke-linejoin="round"/><polyline points="372.25,394.03 372.92,393.8 373.6,393.58 374.27,393.38 374.95,393.22 375.62,393.1 376.29,393.05 376.97,393.07 377.64,393.18 378.32,393.37 378.99,393.63 379.67,393.97 380.34,394.37 381.01,394.84 381.69,395.37 382.36,395.95 383.04,396.58 383.71,397.26 384.38,397.97 385.06,398.72 385.73,399.48 386.41,400.24 387.08,400.98 387.76,401.69 388.43,402.34 389.1,402.92 389.78,403.42 390.45,403.81 391.13,404.09 391.8,404.22 392.47,404.21 393.15,404.03 393.82,403.71 394.5,403.26 395.17,402.71 395.85,402.05 396.52,401.32 397.19,400.52 397.87,399.67 398.54,398.8 399.22,397.96 399.89,397.17 400.56,396.48 401.24,395.93 401.91,395.56 402.59,395.4 403.26,395.47 403.94,395.73 404.61,396.15 405.28,396.72 405.96,397.4 406.63,398.16 407.31,398.98 407.98,399.82 408.65,400.64 409.33,401.39 410,402.04 410.68,402.53 411.35,402.84 412.03,402.93 412.7,402.81 413.37,402.5 414.05,402.01 414.72,401.37 415.4,400.59 416.07,399.67 416.74,398.65 417.42,397.54 418.09,396.35 418.77,395.1 419.44,393.81 420.12,392.49 420.79,391.16 421.46,389.84 422.14,388.54 422.81,387.28 423.49,386.07 424.16,384.94 424.83,383.91 425.51,382.97 426.18,382.14 426.86,381.41 427.53,380.76 428.21,380.18 428.88,379.66 429.55,379.2 430.23,378.78 430.9,378.39 431.58,378.02 432.25,377.66" fill="none" stroke="#e03060" stroke-width="1" stroke-linejoin="round"/><polyline points="372.25,394.74 372.92,394.51 373.6,394.29 374.27,394.09 374.95,393.93 375.62,393.82 376.29,393.76 376.97,393.79 377.64,393.89 378.32,394.08 378.99,394.34 379.67,394.68 380.34,395.09 381.01,395.55 381.69,396.08 382.36,396.66 383.04,397.29 383.71,397.97 384.38,398.68 385.06,399.43 385.73,400.19 386.41,400.95 387.08,401.69 387.76,402.4 388.43,403.05 389.1,403.63 389.78,404.13 390.45,404.52 391.13,404.8 391.8,404.93 392.47,404.92 393.15,404.74 393.82,404.42 394.5,403.98 395.17,403.42 395.85,402.76 396.52,402.03 397.19,401.23 397.87,400.38 398.54,399.51 399.22,398.67 399.89,397.88 400.56,397.19 401.24,396.65 401.91,396.27 402.59,396.12 403.26,396.18 403.94,396.44 404.61,396.86 405.28,397.43 405.96,398.11 406.63,398.87 407.31,399.69 407.98,400.53 408.65,401.35 409.33,402.1 410,402.75 410.68,403.25 411.35,403.55 412.03,403.64 412.7,403.52 413.37,403.21 414.05,402.73 414.72,402.08 415.4,401.3 416.07,400.39 416.74,399.37 417.42,398.25 418.09,397.06 418.77,395.81 419.44,394.52 420.12,393.2 420.79,391.87 421.46,390.55 422.14,389.25 422.81,387.99 423.49,386.79 424.16,385.66 424.83,384.62 425.51,383.68 426.18,382.85 426.86,382.12 427.53,381.47 428.21,380.89 428.88,380.37 429.55,379.91 430.23,379.49 430.9,379.1 431.58,378.73 432.25,378.38" fill="none" stroke="#5a2a8a" stroke-width="1.3" stroke-linejoin="round"/><polyline points="372.25,469.7 372.92,469.44 373.6,469.18 374.27,468.92 374.95,468.64 375.62,468.35 376.29,468.05 376.97,467.72 377.64,467.37 378.32,466.99 378.99,466.59 379.67,466.14 380.34,465.67 381.01,465.15 381.69,464.58 382.36,463.98 383.04,463.35 383.71,462.71 384.38,462.06 385.06,461.41 385.73,460.78 386.41,460.17 387.08,459.6 387.76,459.08 388.43,458.62 389.1,458.22 389.78,457.91 390.45,457.68 391.13,457.56 391.8,457.55 392.47,457.66 393.15,457.89 393.82,458.24 394.5,458.69 395.17,459.24 395.85,459.87 396.52,460.58 397.19,461.35 397.87,462.18 398.54,463.05 399.22,463.96 399.89,464.88 400.56,465.83 401.24,466.77 401.91,467.71 402.59,468.64 403.26,469.54 403.94,470.42 404.61,471.25 405.28,472.04 405.96,472.77 406.63,473.44 407.31,474.04 407.98,474.55 408.65,474.97 409.33,475.3 410,475.52 410.68,475.62 411.35,475.6 412.03,475.46 412.7,475.21 413.37,474.86 414.05,474.42 414.72,473.91 415.4,473.34 416.07,472.71 416.74,472.03 417.42,471.33 418.09,470.6 418.77,469.87 419.44,469.14 420.12,468.42 420.79,467.73 421.46,467.08 422.14,466.46 422.81,465.9 423.49,465.37 424.16,464.88 424.83,464.43 425.51,464.01 426.18,463.61 426.86,463.25 427.53,462.91 428.21,462.59 428.88,462.28 429.55,461.99 430.23,461.71 430.9,461.44 431.58,461.18 432.25,460.92" fill="none" stroke="#2a2ae8" stroke-width="1.3" stroke-linejoin="round"/><polyline points="372.25,468.99 372.92,468.74 373.6,468.49 374.27,468.22 374.95,467.95 375.62,467.65 376.29,467.33 376.97,466.98 377.64,466.6 378.32,466.17 378.99,465.71 379.67,465.19 380.34,464.63 381.01,464 381.69,463.31 382.36,462.57 383.04,461.79 383.71,460.98 384.38,460.15 385.06,459.33 385.73,458.52 386.41,457.74 387.08,457 387.76,456.32 388.43,455.71 389.1,455.19 389.78,454.77 390.45,454.45 391.13,454.27 391.8,454.23 392.47,454.34 393.15,454.61 393.82,455.02 394.5,455.57 395.17,456.23 395.85,456.99 396.52,457.84 397.19,458.76 397.87,459.74 398.54,460.77 399.22,461.82 399.89,462.88 400.56,463.95 401.24,465 401.91,466.03 402.59,467.04 403.26,468.01 403.94,468.93 404.61,469.81 405.28,470.63 405.96,471.38 406.63,472.06 407.31,472.66 407.98,473.18 408.65,473.59 409.33,473.91 410,474.11 410.68,474.2 411.35,474.17 412.03,474.01 412.7,473.75 413.37,473.38 414.05,472.93 414.72,472.41 415.4,471.81 416.07,471.17 416.74,470.48 417.42,469.76 418.09,469.02 418.77,468.27 419.44,467.53 420.12,466.79 420.79,466.09 421.46,465.42 422.14,464.79 422.81,464.21 423.49,463.66 424.16,463.16 424.83,462.69 425.51,462.26 426.18,461.85 426.86,461.47 427.53,461.11 428.21,460.78 428.88,460.46 429.55,460.15 430.23,459.86 430.9,459.58 431.58,459.3 432.25,459.02" fill="none" stroke="#e02850" stroke-width="1.3" stroke-linejoin="round"/><polyline points="372.25,470.17 372.92,469.92 373.6,469.67 374.27,469.41 374.95,469.13 375.62,468.84 376.29,468.51 376.97,468.17 377.64,467.78 378.32,467.36 378.99,466.89 379.67,466.38 380.34,465.81 381.01,465.19 381.69,464.5 382.36,463.76 383.04,462.97 383.71,462.16 384.38,461.34 385.06,460.51 385.73,459.71 386.41,458.93 387.08,458.19 387.76,457.51 388.43,456.9 389.1,456.38 389.78,455.95 390.45,455.64 391.13,455.46 391.8,455.41 392.47,455.53 393.15,455.8 393.82,456.21 394.5,456.76 395.17,457.42 395.85,458.18 396.52,459.03 397.19,459.95 397.87,460.93 398.54,461.95 399.22,463 399.89,464.07 400.56,465.13 401.24,466.19 401.91,467.22 402.59,468.23 403.26,469.19 403.94,470.12 404.61,471 405.28,471.81 405.96,472.57 406.63,473.25 407.31,473.85 407.98,474.36 408.65,474.78 409.33,475.09 410,475.3 410.68,475.39 411.35,475.35 412.03,475.2 412.7,474.93 413.37,474.57 414.05,474.12 414.72,473.59 415.4,473 416.07,472.35 416.74,471.67 417.42,470.95 418.09,470.21 418.77,469.46 419.44,468.71 420.12,467.98 420.79,467.27 421.46,466.6 422.14,465.97 422.81,465.39 423.49,464.85 424.16,464.35 424.83,463.88 425.51,463.44 426.18,463.04 426.86,462.65 427.53,462.3 428.21,461.96 428.88,461.64 429.55,461.34 430.23,461.05 430.9,460.76 431.58,460.48 432.25,460.21" fill="none" stroke="#8a2a7a" stroke-width="0.8" stroke-linejoin="round"/><polyline points="372.25,474.44 372.34,474.71 372.44,474.98 372.53,475.25 372.63,475.52 372.72,475.79 372.82,476.06 372.91,476.34 373.01,476.62 373.1,476.89 373.19,477.17 373.29,477.45 373.38,477.73 373.48,478.01 373.57,478.3 373.67,478.58 373.76,478.87 373.85,479.15 373.95,479.44 374.04,479.73 374.14,480.02 374.23,480.31 374.33,480.61 374.42,480.9 374.52,481.2 374.61,481.49 374.7,481.79 374.8,482.09 374.89,482.39 374.99,482.69 375.08,482.99 375.18,483.29 375.27,483.6 375.36,483.9 375.46,484.21 375.55,484.52 375.65,484.83 375.74,485.13 375.84,485.44 375.93,485.76 376.03,486.07 376.12,486.38 376.21,486.7 376.31,487.01 376.4,487.33 376.5,487.65 376.59,487.97 376.69,488.29 376.78,488.61 376.87,488.93 376.97,489.26 377.06,489.58 377.16,489.91 377.25,490.24 377.35,490.57 377.44,490.9 377.54,491.23 377.63,491.56 377.72,491.9 377.82,492.24 377.91,492.57 378.01,492.91 378.1,493.25 378.2,493.6 378.29,493.94 378.38,494.28 378.48,494.63 378.57,494.97 378.67,495.32 378.76,495.67 378.86,496.02 378.95,496.37 379.05,496.73 379.14,497.08 379.23,497.44 379.33,497.79 379.42,498.15 379.52,498.51 379.61,498.87 379.71,499.23 379.8,499.59 379.89,499.96 379.99,500.32 380.08,500.69 380.18,501.05 380.27,501.42 380.37,501.79 380.46,502.16 380.56,502.53 380.65,502.91" fill="none" stroke="#262626" stroke-width="1.1" stroke-linejoin="round"/><polyline points="396.25,502.91 396.65,502.26 397.06,501.62 397.46,500.97 397.87,500.33 398.27,499.69 398.68,499.04 399.08,498.4 399.49,497.76 399.89,497.12 400.29,496.48 400.7,495.83 401.1,495.19 401.51,494.55 401.91,493.91 402.32,493.28 402.72,492.64 403.13,492 403.53,491.37 403.94,490.73 404.34,490.1 404.74,489.46 405.15,488.83 405.55,488.2 405.96,487.57 406.36,486.95 406.77,486.33 407.17,485.71 407.58,485.1 407.98,484.49 408.38,483.9 408.79,483.31 409.19,482.74 409.6,482.17 410,481.62 410.41,481.08 410.81,480.55 411.22,480.04 411.62,479.55 412.03,479.08 412.43,478.62 412.83,478.18 413.24,477.76 413.64,477.37 414.05,476.99 414.45,476.64 414.86,476.32 415.26,476.02 415.67,475.74 416.07,475.5 416.47,475.28 416.88,475.1 417.28,474.95 417.69,474.83 418.09,474.74 418.5,474.69 418.9,474.68 419.31,474.7 419.71,474.76 420.12,474.85 420.52,474.98 420.92,475.13 421.33,475.32 421.73,475.53 422.14,475.77 422.54,476.03 422.95,476.3 423.35,476.6 423.76,476.91 424.16,477.24 424.56,477.58 424.97,477.93 425.37,478.29 425.78,478.65 426.18,479.02 426.59,479.4 426.99,479.78 427.4,480.17 427.8,480.57 428.21,480.96 428.61,481.37 429.01,481.77 429.42,482.18 429.82,482.6 430.23,483.01 430.63,483.43 431.04,483.85 431.44,484.27 431.85,484.69 432.25,485.12" fill="none" stroke="#262626" stroke-width="1.1" stroke-linejoin="round"/><polyline points="420.25,502.91 420.38,502.6 420.52,502.29 420.65,501.98 420.79,501.67 420.92,501.37 421.06,501.07 421.19,500.77 421.33,500.48 421.46,500.19 421.6,499.9 421.73,499.61 421.87,499.32 422,499.04 422.14,498.76 422.27,498.49 422.41,498.22 422.54,497.95 422.68,497.68 422.81,497.42 422.95,497.16 423.08,496.91 423.22,496.66 423.35,496.41 423.49,496.17 423.62,495.93 423.76,495.7 423.89,495.47 424.03,495.24 424.16,495.02 424.29,494.8 424.43,494.59 424.56,494.38 424.7,494.18 424.83,493.98 424.97,493.79 425.1,493.6 425.24,493.42 425.37,493.25 425.51,493.07 425.64,492.91 425.78,492.75 425.91,492.59 426.05,492.44 426.18,492.3 426.32,492.16 426.45,492.03 426.59,491.89 426.72,491.76 426.86,491.62 426.99,491.49 427.13,491.36 427.26,491.22 427.4,491.09 427.53,490.96 427.67,490.84 427.8,490.71 427.94,490.59 428.07,490.46 428.21,490.34 428.34,490.22 428.47,490.1 428.61,489.99 428.74,489.87 428.88,489.76 429.01,489.65 429.15,489.55 429.28,489.44 429.42,489.34 429.55,489.24 429.69,489.15 429.82,489.05 429.96,488.96 430.09,488.87 430.23,488.79 430.36,488.71 430.5,488.63 430.63,488.56 430.77,488.49 430.9,488.42 431.04,488.35 431.17,488.29 431.31,488.24 431.44,488.19 431.58,488.14 431.71,488.09 431.85,488.05 431.98,488.02 432.12,487.99 432.25,487.96" fill="none" stroke="#262626" stroke-width="1.1" stroke-linejoin="round"/><polyline points="410.65,502.19 410.72,502.04 410.78,501.88 410.85,501.73 410.92,501.58 410.99,501.44 411.05,501.3 411.12,501.16 411.19,501.03 411.26,500.9 411.32,500.77 411.39,500.65 411.46,500.53 411.53,500.42 411.59,500.31 411.66,500.2 411.73,500.1 411.8,500 411.86,499.9 411.93,499.8 412,499.71 412.07,499.63 412.13,499.55 412.2,499.47 412.27,499.39 412.34,499.32 412.4,499.25 412.47,499.19 412.54,499.13 412.61,499.07 412.67,499.01 412.74,498.96 412.81,498.92 412.87,498.87 412.94,498.83 413.01,498.8 413.08,498.77 413.14,498.74 413.21,498.71 413.28,498.69 413.35,498.67 413.41,498.66 413.48,498.65 413.55,498.64 413.62,498.64 413.68,498.64 413.75,498.64 413.82,498.65 413.89,498.66 413.95,498.67 414.02,498.69 414.09,498.71 414.16,498.74 414.22,498.77 414.29,498.8 414.36,498.83 414.43,498.87 414.49,498.92 414.56,498.96 414.63,499.01 414.69,499.07 414.76,499.13 414.83,499.19 414.9,499.25 414.96,499.32 415.03,499.39 415.1,499.47 415.17,499.55 415.23,499.63 415.3,499.71 415.37,499.8 415.44,499.9 415.5,500 415.57,500.1 415.64,500.2 415.71,500.31 415.77,500.42 415.84,500.53 415.91,500.65 415.98,500.77 416.04,500.9 416.11,501.03 416.18,501.16 416.25,501.3 416.31,501.44 416.38,501.58 416.45,501.73 416.52,501.88 416.58,502.04 416.65,502.19" fill="none" stroke="#262626" stroke-width="1.1" stroke-linejoin="round"/></g>
<line x1="394.45" y1="457.13" x2="394.45" y2="451.91" stroke="#f0f048" stroke-width="3"/>
<line x1="394.45" y1="451.91" x2="394.45" y2="408.68" stroke="#98e438" stroke-width="2.2"/>
<polygon points="391.65,409.68 397.25,409.68 394.45,405.18" fill="#40c020" stroke="none" stroke-width="0"/>
<line x1="410.95" y1="405.18" x2="399.45" y2="405.18" stroke="#3a6ae8" stroke-width="1.8"/>
<polygon points="396.25,405.18 400.95,402.78 400.95,407.58" fill="#1838d8" stroke="none" stroke-width="0"/>
<rect x="372.25" y="359.4" width="60" height="142.3" fill="none" stroke="#2a2a2a" stroke-width="1.1"/>
<line x1="372.25" y1="359.4" x2="374.75" y2="359.4" stroke="#2a2a2a" stroke-width="0.8"/>
<line x1="432.25" y1="359.4" x2="429.75" y2="359.4" stroke="#2a2a2a" stroke-width="0.8"/>
<text x="370.75" y="362.1" font-size="8" fill="#444" text-anchor="end" font-family="'Liberation Serif', 'Times New Roman', serif" stroke="#444" stroke-width="0.24">4</text>
<line x1="372.25" y1="371.26" x2="374.75" y2="371.26" stroke="#2a2a2a" stroke-width="0.8"/>
<line x1="432.25" y1="371.26" x2="429.75" y2="371.26" stroke="#2a2a2a" stroke-width="0.8"/>
<text x="370.75" y="373.96" font-size="8" fill="#444" text-anchor="end" font-family="'Liberation Serif', 'Times New Roman', serif" stroke="#444" stroke-width="0.24">3.5</text>
<line x1="372.25" y1="383.12" x2="374.75" y2="383.12" stroke="#2a2a2a" stroke-width="0.8"/>
<line x1="432.25" y1="383.12" x2="429.75" y2="383.12" stroke="#2a2a2a" stroke-width="0.8"/>
<text x="370.75" y="385.82" font-size="8" fill="#444" text-anchor="end" font-family="'Liberation Serif', 'Times New Roman', serif" stroke="#444" stroke-width="0.24">3</text>
<line x1="372.25" y1="394.98" x2="374.75" y2="394.98" stroke="#2a2a2a" stroke-width="0.8"/>
<line x1="432.25" y1="394.98" x2="429.75" y2="394.98" stroke="#2a2a2a" stroke-width="0.8"/>
<text x="370.75" y="397.68" font-size="8" fill="#444" text-anchor="end" font-family="'Liberation Serif', 'Times New Roman', serif" stroke="#444" stroke-width="0.24">2.5</text>
<line x1="372.25" y1="406.84" x2="374.75" y2="406.84" stroke="#2a2a2a" stroke-width="0.8"/>
<line x1="432.25" y1="406.84" x2="429.75" y2="406.84" stroke="#2a2a2a" stroke-width="0.8"/>
<text x="370.75" y="409.54" font-size="8" fill="#444" text-anchor="end" font-family="'Liberation Serif', 'Times New Roman', serif" stroke="#444" stroke-width="0.24">2</text>
<line x1="372.25" y1="418.7" x2="374.75" y2="418.7" stroke="#2a2a2a" stroke-width="0.8"/>
<line x1="432.25" y1="418.7" x2="429.75" y2="418.7" stroke="#2a2a2a" stroke-width="0.8"/>
<text x="370.75" y="421.4" font-size="8" fill="#444" text-anchor="end" font-family="'Liberation Serif', 'Times New Roman', serif" stroke="#444" stroke-width="0.24">1.5</text>
<line x1="372.25" y1="430.56" x2="374.75" y2="430.56" stroke="#2a2a2a" stroke-width="0.8"/>
<line x1="432.25" y1="430.56" x2="429.75" y2="430.56" stroke="#2a2a2a" stroke-width="0.8"/>
<text x="370.75" y="433.26" font-size="8" fill="#444" text-anchor="end" font-family="'Liberation Serif', 'Times New Roman', serif" stroke="#444" stroke-width="0.24">1</text>
<line x1="372.25" y1="442.42" x2="374.75" y2="442.42" stroke="#2a2a2a" stroke-width="0.8"/>
<line x1="432.25" y1="442.42" x2="429.75" y2="442.42" stroke="#2a2a2a" stroke-width="0.8"/>
<text x="370.75" y="445.12" font-size="8" fill="#444" text-anchor="end" font-family="'Liberation Serif', 'Times New Roman', serif" stroke="#444" stroke-width="0.24">0.5</text>
<line x1="372.25" y1="454.28" x2="374.75" y2="454.28" stroke="#2a2a2a" stroke-width="0.8"/>
<line x1="432.25" y1="454.28" x2="429.75" y2="454.28" stroke="#2a2a2a" stroke-width="0.8"/>
<text x="370.75" y="456.98" font-size="8" fill="#444" text-anchor="end" font-family="'Liberation Serif', 'Times New Roman', serif" stroke="#444" stroke-width="0.24">0</text>
<line x1="372.25" y1="466.14" x2="374.75" y2="466.14" stroke="#2a2a2a" stroke-width="0.8"/>
<line x1="432.25" y1="466.14" x2="429.75" y2="466.14" stroke="#2a2a2a" stroke-width="0.8"/>
<text x="370.75" y="468.84" font-size="8" fill="#444" text-anchor="end" font-family="'Liberation Serif', 'Times New Roman', serif" stroke="#444" stroke-width="0.24">-0.5</text>
<line x1="372.25" y1="478" x2="374.75" y2="478" stroke="#2a2a2a" stroke-width="0.8"/>
<line x1="432.25" y1="478" x2="429.75" y2="478" stroke="#2a2a2a" stroke-width="0.8"/>
<text x="370.75" y="480.7" font-size="8" fill="#444" text-anchor="end" font-family="'Liberation Serif', 'Times New Roman', serif" stroke="#444" stroke-width="0.24">-1</text>
<line x1="372.25" y1="489.86" x2="374.75" y2="489.86" stroke="#2a2a2a" stroke-width="0.8"/>
<line x1="432.25" y1="489.86" x2="429.75" y2="489.86" stroke="#2a2a2a" stroke-width="0.8"/>
<text x="370.75" y="492.56" font-size="8" fill="#444" text-anchor="end" font-family="'Liberation Serif', 'Times New Roman', serif" stroke="#444" stroke-width="0.24">-1.5</text>
<line x1="372.25" y1="501.72" x2="374.75" y2="501.72" stroke="#2a2a2a" stroke-width="0.8"/>
<line x1="432.25" y1="501.72" x2="429.75" y2="501.72" stroke="#2a2a2a" stroke-width="0.8"/>
<text x="370.75" y="504.42" font-size="8" fill="#444" text-anchor="end" font-family="'Liberation Serif', 'Times New Roman', serif" stroke="#444" stroke-width="0.24">-2</text>
<text x="372.25" y="512.5" font-size="10.5" fill="#333" text-anchor="middle" font-family="'Liberation Serif', 'Times New Roman', serif" stroke="#333" stroke-width="0.32">M</text>
<text x="392.23" y="512.5" font-size="10.5" fill="#333" text-anchor="middle" font-family="'Liberation Serif', 'Times New Roman', serif" stroke="#333" stroke-width="0.32">K</text>
<text x="410.95" y="512.5" font-size="10.5" fill="#333" text-anchor="middle" font-family="'Liberation Serif', 'Times New Roman', serif" stroke="#333" stroke-width="0.32">Q</text>
<text x="432.25" y="512.5" font-size="10.5" fill="#333" text-anchor="middle" font-family="'Liberation Serif', 'Times New Roman', serif" stroke="#333" stroke-width="0.32">Γ</text>
<text x="402.25" y="351.6" font-size="8.2" fill="#333" text-anchor="middle" font-family="'Liberation Sans', Arial, sans-serif" stroke="#333" stroke-width="0.25">2.0 GPa</text>
<clipPath id="clipH2"><rect x="454.4" y="359.4" width="59.3" height="142.3"/></clipPath>
<g clip-path="url(#clipH2)"><line x1="474.15" y1="359.4" x2="474.15" y2="501.7" stroke="#b8a8a8" stroke-width="0.8" stroke-dasharray="1,1.6"/><line x1="492.65" y1="359.4" x2="492.65" y2="501.7" stroke="#b8a8a8" stroke-width="0.8" stroke-dasharray="1,1.6"/><polyline points="454.4,380.75 455.07,380.34 455.73,379.93 456.4,379.51 457.07,379.08 457.73,378.63 458.4,378.16 459.06,377.66 459.73,377.14 460.4,376.58 461.06,375.98 461.73,375.33 462.4,374.65 463.06,373.9 463.73,373.11 464.39,372.26 465.06,371.39 465.73,370.49 466.39,369.58 467.06,368.68 467.73,367.81 468.39,366.96 469.06,366.17 469.72,365.44 470.39,364.79 471.06,364.22 471.72,363.76 472.39,363.42 473.06,363.22 473.72,363.15 474.39,363.25 475.06,363.51 475.72,363.91 476.39,364.43 477.05,365.06 477.72,365.78 478.39,366.57 479.05,367.41 479.72,368.28 480.39,369.16 481.05,370.03 481.72,370.88 482.38,371.71 483.05,372.51 483.72,373.29 484.38,374.05 485.05,374.78 485.72,375.49 486.38,376.18 487.05,376.85 487.71,377.5 488.38,378.13 489.05,378.74 489.71,379.33 490.38,379.9 491.05,380.46 491.71,380.99 492.38,381.49 493.04,381.96 493.71,382.39 494.38,382.78 495.04,383.13 495.71,383.43 496.38,383.68 497.04,383.88 497.71,384.01 498.38,384.07 499.04,384.08 499.71,384.01 500.37,383.89 501.04,383.72 501.71,383.49 502.37,383.22 503.04,382.91 503.71,382.57 504.37,382.19 505.04,381.78 505.7,381.35 506.37,380.9 507.04,380.43 507.7,379.95 508.37,379.46 509.04,378.96 509.7,378.46 510.37,377.94 511.03,377.42 511.7,376.89 512.37,376.36 513.03,375.83 513.7,375.29" fill="none" stroke="#5a5a5a" stroke-width="1.15" stroke-linejoin="round"/><polyline points="454.4,381.22 455.07,380.83 455.73,380.44 456.4,380.04 457.07,379.63 457.73,379.21 458.4,378.78 459.06,378.32 459.73,377.85 460.4,377.35 461.06,376.82 461.73,376.26 462.4,375.67 463.06,375.05 463.73,374.38 464.39,373.68 465.06,372.96 465.73,372.23 466.39,371.49 467.06,370.77 467.73,370.07 468.39,369.39 469.06,368.77 469.72,368.19 470.39,367.68 471.06,367.24 471.72,366.89 472.39,366.64 473.06,366.49 473.72,366.47 474.39,366.57 475.06,366.8 475.72,367.15 476.39,367.6 477.05,368.14 477.72,368.75 478.39,369.42 479.05,370.14 479.72,370.88 480.39,371.65 481.05,372.41 481.72,373.16 482.38,373.9 483.05,374.62 483.72,375.33 484.38,376.02 485.05,376.7 485.72,377.36 486.38,378 487.05,378.64 487.71,379.25 488.38,379.85 489.05,380.43 489.71,381 490.38,381.55 491.05,382.08 491.71,382.59 492.38,383.07 493.04,383.52 493.71,383.93 494.38,384.31 495.04,384.64 495.71,384.92 496.38,385.15 497.04,385.33 497.71,385.44 498.38,385.5 499.04,385.48 499.71,385.41 500.37,385.27 501.04,385.08 501.71,384.84 502.37,384.56 503.04,384.23 503.71,383.86 504.37,383.46 505.04,383.03 505.7,382.57 506.37,382.09 507.04,381.59 507.7,381.08 508.37,380.55 509.04,380.01 509.7,379.46 510.37,378.9 511.03,378.33 511.7,377.75 512.37,377.17 513.03,376.59 513.7,376" fill="none" stroke="#6a6a6a" stroke-width="1.15" stroke-linejoin="round"/><polyline points="461.52,359.4 462.1,361.18 462.69,362.95 463.28,364.68 463.86,366.37 464.45,368 465.03,369.54 465.62,370.99 466.21,372.33 466.79,373.54 467.38,374.63 467.97,375.6 468.55,376.45 469.14,377.19 469.72,377.81 470.31,378.33 470.9,378.74 471.48,379.06 472.07,379.28 472.66,379.4 473.24,379.44 473.83,379.39 474.42,379.25 475,379.05 475.59,378.78 476.17,378.45 476.76,378.09 477.35,377.7 477.93,377.29 478.52,376.87 479.11,376.46 479.69,376.06 480.28,375.69 480.87,375.36 481.45,375.09 482.04,374.87 482.62,374.73 483.21,374.67 483.8,374.71 484.38,374.86 484.97,375.13 485.56,375.53 486.14,376.05 486.73,376.68 487.31,377.4 487.9,378.2 488.49,379.05 489.07,379.93 489.66,380.84 490.25,381.74 490.83,382.63 491.42,383.48 492.01,384.29 492.59,385.04 493.18,385.73 493.76,386.35 494.35,386.89 494.94,387.34 495.52,387.71 496.11,387.98 496.7,388.14 497.28,388.2 497.87,388.16 498.46,388.02 499.04,387.81 499.63,387.52 500.21,387.17 500.8,386.76 501.39,386.3 501.97,385.81 502.56,385.28 503.15,384.73 503.73,384.16 504.32,383.59 504.9,383.02 505.49,382.46 506.08,381.91 506.66,381.37 507.25,380.84 507.84,380.31 508.42,379.79 509.01,379.28 509.6,378.77 510.18,378.26 510.77,377.76 511.35,377.26 511.94,376.77 512.53,376.28 513.11,375.78 513.7,375.29" fill="none" stroke="#303030" stroke-width="1.2" stroke-linejoin="round"/><polyline points="500.65,359.4 500.8,359.68 500.95,359.96 501.09,360.24 501.24,360.51 501.39,360.79 501.53,361.06 501.68,361.33 501.83,361.6 501.97,361.86 502.12,362.13 502.27,362.39 502.41,362.65 502.56,362.91 502.71,363.17 502.85,363.42 503,363.67 503.15,363.92 503.29,364.17 503.44,364.41 503.59,364.65 503.73,364.89 503.88,365.12 504.03,365.36 504.17,365.59 504.32,365.81 504.47,366.04 504.61,366.26 504.76,366.47 504.9,366.69 505.05,366.9 505.2,367.11 505.34,367.31 505.49,367.51 505.64,367.71 505.78,367.9 505.93,368.09 506.08,368.28 506.22,368.46 506.37,368.64 506.52,368.81 506.66,368.98 506.81,369.15 506.96,369.32 507.1,369.49 507.25,369.65 507.4,369.82 507.54,369.98 507.69,370.15 507.84,370.31 507.98,370.47 508.13,370.63 508.28,370.79 508.42,370.94 508.57,371.1 508.72,371.25 508.86,371.4 509.01,371.55 509.16,371.7 509.3,371.85 509.45,372 509.6,372.14 509.74,372.28 509.89,372.42 510.04,372.56 510.18,372.7 510.33,372.83 510.48,372.97 510.62,373.1 510.77,373.23 510.91,373.35 511.06,373.48 511.21,373.6 511.35,373.72 511.5,373.84 511.65,373.95 511.79,374.07 511.94,374.18 512.09,374.28 512.23,374.39 512.38,374.49 512.53,374.59 512.67,374.69 512.82,374.78 512.97,374.88 513.11,374.96 513.26,375.05 513.41,375.13 513.55,375.21 513.7,375.29" fill="none" stroke="#303030" stroke-width="1.2" stroke-linejoin="round"/><polyline points="454.4,393.56 455.07,393.44 455.73,393.33 456.4,393.24 457.07,393.18 457.73,393.16 458.4,393.2 459.06,393.3 459.73,393.48 460.4,393.72 461.06,394.03 461.73,394.4 462.4,394.82 463.06,395.29 463.73,395.81 464.39,396.36 465.06,396.95 465.73,397.56 466.39,398.19 467.06,398.84 467.73,399.49 468.39,400.13 469.06,400.75 469.72,401.33 470.39,401.88 471.06,402.36 471.72,402.78 472.39,403.11 473.06,403.35 473.72,403.49 474.39,403.51 475.06,403.41 475.72,403.2 476.39,402.88 477.05,402.47 477.72,401.96 478.39,401.37 479.05,400.71 479.72,399.97 480.39,399.2 481.05,398.44 481.72,397.72 482.38,397.08 483.05,396.58 483.72,396.25 484.38,396.14 485.05,396.24 485.72,396.54 486.38,397 487.05,397.6 487.71,398.31 488.38,399.11 489.05,399.95 489.71,400.8 490.38,401.61 491.05,402.35 491.71,402.96 492.38,403.4 493.04,403.63 493.71,403.63 494.38,403.43 495.04,403.04 495.71,402.48 496.38,401.77 497.04,400.93 497.71,399.97 498.38,398.91 499.04,397.77 499.71,396.57 500.37,395.32 501.04,394.04 501.71,392.74 502.37,391.42 503.04,390.12 503.71,388.83 504.37,387.58 505.04,386.37 505.7,385.23 506.37,384.16 507.04,383.17 507.7,382.28 508.37,381.46 509.04,380.72 509.7,380.03 510.37,379.4 511.03,378.81 511.7,378.26 512.37,377.73 513.03,377.22 513.7,376.72" fill="none" stroke="#3030e0" stroke-width="1.2" stroke-linejoin="round"/><polyline points="454.4,392.13 455.07,392.01 455.73,391.9 456.4,391.81 457.07,391.76 457.73,391.74 458.4,391.78 459.06,391.88 459.73,392.05 460.4,392.3 461.06,392.61 461.73,392.98 462.4,393.4 463.06,393.87 463.73,394.39 464.39,394.94 465.06,395.52 465.73,396.14 466.39,396.77 467.06,397.42 467.73,398.07 468.39,398.71 469.06,399.32 469.72,399.91 470.39,400.45 471.06,400.94 471.72,401.35 472.39,401.69 473.06,401.93 473.72,402.07 474.39,402.09 475.06,401.99 475.72,401.78 476.39,401.46 477.05,401.05 477.72,400.54 478.39,399.95 479.05,399.28 479.72,398.55 480.39,397.78 481.05,397.01 481.72,396.29 482.38,395.66 483.05,395.16 483.72,394.83 484.38,394.71 485.05,394.82 485.72,395.12 486.38,395.58 487.05,396.18 487.71,396.89 488.38,397.68 489.05,398.52 489.71,399.37 490.38,400.19 491.05,400.93 491.71,401.54 492.38,401.98 493.04,402.2 493.71,402.21 494.38,402 495.04,401.62 495.71,401.06 496.38,400.35 497.04,399.5 497.71,398.54 498.38,397.49 499.04,396.35 499.71,395.15 500.37,393.9 501.04,392.62 501.71,391.31 502.37,390 503.04,388.69 503.71,387.41 504.37,386.15 505.04,384.95 505.7,383.8 506.37,382.73 507.04,381.75 507.7,380.86 508.37,380.04 509.04,379.29 509.7,378.61 510.37,377.98 511.03,377.39 511.7,376.83 512.37,376.3 513.03,375.79 513.7,375.29" fill="none" stroke="#e03060" stroke-width="1" stroke-linejoin="round"/><polyline points="454.4,392.85 455.07,392.72 455.73,392.61 456.4,392.52 457.07,392.47 457.73,392.45 458.4,392.49 459.06,392.59 459.73,392.76 460.4,393.01 461.06,393.32 461.73,393.69 462.4,394.11 463.06,394.58 463.73,395.1 464.39,395.65 465.06,396.24 465.73,396.85 466.39,397.48 467.06,398.13 467.73,398.78 468.39,399.42 469.06,400.04 469.72,400.62 470.39,401.16 471.06,401.65 471.72,402.06 472.39,402.4 473.06,402.64 473.72,402.78 474.39,402.8 475.06,402.7 475.72,402.49 476.39,402.17 477.05,401.76 477.72,401.25 478.39,400.66 479.05,400 479.72,399.26 480.39,398.49 481.05,397.73 481.72,397.01 482.38,396.37 483.05,395.87 483.72,395.54 484.38,395.43 485.05,395.53 485.72,395.83 486.38,396.29 487.05,396.89 487.71,397.6 488.38,398.39 489.05,399.23 489.71,400.09 490.38,400.9 491.05,401.64 491.71,402.25 492.38,402.69 493.04,402.91 493.71,402.92 494.38,402.72 495.04,402.33 495.71,401.77 496.38,401.06 497.04,400.21 497.71,399.26 498.38,398.2 499.04,397.06 499.71,395.86 500.37,394.61 501.04,393.33 501.71,392.02 502.37,390.71 503.04,389.4 503.71,388.12 504.37,386.86 505.04,385.66 505.7,384.51 506.37,383.44 507.04,382.46 507.7,381.57 508.37,380.75 509.04,380.01 509.7,379.32 510.37,378.69 511.03,378.1 511.7,377.54 512.37,377.02 513.03,376.51 513.7,376" fill="none" stroke="#5a2a8a" stroke-width="1.3" stroke-linejoin="round"/><polyline points="454.4,469.94 455.07,469.68 455.73,469.43 456.4,469.17 457.07,468.9 457.73,468.61 458.4,468.31 459.06,467.98 459.73,467.63 460.4,467.26 461.06,466.84 461.73,466.4 462.4,465.91 463.06,465.39 463.73,464.81 464.39,464.2 465.06,463.56 465.73,462.9 466.39,462.23 467.06,461.56 467.73,460.92 468.39,460.29 469.06,459.7 469.72,459.17 470.39,458.68 471.06,458.27 471.72,457.94 472.39,457.71 473.06,457.57 473.72,457.55 474.39,457.65 475.06,457.88 475.72,458.23 476.39,458.69 477.05,459.24 477.72,459.87 478.39,460.58 479.05,461.36 479.72,462.19 480.39,463.06 481.05,463.96 481.72,464.89 482.38,465.83 483.05,466.76 483.72,467.69 484.38,468.61 485.05,469.5 485.72,470.37 486.38,471.19 487.05,471.97 487.71,472.7 488.38,473.36 489.05,473.95 489.71,474.47 490.38,474.9 491.05,475.24 491.71,475.48 492.38,475.61 493.04,475.62 493.71,475.52 494.38,475.32 495.04,475.03 495.71,474.65 496.38,474.2 497.04,473.69 497.71,473.13 498.38,472.53 499.04,471.9 499.71,471.25 500.37,470.59 501.04,469.93 501.71,469.29 502.37,468.66 503.04,468.07 503.71,467.52 504.37,467.01 505.04,466.54 505.7,466.1 506.37,465.7 507.04,465.32 507.7,464.97 508.37,464.64 509.04,464.34 509.7,464.05 510.37,463.78 511.03,463.53 511.7,463.28 512.37,463.04 513.03,462.81 513.7,462.58" fill="none" stroke="#2a2ae8" stroke-width="1.3" stroke-linejoin="round"/><polyline points="454.4,469.22 455.07,468.98 455.73,468.73 456.4,468.47 457.07,468.2 457.73,467.91 458.4,467.59 459.06,467.24 459.73,466.86 460.4,466.44 461.06,465.97 461.73,465.45 462.4,464.88 463.06,464.24 463.73,463.54 464.39,462.79 465.06,461.99 465.73,461.16 466.39,460.32 467.06,459.48 467.73,458.66 468.39,457.86 469.06,457.1 469.72,456.41 470.39,455.78 471.06,455.24 471.72,454.8 472.39,454.48 473.06,454.28 473.72,454.23 474.39,454.34 475.06,454.6 475.72,455.02 476.39,455.56 477.05,456.23 477.72,456.99 478.39,457.84 479.05,458.77 479.72,459.75 480.39,460.77 481.05,461.82 481.72,462.89 482.38,463.95 483.05,464.99 483.72,466.02 484.38,467.01 485.05,467.97 485.72,468.88 486.38,469.75 487.05,470.56 487.71,471.3 488.38,471.98 489.05,472.58 489.71,473.09 490.38,473.52 491.05,473.85 491.71,474.08 492.38,474.19 493.04,474.19 493.71,474.08 494.38,473.86 495.04,473.55 495.71,473.16 496.38,472.69 497.04,472.17 497.71,471.59 498.38,470.98 499.04,470.33 499.71,469.67 500.37,468.99 501.04,468.32 501.71,467.66 502.37,467.02 503.04,466.41 503.71,465.85 504.37,465.32 505.04,464.83 505.7,464.38 506.37,463.96 507.04,463.57 507.7,463.2 508.37,462.86 509.04,462.54 509.7,462.24 510.37,461.96 511.03,461.69 511.7,461.43 512.37,461.18 513.03,460.93 513.7,460.68" fill="none" stroke="#e02850" stroke-width="1.3" stroke-linejoin="round"/><polyline points="454.4,470.41 455.07,470.17 455.73,469.92 456.4,469.66 457.07,469.39 457.73,469.09 458.4,468.78 459.06,468.43 459.73,468.04 460.4,467.62 461.06,467.15 461.73,466.63 462.4,466.06 463.06,465.43 463.73,464.73 464.39,463.98 465.06,463.18 465.73,462.35 466.39,461.51 467.06,460.67 467.73,459.84 468.39,459.04 469.06,458.29 469.72,457.59 470.39,456.97 471.06,456.43 471.72,455.99 472.39,455.66 473.06,455.47 473.72,455.42 474.39,455.52 475.06,455.79 475.72,456.2 476.39,456.75 477.05,457.41 477.72,458.18 478.39,459.03 479.05,459.95 479.72,460.93 480.39,461.96 481.05,463.01 481.72,464.07 482.38,465.13 483.05,466.18 483.72,467.2 484.38,468.2 485.05,469.15 485.72,470.07 486.38,470.93 487.05,471.74 487.71,472.49 488.38,473.16 489.05,473.76 489.71,474.28 490.38,474.71 491.05,475.04 491.71,475.26 492.38,475.38 493.04,475.38 493.71,475.26 494.38,475.05 495.04,474.74 495.71,474.34 496.38,473.88 497.04,473.36 497.71,472.78 498.38,472.16 499.04,471.52 499.71,470.85 500.37,470.18 501.04,469.51 501.71,468.84 502.37,468.21 503.04,467.6 503.71,467.03 504.37,466.51 505.04,466.02 505.7,465.57 506.37,465.15 507.04,464.75 507.7,464.39 508.37,464.05 509.04,463.73 509.7,463.43 510.37,463.15 511.03,462.87 511.7,462.61 512.37,462.36 513.03,462.11 513.7,461.87" fill="none" stroke="#8a2a7a" stroke-width="0.8" stroke-linejoin="round"/><polyline points="454.4,474.44 454.49,474.71 454.59,474.98 454.68,475.25 454.77,475.52 454.87,475.79 454.96,476.06 455.05,476.34 455.15,476.62 455.24,476.89 455.33,477.17 455.43,477.45 455.52,477.73 455.61,478.01 455.71,478.3 455.8,478.58 455.89,478.87 455.99,479.15 456.08,479.44 456.17,479.73 456.27,480.02 456.36,480.31 456.45,480.61 456.55,480.9 456.64,481.2 456.73,481.49 456.83,481.79 456.92,482.09 457.01,482.39 457.11,482.69 457.2,482.99 457.29,483.29 457.38,483.6 457.48,483.9 457.57,484.21 457.66,484.52 457.76,484.83 457.85,485.13 457.94,485.44 458.04,485.76 458.13,486.07 458.22,486.38 458.32,486.7 458.41,487.01 458.5,487.33 458.6,487.65 458.69,487.97 458.78,488.29 458.88,488.61 458.97,488.93 459.06,489.26 459.16,489.58 459.25,489.91 459.34,490.24 459.44,490.57 459.53,490.9 459.62,491.23 459.72,491.56 459.81,491.9 459.9,492.24 460,492.57 460.09,492.91 460.18,493.25 460.28,493.6 460.37,493.94 460.46,494.28 460.56,494.63 460.65,494.97 460.74,495.32 460.84,495.67 460.93,496.02 461.02,496.37 461.12,496.73 461.21,497.08 461.3,497.44 461.4,497.79 461.49,498.15 461.58,498.51 461.68,498.87 461.77,499.23 461.86,499.59 461.96,499.96 462.05,500.32 462.14,500.69 462.24,501.05 462.33,501.42 462.42,501.79 462.52,502.16 462.61,502.53 462.7,502.91" fill="none" stroke="#262626" stroke-width="1.1" stroke-linejoin="round"/><polyline points="478.12,502.91 478.52,502.26 478.92,501.62 479.32,500.97 479.72,500.33 480.12,499.69 480.52,499.04 480.92,498.4 481.32,497.76 481.72,497.12 482.12,496.48 482.52,495.83 482.92,495.19 483.32,494.55 483.72,493.91 484.12,493.28 484.52,492.64 484.92,492 485.32,491.37 485.72,490.73 486.12,490.1 486.52,489.46 486.92,488.83 487.31,488.2 487.71,487.57 488.11,486.95 488.51,486.33 488.91,485.71 489.31,485.1 489.71,484.49 490.11,483.9 490.51,483.31 490.91,482.74 491.31,482.17 491.71,481.62 492.11,481.08 492.51,480.55 492.91,480.04 493.31,479.55 493.71,479.08 494.11,478.62 494.51,478.18 494.91,477.76 495.31,477.37 495.71,476.99 496.11,476.64 496.51,476.32 496.91,476.02 497.31,475.74 497.71,475.5 498.11,475.28 498.51,475.1 498.91,474.95 499.31,474.83 499.71,474.74 500.11,474.69 500.51,474.68 500.91,474.7 501.31,474.76 501.71,474.85 502.11,474.98 502.51,475.13 502.91,475.32 503.31,475.53 503.71,475.77 504.11,476.03 504.51,476.3 504.9,476.6 505.3,476.91 505.7,477.24 506.1,477.58 506.5,477.93 506.9,478.29 507.3,478.65 507.7,479.02 508.1,479.4 508.5,479.78 508.9,480.17 509.3,480.57 509.7,480.96 510.1,481.37 510.5,481.77 510.9,482.18 511.3,482.6 511.7,483.01 512.1,483.43 512.5,483.85 512.9,484.27 513.3,484.69 513.7,485.12" fill="none" stroke="#262626" stroke-width="1.1" stroke-linejoin="round"/><polyline points="501.84,502.91 501.97,502.6 502.11,502.29 502.24,501.98 502.37,501.67 502.51,501.37 502.64,501.07 502.77,500.77 502.91,500.48 503.04,500.19 503.17,499.9 503.31,499.61 503.44,499.32 503.57,499.04 503.71,498.76 503.84,498.49 503.97,498.22 504.11,497.95 504.24,497.68 504.37,497.42 504.51,497.16 504.64,496.91 504.77,496.66 504.9,496.41 505.04,496.17 505.17,495.93 505.3,495.7 505.44,495.47 505.57,495.24 505.7,495.02 505.84,494.8 505.97,494.59 506.1,494.38 506.24,494.18 506.37,493.98 506.5,493.79 506.64,493.6 506.77,493.42 506.9,493.25 507.04,493.07 507.17,492.91 507.3,492.75 507.44,492.59 507.57,492.44 507.7,492.3 507.84,492.16 507.97,492.03 508.1,491.89 508.24,491.76 508.37,491.62 508.5,491.49 508.64,491.36 508.77,491.22 508.9,491.09 509.04,490.96 509.17,490.84 509.3,490.71 509.44,490.59 509.57,490.46 509.7,490.34 509.84,490.22 509.97,490.1 510.1,489.99 510.24,489.87 510.37,489.76 510.5,489.65 510.64,489.55 510.77,489.44 510.9,489.34 511.03,489.24 511.17,489.15 511.3,489.05 511.43,488.96 511.57,488.87 511.7,488.79 511.83,488.71 511.97,488.63 512.1,488.56 512.23,488.49 512.37,488.42 512.5,488.35 512.63,488.29 512.77,488.24 512.9,488.19 513.03,488.14 513.17,488.09 513.3,488.05 513.43,488.02 513.57,487.99 513.7,487.96" fill="none" stroke="#262626" stroke-width="1.1" stroke-linejoin="round"/><polyline points="492.35,502.19 492.42,502.04 492.49,501.88 492.55,501.73 492.62,501.58 492.69,501.44 492.75,501.3 492.82,501.16 492.89,501.03 492.95,500.9 493.02,500.77 493.08,500.65 493.15,500.53 493.22,500.42 493.28,500.31 493.35,500.2 493.42,500.1 493.48,500 493.55,499.9 493.62,499.8 493.68,499.71 493.75,499.63 493.82,499.55 493.88,499.47 493.95,499.39 494.02,499.32 494.08,499.25 494.15,499.19 494.22,499.13 494.28,499.07 494.35,499.01 494.42,498.96 494.48,498.92 494.55,498.87 494.62,498.83 494.68,498.8 494.75,498.77 494.82,498.74 494.88,498.71 494.95,498.69 495.02,498.67 495.08,498.66 495.15,498.65 495.22,498.64 495.28,498.64 495.35,498.64 495.42,498.64 495.48,498.65 495.55,498.66 495.62,498.67 495.68,498.69 495.75,498.71 495.82,498.74 495.88,498.77 495.95,498.8 496.02,498.83 496.08,498.87 496.15,498.92 496.22,498.96 496.28,499.01 496.35,499.07 496.42,499.13 496.48,499.19 496.55,499.25 496.62,499.32 496.68,499.39 496.75,499.47 496.82,499.55 496.88,499.63 496.95,499.71 497.02,499.8 497.08,499.9 497.15,500 497.22,500.1 497.28,500.2 497.35,500.31 497.42,500.42 497.48,500.53 497.55,500.65 497.62,500.77 497.68,500.9 497.75,501.03 497.82,501.16 497.88,501.3 497.95,501.44 498.02,501.58 498.08,501.73 498.15,501.88 498.22,502.04 498.28,502.19" fill="none" stroke="#262626" stroke-width="1.1" stroke-linejoin="round"/></g>
<line x1="475.15" y1="457.13" x2="475.15" y2="451.91" stroke="#f0f048" stroke-width="3"/>
<line x1="475.15" y1="451.91" x2="475.15" y2="406.78" stroke="#98e438" stroke-width="2.2"/>
<polygon points="472.35,407.78 477.95,407.78 475.15,403.28" fill="#40c020" stroke="none" stroke-width="0"/>
<line x1="492.65" y1="403.28" x2="480.15" y2="403.28" stroke="#3a6ae8" stroke-width="1.8"/>
<polygon points="476.95,403.28 481.65,400.88 481.65,405.68" fill="#1838d8" stroke="none" stroke-width="0"/>
<rect x="454.4" y="359.4" width="59.3" height="142.3" fill="none" stroke="#2a2a2a" stroke-width="1.1"/>
<line x1="454.4" y1="359.4" x2="456.9" y2="359.4" stroke="#2a2a2a" stroke-width="0.8"/>
<line x1="513.7" y1="359.4" x2="511.2" y2="359.4" stroke="#2a2a2a" stroke-width="0.8"/>
<text x="452.9" y="362.1" font-size="8" fill="#444" text-anchor="end" font-family="'Liberation Serif', 'Times New Roman', serif" stroke="#444" stroke-width="0.24">4</text>
<line x1="454.4" y1="371.26" x2="456.9" y2="371.26" stroke="#2a2a2a" stroke-width="0.8"/>
<line x1="513.7" y1="371.26" x2="511.2" y2="371.26" stroke="#2a2a2a" stroke-width="0.8"/>
<text x="452.9" y="373.96" font-size="8" fill="#444" text-anchor="end" font-family="'Liberation Serif', 'Times New Roman', serif" stroke="#444" stroke-width="0.24">3.5</text>
<line x1="454.4" y1="383.12" x2="456.9" y2="383.12" stroke="#2a2a2a" stroke-width="0.8"/>
<line x1="513.7" y1="383.12" x2="511.2" y2="383.12" stroke="#2a2a2a" stroke-width="0.8"/>
<text x="452.9" y="385.82" font-size="8" fill="#444" text-anchor="end" font-family="'Liberation Serif', 'Times New Roman', serif" stroke="#444" stroke-width="0.24">3</text>
<line x1="454.4" y1="394.98" x2="456.9" y2="394.98" stroke="#2a2a2a" stroke-width="0.8"/>
<line x1="513.7" y1="394.98" x2="511.2" y2="394.98" stroke="#2a2a2a" stroke-width="0.8"/>
<text x="452.9" y="397.68" font-size="8" fill="#444" text-anchor="end" font-family="'Liberation Serif', 'Times New Roman', serif" stroke="#444" stroke-width="0.24">2.5</text>
<line x1="454.4" y1="406.84" x2="456.9" y2="406.84" stroke="#2a2a2a" stroke-width="0.8"/>
<line x1="513.7" y1="406.84" x2="511.2" y2="406.84" stroke="#2a2a2a" stroke-width="0.8"/>
<text x="452.9" y="409.54" font-size="8" fill="#444" text-anchor="end" font-family="'Liberation Serif', 'Times New Roman', serif" stroke="#444" stroke-width="0.24">2</text>
<line x1="454.4" y1="418.7" x2="456.9" y2="418.7" stroke="#2a2a2a" stroke-width="0.8"/>
<line x1="513.7" y1="418.7" x2="511.2" y2="418.7" stroke="#2a2a2a" stroke-width="0.8"/>
<text x="452.9" y="421.4" font-size="8" fill="#444" text-anchor="end" font-family="'Liberation Serif', 'Times New Roman', serif" stroke="#444" stroke-width="0.24">1.5</text>
<line x1="454.4" y1="430.56" x2="456.9" y2="430.56" stroke="#2a2a2a" stroke-width="0.8"/>
<line x1="513.7" y1="430.56" x2="511.2" y2="430.56" stroke="#2a2a2a" stroke-width="0.8"/>
<text x="452.9" y="433.26" font-size="8" fill="#444" text-anchor="end" font-family="'Liberation Serif', 'Times New Roman', serif" stroke="#444" stroke-width="0.24">1</text>
<line x1="454.4" y1="442.42" x2="456.9" y2="442.42" stroke="#2a2a2a" stroke-width="0.8"/>
<line x1="513.7" y1="442.42" x2="511.2" y2="442.42" stroke="#2a2a2a" stroke-width="0.8"/>
<text x="452.9" y="445.12" font-size="8" fill="#444" text-anchor="end" font-family="'Liberation Serif', 'Times New Roman', serif" stroke="#444" stroke-width="0.24">0.5</text>
<line x1="454.4" y1="454.28" x2="456.9" y2="454.28" stroke="#2a2a2a" stroke-width="0.8"/>
<line x1="513.7" y1="454.28" x2="511.2" y2="454.28" stroke="#2a2a2a" stroke-width="0.8"/>
<text x="452.9" y="456.98" font-size="8" fill="#444" text-anchor="end" font-family="'Liberation Serif', 'Times New Roman', serif" stroke="#444" stroke-width="0.24">0</text>
<line x1="454.4" y1="466.14" x2="456.9" y2="466.14" stroke="#2a2a2a" stroke-width="0.8"/>
<line x1="513.7" y1="466.14" x2="511.2" y2="466.14" stroke="#2a2a2a" stroke-width="0.8"/>
<text x="452.9" y="468.84" font-size="8" fill="#444" text-anchor="end" font-family="'Liberation Serif', 'Times New Roman', serif" stroke="#444" stroke-width="0.24">-0.5</text>
<line x1="454.4" y1="478" x2="456.9" y2="478" stroke="#2a2a2a" stroke-width="0.8"/>
<line x1="513.7" y1="478" x2="511.2" y2="478" stroke="#2a2a2a" stroke-width="0.8"/>
<text x="452.9" y="480.7" font-size="8" fill="#444" text-anchor="end" font-family="'Liberation Serif', 'Times New Roman', serif" stroke="#444" stroke-width="0.24">-1</text>
<line x1="454.4" y1="489.86" x2="456.9" y2="489.86" stroke="#2a2a2a" stroke-width="0.8"/>
<line x1="513.7" y1="489.86" x2="511.2" y2="489.86" stroke="#2a2a2a" stroke-width="0.8"/>
<text x="452.9" y="492.56" font-size="8" fill="#444" text-anchor="end" font-family="'Liberation Serif', 'Times New Roman', serif" stroke="#444" stroke-width="0.24">-1.5</text>
<line x1="454.4" y1="501.72" x2="456.9" y2="501.72" stroke="#2a2a2a" stroke-width="0.8"/>
<line x1="513.7" y1="501.72" x2="511.2" y2="501.72" stroke="#2a2a2a" stroke-width="0.8"/>
<text x="452.9" y="504.42" font-size="8" fill="#444" text-anchor="end" font-family="'Liberation Serif', 'Times New Roman', serif" stroke="#444" stroke-width="0.24">-2</text>
<text x="454.4" y="512.5" font-size="10.5" fill="#333" text-anchor="middle" font-family="'Liberation Serif', 'Times New Roman', serif" stroke="#333" stroke-width="0.32">M</text>
<text x="474.15" y="512.5" font-size="10.5" fill="#333" text-anchor="middle" font-family="'Liberation Serif', 'Times New Roman', serif" stroke="#333" stroke-width="0.32">K</text>
<text x="492.65" y="512.5" font-size="10.5" fill="#333" text-anchor="middle" font-family="'Liberation Serif', 'Times New Roman', serif" stroke="#333" stroke-width="0.32">Q</text>
<text x="513.7" y="512.5" font-size="10.5" fill="#333" text-anchor="middle" font-family="'Liberation Serif', 'Times New Roman', serif" stroke="#333" stroke-width="0.32">Γ</text>
<text x="484.05" y="351.6" font-size="8.2" fill="#333" text-anchor="middle" font-family="'Liberation Sans', Arial, sans-serif" stroke="#333" stroke-width="0.25">3.0 GPa</text>
<line x1="306.6" y1="409.21" x2="306.6" y2="455.47" stroke="#555" stroke-width="1.3" stroke-dasharray="2.4,1.4"/>
<line x1="303.5" y1="409.21" x2="310.5" y2="409.21" stroke="#222" stroke-width="1"/>
<line x1="303.5" y1="455.47" x2="307.5" y2="455.47" stroke="#222" stroke-width="0.8"/>
<text x="297" y="436.5" font-size="9" fill="#333" text-anchor="start" font-family="'Liberation Sans', Arial, sans-serif" stroke="#333" stroke-width="0.27">X</text>
<text x="302.8" y="438.5" font-size="5.5" fill="#333" text-anchor="start" font-family="'Liberation Sans', Arial, sans-serif" stroke="#333" stroke-width="0.16">B</text>
<text x="274.3" y="430.9" font-size="8.4" fill="#333" text-anchor="middle" font-family="'Liberation Sans', Arial, sans-serif" stroke="#333" stroke-width="0.25" transform="rotate(-90 274.3 430.9)">Energy (eV)</text></svg>
</body></html>
